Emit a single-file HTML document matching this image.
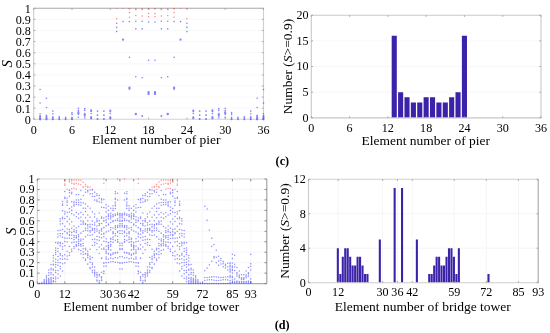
<!DOCTYPE html>
<html lang="en"><head><meta charset="utf-8"><title>Figure (c)(d)</title>
<style>html,body{margin:0;padding:0;background:#fff;}body{width:550px;height:333px;overflow:hidden;font-family:"Liberation Serif", "Times New Roman", serif;}svg{display:block}</style>
</head><body>
<svg width="550" height="333" viewBox="0 0 550 333">
<rect width="550" height="333" fill="#ffffff"/>
<path d="M33.70 108.20H263.50M33.70 97.10H263.50M33.70 86.00H263.50M33.70 74.90H263.50M33.70 63.80H263.50M33.70 52.70H263.50M33.70 41.60H263.50M33.70 30.50H263.50M33.70 19.40H263.50" stroke="#f6f6f6" stroke-width="0.8" fill="none"/>
<path d="M311.30 92.23H541.00M311.30 66.55H541.00M311.30 40.88H541.00" stroke="#f6f6f6" stroke-width="0.8" fill="none"/>
<path d="M64.84 179.00V283.60M106.15 179.00V283.60M119.92 179.00V283.60M133.69 179.00V283.60M172.70 179.00V283.60M202.54 179.00V283.60M232.38 179.00V283.60M250.74 179.00V283.60M37.30 273.14H266.80M37.30 262.68H266.80M37.30 252.22H266.80M37.30 241.76H266.80M37.30 231.30H266.80M37.30 220.84H266.80M37.30 210.38H266.80M37.30 199.92H266.80M37.30 189.46H266.80" stroke="#f5f5f5" stroke-width="0.8" fill="none"/>
<path d="M338.14 179.30V282.70M382.60 179.30V282.70M397.42 179.30V282.70M412.24 179.30V282.70M454.22 179.30V282.70M486.33 179.30V282.70M518.44 179.30V282.70M308.50 248.23H538.20M308.50 213.77H538.20" stroke="#f3f3f3" stroke-width="0.8" fill="none"/>
<path d="M391.69 117.90V35.74h5.10V117.90zM398.08 117.90V92.23h5.10V117.90zM404.46 117.90V97.36h5.10V117.90zM410.84 117.90V102.50h5.10V117.90zM417.22 117.90V102.50h5.10V117.90zM423.60 117.90V97.36h5.10V117.90zM429.98 117.90V97.36h5.10V117.90zM436.36 117.90V102.50h5.10V117.90zM442.74 117.90V102.50h5.10V117.90zM449.12 117.90V97.36h5.10V117.90zM455.50 117.90V92.23h5.10V117.90zM461.88 117.90V35.74h5.10V117.90z" fill="#3b22a9"/>
<path d="M336.80 282.70V248.23h2.07V282.70zM339.27 282.70V274.08h2.07V282.70zM341.74 282.70V256.85h2.07V282.70zM344.21 282.70V248.23h2.07V282.70zM346.68 282.70V248.23h2.07V282.70zM349.15 282.70V256.85h2.07V282.70zM351.62 282.70V265.47h2.07V282.70zM354.09 282.70V265.47h2.07V282.70zM356.56 282.70V256.85h2.07V282.70zM359.03 282.70V256.85h2.07V282.70zM361.50 282.70V265.47h2.07V282.70zM363.97 282.70V274.08h2.07V282.70zM366.44 282.70V274.08h2.07V282.70zM378.79 282.70V239.62h2.07V282.70zM393.61 282.70V187.92h2.07V282.70zM457.83 282.70V248.23h2.07V282.70zM455.36 282.70V274.08h2.07V282.70zM452.89 282.70V256.85h2.07V282.70zM450.42 282.70V248.23h2.07V282.70zM447.95 282.70V248.23h2.07V282.70zM445.48 282.70V256.85h2.07V282.70zM443.01 282.70V265.47h2.07V282.70zM440.54 282.70V265.47h2.07V282.70zM438.07 282.70V256.85h2.07V282.70zM435.60 282.70V256.85h2.07V282.70zM433.13 282.70V265.47h2.07V282.70zM430.66 282.70V274.08h2.07V282.70zM428.19 282.70V274.08h2.07V282.70zM415.84 282.70V239.62h2.07V282.70zM401.02 282.70V187.92h2.07V282.70zM487.46 282.70V274.08h2.07V282.70z" fill="#3b22a9"/>
<path d="M33.70 8.30H263.50" stroke="#a8a8a8" stroke-width="1.1" fill="none"/>
<path d="M263.50 8.30V119.30" stroke="#cfcfcf" stroke-width="1.1" fill="none"/>
<path d="M33.70 119.30H263.50" stroke="#d2d2d2" stroke-width="1.1" fill="none"/>
<path d="M33.70 8.30V119.30" stroke="#cccccc" stroke-width="1.1" fill="none"/>
<path d="M33.70 119.30v-1.7M33.70 8.30v1.7M72.00 119.30v-1.7M72.00 8.30v1.7M110.30 119.30v-1.7M110.30 8.30v1.7M148.60 119.30v-1.7M148.60 8.30v1.7M186.90 119.30v-1.7M186.90 8.30v1.7M225.20 119.30v-1.7M225.20 8.30v1.7M263.50 119.30v-1.7M263.50 8.30v1.7M33.70 119.30h1.7M263.50 119.30h-1.7M33.70 108.20h1.7M263.50 108.20h-1.7M33.70 97.10h1.7M263.50 97.10h-1.7M33.70 86.00h1.7M263.50 86.00h-1.7M33.70 74.90h1.7M263.50 74.90h-1.7M33.70 63.80h1.7M263.50 63.80h-1.7M33.70 52.70h1.7M263.50 52.70h-1.7M33.70 41.60h1.7M263.50 41.60h-1.7M33.70 30.50h1.7M263.50 30.50h-1.7M33.70 19.40h1.7M263.50 19.40h-1.7M33.70 8.30h1.7M263.50 8.30h-1.7" stroke="#9a9a9a" stroke-width="0.8" fill="none"/>
<path d="M311.30 15.20H541.00" stroke="#c8c8c8" stroke-width="1.1" fill="none"/>
<path d="M541.00 15.20V117.90" stroke="#c8c8c8" stroke-width="1.1" fill="none"/>
<path d="M311.30 117.90H541.00" stroke="#c8c8c8" stroke-width="1.1" fill="none"/>
<path d="M311.30 15.20V117.90" stroke="#c8c8c8" stroke-width="1.1" fill="none"/>
<path d="M311.30 117.90v-1.7M311.30 15.20v1.7M349.58 117.90v-1.7M349.58 15.20v1.7M387.87 117.90v-1.7M387.87 15.20v1.7M426.15 117.90v-1.7M426.15 15.20v1.7M464.43 117.90v-1.7M464.43 15.20v1.7M502.72 117.90v-1.7M502.72 15.20v1.7M541.00 117.90v-1.7M541.00 15.20v1.7M311.30 117.90h1.7M541.00 117.90h-1.7M311.30 92.23h1.7M541.00 92.23h-1.7M311.30 66.55h1.7M541.00 66.55h-1.7M311.30 40.88h1.7M541.00 40.88h-1.7M311.30 15.20h1.7M541.00 15.20h-1.7" stroke="#9a9a9a" stroke-width="0.8" fill="none"/>
<path d="M37.30 179.00H266.80" stroke="#d6d6d6" stroke-width="1.1" fill="none"/>
<path d="M266.80 179.00V283.60" stroke="#9c9c9c" stroke-width="1.1" fill="none"/>
<path d="M37.30 283.60H266.80" stroke="#ababab" stroke-width="1.1" fill="none"/>
<path d="M37.30 179.00V283.60" stroke="#cccccc" stroke-width="1.1" fill="none"/>
<path d="M37.30 283.60v-2.3M37.30 179.00v2.3M64.84 283.60v-2.3M64.84 179.00v2.3M106.15 283.60v-2.3M106.15 179.00v2.3M119.92 283.60v-2.3M119.92 179.00v2.3M133.69 283.60v-2.3M133.69 179.00v2.3M172.70 283.60v-2.3M172.70 179.00v2.3M202.54 283.60v-2.3M202.54 179.00v2.3M232.38 283.60v-2.3M232.38 179.00v2.3M250.74 283.60v-2.3M250.74 179.00v2.3M37.30 283.60h2.3M266.80 283.60h-2.3M37.30 273.14h2.3M266.80 273.14h-2.3M37.30 262.68h2.3M266.80 262.68h-2.3M37.30 252.22h2.3M266.80 252.22h-2.3M37.30 241.76h2.3M266.80 241.76h-2.3M37.30 231.30h2.3M266.80 231.30h-2.3M37.30 220.84h2.3M266.80 220.84h-2.3M37.30 210.38h2.3M266.80 210.38h-2.3M37.30 199.92h2.3M266.80 199.92h-2.3M37.30 189.46h2.3M266.80 189.46h-2.3M37.30 179.00h2.3M266.80 179.00h-2.3" stroke="#707070" stroke-width="0.8" fill="none"/>
<path d="M308.50 179.30H538.20" stroke="#d0d0d0" stroke-width="1.1" fill="none"/>
<path d="M538.20 179.30V282.70" stroke="#a8a8a8" stroke-width="1.1" fill="none"/>
<path d="M308.50 282.70H538.20" stroke="#cccccc" stroke-width="1.1" fill="none"/>
<path d="M308.50 179.30V282.70" stroke="#cccccc" stroke-width="1.1" fill="none"/>
<path d="M308.50 282.70v-1.7M308.50 179.30v1.7M338.14 282.70v-1.7M338.14 179.30v1.7M382.60 282.70v-1.7M382.60 179.30v1.7M397.42 282.70v-1.7M397.42 179.30v1.7M412.24 282.70v-1.7M412.24 179.30v1.7M454.22 282.70v-1.7M454.22 179.30v1.7M486.33 282.70v-1.7M486.33 179.30v1.7M518.44 282.70v-1.7M518.44 179.30v1.7M538.20 282.70v-1.7M538.20 179.30v1.7M308.50 282.70h1.7M538.20 282.70h-1.7M308.50 248.23h1.7M538.20 248.23h-1.7M308.50 213.77h1.7M538.20 213.77h-1.7M308.50 179.30h1.7M538.20 179.30h-1.7" stroke="#9a9a9a" stroke-width="0.8" fill="none"/>
<path d="M39.28 89.55a0.80 0.80 0 1 0 1.60 0a0.80 0.80 0 1 0 -1.60 0M262.70 89.55a0.80 0.80 0 1 0 1.60 0a0.80 0.80 0 1 0 -1.60 0M39.28 102.98a0.80 0.80 0 1 0 1.60 0a0.80 0.80 0 1 0 -1.60 0M262.70 102.98a0.80 0.80 0 1 0 1.60 0a0.80 0.80 0 1 0 -1.60 0M39.28 113.75a0.80 0.80 0 1 0 1.60 0a0.80 0.80 0 1 0 -1.60 0M262.70 113.75a0.80 0.80 0 1 0 1.60 0a0.80 0.80 0 1 0 -1.60 0M39.04 115.97a1.04 1.04 0 1 0 2.08 0a1.04 1.04 0 1 0 -2.08 0M262.46 115.97a1.04 1.04 0 1 0 2.08 0a1.04 1.04 0 1 0 -2.08 0M39.04 117.08a1.04 1.04 0 1 0 2.08 0a1.04 1.04 0 1 0 -2.08 0M262.46 117.08a1.04 1.04 0 1 0 2.08 0a1.04 1.04 0 1 0 -2.08 0M38.96 117.97a1.12 1.12 0 1 0 2.24 0a1.12 1.12 0 1 0 -2.24 0M262.38 117.97a1.12 1.12 0 1 0 2.24 0a1.12 1.12 0 1 0 -2.24 0M38.96 118.74a1.12 1.12 0 1 0 2.24 0a1.12 1.12 0 1 0 -2.24 0M262.38 118.74a1.12 1.12 0 1 0 2.24 0a1.12 1.12 0 1 0 -2.24 0M38.96 119.30a1.12 1.12 0 1 0 2.24 0a1.12 1.12 0 1 0 -2.24 0M262.38 119.30a1.12 1.12 0 1 0 2.24 0a1.12 1.12 0 1 0 -2.24 0M45.67 98.21a0.80 0.80 0 1 0 1.60 0a0.80 0.80 0 1 0 -1.60 0M256.32 98.21a0.80 0.80 0 1 0 1.60 0a0.80 0.80 0 1 0 -1.60 0M45.67 107.53a0.80 0.80 0 1 0 1.60 0a0.80 0.80 0 1 0 -1.60 0M256.32 107.53a0.80 0.80 0 1 0 1.60 0a0.80 0.80 0 1 0 -1.60 0M45.67 115.19a0.80 0.80 0 1 0 1.60 0a0.80 0.80 0 1 0 -1.60 0M256.32 115.19a0.80 0.80 0 1 0 1.60 0a0.80 0.80 0 1 0 -1.60 0M45.51 116.30a0.96 0.96 0 1 0 1.92 0a0.96 0.96 0 1 0 -1.92 0M256.16 116.30a0.96 0.96 0 1 0 1.92 0a0.96 0.96 0 1 0 -1.92 0M45.43 117.63a1.04 1.04 0 1 0 2.08 0a1.04 1.04 0 1 0 -2.08 0M256.08 117.63a1.04 1.04 0 1 0 2.08 0a1.04 1.04 0 1 0 -2.08 0M45.35 118.41a1.12 1.12 0 1 0 2.24 0a1.12 1.12 0 1 0 -2.24 0M256.00 118.41a1.12 1.12 0 1 0 2.24 0a1.12 1.12 0 1 0 -2.24 0M45.35 119.30a1.12 1.12 0 1 0 2.24 0a1.12 1.12 0 1 0 -2.24 0M256.00 119.30a1.12 1.12 0 1 0 2.24 0a1.12 1.12 0 1 0 -2.24 0M52.05 111.09a0.80 0.80 0 1 0 1.60 0a0.80 0.80 0 1 0 -1.60 0M249.93 111.09a0.80 0.80 0 1 0 1.60 0a0.80 0.80 0 1 0 -1.60 0M52.05 113.75a0.80 0.80 0 1 0 1.60 0a0.80 0.80 0 1 0 -1.60 0M249.93 113.75a0.80 0.80 0 1 0 1.60 0a0.80 0.80 0 1 0 -1.60 0M51.97 116.86a0.88 0.88 0 1 0 1.76 0a0.88 0.88 0 1 0 -1.76 0M249.85 116.86a0.88 0.88 0 1 0 1.76 0a0.88 0.88 0 1 0 -1.76 0M51.89 117.97a0.96 0.96 0 1 0 1.92 0a0.96 0.96 0 1 0 -1.92 0M249.77 117.97a0.96 0.96 0 1 0 1.92 0a0.96 0.96 0 1 0 -1.92 0M51.81 119.30a1.04 1.04 0 1 0 2.08 0a1.04 1.04 0 1 0 -2.08 0M249.69 119.30a1.04 1.04 0 1 0 2.08 0a1.04 1.04 0 1 0 -2.08 0M58.43 116.86a0.80 0.80 0 1 0 1.60 0a0.80 0.80 0 1 0 -1.60 0M243.55 116.86a0.80 0.80 0 1 0 1.60 0a0.80 0.80 0 1 0 -1.60 0M58.35 117.97a0.88 0.88 0 1 0 1.76 0a0.88 0.88 0 1 0 -1.76 0M243.47 117.97a0.88 0.88 0 1 0 1.76 0a0.88 0.88 0 1 0 -1.76 0M58.27 119.30a0.96 0.96 0 1 0 1.92 0a0.96 0.96 0 1 0 -1.92 0M243.39 119.30a0.96 0.96 0 1 0 1.92 0a0.96 0.96 0 1 0 -1.92 0M64.82 117.30a0.80 0.80 0 1 0 1.60 0a0.80 0.80 0 1 0 -1.60 0M237.17 117.30a0.80 0.80 0 1 0 1.60 0a0.80 0.80 0 1 0 -1.60 0M64.74 118.41a0.88 0.88 0 1 0 1.76 0a0.88 0.88 0 1 0 -1.76 0M237.09 118.41a0.88 0.88 0 1 0 1.76 0a0.88 0.88 0 1 0 -1.76 0M64.66 119.30a0.96 0.96 0 1 0 1.92 0a0.96 0.96 0 1 0 -1.92 0M237.01 119.30a0.96 0.96 0 1 0 1.92 0a0.96 0.96 0 1 0 -1.92 0M71.20 112.64a0.80 0.80 0 1 0 1.60 0a0.80 0.80 0 1 0 -1.60 0M230.78 112.64a0.80 0.80 0 1 0 1.60 0a0.80 0.80 0 1 0 -1.60 0M71.20 114.42a0.80 0.80 0 1 0 1.60 0a0.80 0.80 0 1 0 -1.60 0M230.78 114.42a0.80 0.80 0 1 0 1.60 0a0.80 0.80 0 1 0 -1.60 0M71.20 117.30a0.80 0.80 0 1 0 1.60 0a0.80 0.80 0 1 0 -1.60 0M230.78 117.30a0.80 0.80 0 1 0 1.60 0a0.80 0.80 0 1 0 -1.60 0M71.12 118.41a0.88 0.88 0 1 0 1.76 0a0.88 0.88 0 1 0 -1.76 0M230.70 118.41a0.88 0.88 0 1 0 1.76 0a0.88 0.88 0 1 0 -1.76 0M71.04 119.30a0.96 0.96 0 1 0 1.92 0a0.96 0.96 0 1 0 -1.92 0M230.62 119.30a0.96 0.96 0 1 0 1.92 0a0.96 0.96 0 1 0 -1.92 0M77.58 108.20a0.80 0.80 0 1 0 1.60 0a0.80 0.80 0 1 0 -1.60 0M224.40 108.20a0.80 0.80 0 1 0 1.60 0a0.80 0.80 0 1 0 -1.60 0M77.58 110.42a0.80 0.80 0 1 0 1.60 0a0.80 0.80 0 1 0 -1.60 0M224.40 110.42a0.80 0.80 0 1 0 1.60 0a0.80 0.80 0 1 0 -1.60 0M77.50 111.97a0.88 0.88 0 1 0 1.76 0a0.88 0.88 0 1 0 -1.76 0M224.32 111.97a0.88 0.88 0 1 0 1.76 0a0.88 0.88 0 1 0 -1.76 0M77.18 113.08a1.20 1.20 0 1 0 2.40 0a1.20 1.20 0 1 0 -2.40 0M224.00 113.08a1.20 1.20 0 1 0 2.40 0a1.20 1.20 0 1 0 -2.40 0M77.50 114.30a0.88 0.88 0 1 0 1.76 0a0.88 0.88 0 1 0 -1.76 0M224.32 114.30a0.88 0.88 0 1 0 1.76 0a0.88 0.88 0 1 0 -1.76 0M77.58 117.30a0.80 0.80 0 1 0 1.60 0a0.80 0.80 0 1 0 -1.60 0M224.40 117.30a0.80 0.80 0 1 0 1.60 0a0.80 0.80 0 1 0 -1.60 0M83.97 108.64a0.80 0.80 0 1 0 1.60 0a0.80 0.80 0 1 0 -1.60 0M218.02 108.64a0.80 0.80 0 1 0 1.60 0a0.80 0.80 0 1 0 -1.60 0M83.97 110.42a0.80 0.80 0 1 0 1.60 0a0.80 0.80 0 1 0 -1.60 0M218.02 110.42a0.80 0.80 0 1 0 1.60 0a0.80 0.80 0 1 0 -1.60 0M83.89 113.53a0.88 0.88 0 1 0 1.76 0a0.88 0.88 0 1 0 -1.76 0M217.94 113.53a0.88 0.88 0 1 0 1.76 0a0.88 0.88 0 1 0 -1.76 0M83.57 114.86a1.20 1.20 0 1 0 2.40 0a1.20 1.20 0 1 0 -2.40 0M217.62 114.86a1.20 1.20 0 1 0 2.40 0a1.20 1.20 0 1 0 -2.40 0M83.89 115.97a0.88 0.88 0 1 0 1.76 0a0.88 0.88 0 1 0 -1.76 0M217.94 115.97a0.88 0.88 0 1 0 1.76 0a0.88 0.88 0 1 0 -1.76 0M83.97 117.97a0.80 0.80 0 1 0 1.60 0a0.80 0.80 0 1 0 -1.60 0M218.02 117.97a0.80 0.80 0 1 0 1.60 0a0.80 0.80 0 1 0 -1.60 0M90.19 110.31a0.96 0.96 0 1 0 1.92 0a0.96 0.96 0 1 0 -1.92 0M211.47 110.31a0.96 0.96 0 1 0 1.92 0a0.96 0.96 0 1 0 -1.92 0M90.03 111.09a1.12 1.12 0 1 0 2.24 0a1.12 1.12 0 1 0 -2.24 0M211.31 111.09a1.12 1.12 0 1 0 2.24 0a1.12 1.12 0 1 0 -2.24 0M90.35 113.53a0.80 0.80 0 1 0 1.60 0a0.80 0.80 0 1 0 -1.60 0M211.63 113.53a0.80 0.80 0 1 0 1.60 0a0.80 0.80 0 1 0 -1.60 0M90.19 116.86a0.96 0.96 0 1 0 1.92 0a0.96 0.96 0 1 0 -1.92 0M211.47 116.86a0.96 0.96 0 1 0 1.92 0a0.96 0.96 0 1 0 -1.92 0M89.95 117.63a1.20 1.20 0 1 0 2.40 0a1.20 1.20 0 1 0 -2.40 0M211.23 117.63a1.20 1.20 0 1 0 2.40 0a1.20 1.20 0 1 0 -2.40 0M90.19 118.41a0.96 0.96 0 1 0 1.92 0a0.96 0.96 0 1 0 -1.92 0M211.47 118.41a0.96 0.96 0 1 0 1.92 0a0.96 0.96 0 1 0 -1.92 0M96.65 111.09a0.88 0.88 0 1 0 1.76 0a0.88 0.88 0 1 0 -1.76 0M205.17 111.09a0.88 0.88 0 1 0 1.76 0a0.88 0.88 0 1 0 -1.76 0M96.65 115.19a0.88 0.88 0 1 0 1.76 0a0.88 0.88 0 1 0 -1.76 0M205.17 115.19a0.88 0.88 0 1 0 1.76 0a0.88 0.88 0 1 0 -1.76 0M96.57 118.97a0.96 0.96 0 1 0 1.92 0a0.96 0.96 0 1 0 -1.92 0M205.09 118.97a0.96 0.96 0 1 0 1.92 0a0.96 0.96 0 1 0 -1.92 0M103.04 111.09a0.88 0.88 0 1 0 1.76 0a0.88 0.88 0 1 0 -1.76 0M198.79 111.09a0.88 0.88 0 1 0 1.76 0a0.88 0.88 0 1 0 -1.76 0M103.04 115.19a0.88 0.88 0 1 0 1.76 0a0.88 0.88 0 1 0 -1.76 0M198.79 115.19a0.88 0.88 0 1 0 1.76 0a0.88 0.88 0 1 0 -1.76 0M102.96 118.97a0.96 0.96 0 1 0 1.92 0a0.96 0.96 0 1 0 -1.92 0M198.71 118.97a0.96 0.96 0 1 0 1.92 0a0.96 0.96 0 1 0 -1.92 0M109.34 110.42a0.96 0.96 0 1 0 1.92 0a0.96 0.96 0 1 0 -1.92 0M192.32 110.42a0.96 0.96 0 1 0 1.92 0a0.96 0.96 0 1 0 -1.92 0M109.18 110.97a1.12 1.12 0 1 0 2.24 0a1.12 1.12 0 1 0 -2.24 0M192.16 110.97a1.12 1.12 0 1 0 2.24 0a1.12 1.12 0 1 0 -2.24 0M109.50 113.42a0.80 0.80 0 1 0 1.60 0a0.80 0.80 0 1 0 -1.60 0M192.48 113.42a0.80 0.80 0 1 0 1.60 0a0.80 0.80 0 1 0 -1.60 0M109.34 117.30a0.96 0.96 0 1 0 1.92 0a0.96 0.96 0 1 0 -1.92 0M192.32 117.30a0.96 0.96 0 1 0 1.92 0a0.96 0.96 0 1 0 -1.92 0M109.10 117.86a1.20 1.20 0 1 0 2.40 0a1.20 1.20 0 1 0 -2.40 0M192.08 117.86a1.20 1.20 0 1 0 2.40 0a1.20 1.20 0 1 0 -2.40 0M109.34 118.41a0.96 0.96 0 1 0 1.92 0a0.96 0.96 0 1 0 -1.92 0M192.32 118.41a0.96 0.96 0 1 0 1.92 0a0.96 0.96 0 1 0 -1.92 0M115.88 23.28a0.80 0.80 0 1 0 1.60 0a0.80 0.80 0 1 0 -1.60 0M186.10 23.28a0.80 0.80 0 1 0 1.60 0a0.80 0.80 0 1 0 -1.60 0M115.88 27.39a0.80 0.80 0 1 0 1.60 0a0.80 0.80 0 1 0 -1.60 0M186.10 27.39a0.80 0.80 0 1 0 1.60 0a0.80 0.80 0 1 0 -1.60 0M115.88 31.61a0.80 0.80 0 1 0 1.60 0a0.80 0.80 0 1 0 -1.60 0M186.10 31.61a0.80 0.80 0 1 0 1.60 0a0.80 0.80 0 1 0 -1.60 0M122.27 21.62a0.80 0.80 0 1 0 1.60 0a0.80 0.80 0 1 0 -1.60 0M179.72 21.62a0.80 0.80 0 1 0 1.60 0a0.80 0.80 0 1 0 -1.60 0M121.95 39.71a1.12 1.12 0 1 0 2.24 0a1.12 1.12 0 1 0 -2.24 0M179.40 39.71a1.12 1.12 0 1 0 2.24 0a1.12 1.12 0 1 0 -2.24 0M128.65 21.62a0.80 0.80 0 1 0 1.60 0a0.80 0.80 0 1 0 -1.60 0M173.33 21.62a0.80 0.80 0 1 0 1.60 0a0.80 0.80 0 1 0 -1.60 0M128.65 57.36a0.80 0.80 0 1 0 1.60 0a0.80 0.80 0 1 0 -1.60 0M173.33 57.36a0.80 0.80 0 1 0 1.60 0a0.80 0.80 0 1 0 -1.60 0M128.33 87.66a1.12 1.12 0 1 0 2.24 0a1.12 1.12 0 1 0 -2.24 0M173.01 87.66a1.12 1.12 0 1 0 2.24 0a1.12 1.12 0 1 0 -2.24 0M128.33 88.77a1.12 1.12 0 1 0 2.24 0a1.12 1.12 0 1 0 -2.24 0M173.01 88.77a1.12 1.12 0 1 0 2.24 0a1.12 1.12 0 1 0 -2.24 0M135.03 21.18a0.80 0.80 0 1 0 1.60 0a0.80 0.80 0 1 0 -1.60 0M166.95 21.18a0.80 0.80 0 1 0 1.60 0a0.80 0.80 0 1 0 -1.60 0M135.03 28.84a0.80 0.80 0 1 0 1.60 0a0.80 0.80 0 1 0 -1.60 0M166.95 28.84a0.80 0.80 0 1 0 1.60 0a0.80 0.80 0 1 0 -1.60 0M135.03 76.68a0.80 0.80 0 1 0 1.60 0a0.80 0.80 0 1 0 -1.60 0M166.95 76.68a0.80 0.80 0 1 0 1.60 0a0.80 0.80 0 1 0 -1.60 0M134.63 113.97a1.20 1.20 0 1 0 2.40 0a1.20 1.20 0 1 0 -2.40 0M166.55 113.97a1.20 1.20 0 1 0 2.40 0a1.20 1.20 0 1 0 -2.40 0M141.42 21.18a0.80 0.80 0 1 0 1.60 0a0.80 0.80 0 1 0 -1.60 0M160.57 21.18a0.80 0.80 0 1 0 1.60 0a0.80 0.80 0 1 0 -1.60 0M141.42 28.84a0.80 0.80 0 1 0 1.60 0a0.80 0.80 0 1 0 -1.60 0M160.57 28.84a0.80 0.80 0 1 0 1.60 0a0.80 0.80 0 1 0 -1.60 0M141.42 77.79a0.80 0.80 0 1 0 1.60 0a0.80 0.80 0 1 0 -1.60 0M160.57 77.79a0.80 0.80 0 1 0 1.60 0a0.80 0.80 0 1 0 -1.60 0M141.26 115.97a0.96 0.96 0 1 0 1.92 0a0.96 0.96 0 1 0 -1.92 0M160.41 115.97a0.96 0.96 0 1 0 1.92 0a0.96 0.96 0 1 0 -1.92 0M147.80 21.95a0.80 0.80 0 1 0 1.60 0a0.80 0.80 0 1 0 -1.60 0M154.18 21.95a0.80 0.80 0 1 0 1.60 0a0.80 0.80 0 1 0 -1.60 0M147.80 60.25a0.80 0.80 0 1 0 1.60 0a0.80 0.80 0 1 0 -1.60 0M154.18 60.25a0.80 0.80 0 1 0 1.60 0a0.80 0.80 0 1 0 -1.60 0M147.40 92.22a1.20 1.20 0 1 0 2.40 0a1.20 1.20 0 1 0 -2.40 0M153.78 92.22a1.20 1.20 0 1 0 2.40 0a1.20 1.20 0 1 0 -2.40 0M147.40 93.77a1.20 1.20 0 1 0 2.40 0a1.20 1.20 0 1 0 -2.40 0M153.78 93.77a1.20 1.20 0 1 0 2.40 0a1.20 1.20 0 1 0 -2.40 0" fill="#2222ff" fill-opacity="0.56"/>
<path d="M116.04 8.30a0.64 0.64 0 1 0 1.28 0a0.64 0.64 0 1 0 -1.28 0M186.26 8.30a0.64 0.64 0 1 0 1.28 0a0.64 0.64 0 1 0 -1.28 0M115.88 18.73a0.80 0.80 0 1 0 1.60 0a0.80 0.80 0 1 0 -1.60 0M186.10 18.73a0.80 0.80 0 1 0 1.60 0a0.80 0.80 0 1 0 -1.60 0M122.43 8.30a0.64 0.64 0 1 0 1.28 0a0.64 0.64 0 1 0 -1.28 0M179.88 8.30a0.64 0.64 0 1 0 1.28 0a0.64 0.64 0 1 0 -1.28 0M128.49 8.63a0.96 0.96 0 1 0 1.92 0a0.96 0.96 0 1 0 -1.92 0M173.17 8.63a0.96 0.96 0 1 0 1.92 0a0.96 0.96 0 1 0 -1.92 0M128.65 12.52a0.80 0.80 0 1 0 1.60 0a0.80 0.80 0 1 0 -1.60 0M173.33 12.52a0.80 0.80 0 1 0 1.60 0a0.80 0.80 0 1 0 -1.60 0M128.65 17.18a0.80 0.80 0 1 0 1.60 0a0.80 0.80 0 1 0 -1.60 0M173.33 17.18a0.80 0.80 0 1 0 1.60 0a0.80 0.80 0 1 0 -1.60 0M134.87 9.19a0.96 0.96 0 1 0 1.92 0a0.96 0.96 0 1 0 -1.92 0M166.79 9.19a0.96 0.96 0 1 0 1.92 0a0.96 0.96 0 1 0 -1.92 0M135.03 15.51a0.80 0.80 0 1 0 1.60 0a0.80 0.80 0 1 0 -1.60 0M166.95 15.51a0.80 0.80 0 1 0 1.60 0a0.80 0.80 0 1 0 -1.60 0M141.26 9.19a0.96 0.96 0 1 0 1.92 0a0.96 0.96 0 1 0 -1.92 0M160.41 9.19a0.96 0.96 0 1 0 1.92 0a0.96 0.96 0 1 0 -1.92 0M141.42 16.07a0.80 0.80 0 1 0 1.60 0a0.80 0.80 0 1 0 -1.60 0M160.57 16.07a0.80 0.80 0 1 0 1.60 0a0.80 0.80 0 1 0 -1.60 0M147.64 8.63a0.96 0.96 0 1 0 1.92 0a0.96 0.96 0 1 0 -1.92 0M154.02 8.63a0.96 0.96 0 1 0 1.92 0a0.96 0.96 0 1 0 -1.92 0M147.80 13.52a0.80 0.80 0 1 0 1.60 0a0.80 0.80 0 1 0 -1.60 0M154.18 13.52a0.80 0.80 0 1 0 1.60 0a0.80 0.80 0 1 0 -1.60 0M147.80 16.74a0.80 0.80 0 1 0 1.60 0a0.80 0.80 0 1 0 -1.60 0M154.18 16.74a0.80 0.80 0 1 0 1.60 0a0.80 0.80 0 1 0 -1.60 0" fill="#ff3030" fill-opacity="0.56"/>
<path d="M38.84 283.60a0.76 0.76 0 1 0 1.52 0a0.76 0.76 0 1 0 -1.52 0M201.78 283.60a0.76 0.76 0 1 0 1.52 0a0.76 0.76 0 1 0 -1.52 0M38.84 283.60a0.76 0.76 0 1 0 1.52 0a0.76 0.76 0 1 0 -1.52 0M201.78 283.60a0.76 0.76 0 1 0 1.52 0a0.76 0.76 0 1 0 -1.52 0M38.84 283.60a0.76 0.76 0 1 0 1.52 0a0.76 0.76 0 1 0 -1.52 0M201.78 283.60a0.76 0.76 0 1 0 1.52 0a0.76 0.76 0 1 0 -1.52 0M38.84 283.60a0.76 0.76 0 1 0 1.52 0a0.76 0.76 0 1 0 -1.52 0M201.78 283.60a0.76 0.76 0 1 0 1.52 0a0.76 0.76 0 1 0 -1.52 0M38.84 283.60a0.76 0.76 0 1 0 1.52 0a0.76 0.76 0 1 0 -1.52 0M201.78 283.60a0.76 0.76 0 1 0 1.52 0a0.76 0.76 0 1 0 -1.52 0M38.84 283.60a0.76 0.76 0 1 0 1.52 0a0.76 0.76 0 1 0 -1.52 0M201.78 283.60a0.76 0.76 0 1 0 1.52 0a0.76 0.76 0 1 0 -1.52 0M38.84 283.60a0.76 0.76 0 1 0 1.52 0a0.76 0.76 0 1 0 -1.52 0M201.78 283.60a0.76 0.76 0 1 0 1.52 0a0.76 0.76 0 1 0 -1.52 0M38.84 283.60a0.76 0.76 0 1 0 1.52 0a0.76 0.76 0 1 0 -1.52 0M201.78 283.60a0.76 0.76 0 1 0 1.52 0a0.76 0.76 0 1 0 -1.52 0M38.84 283.60a0.76 0.76 0 1 0 1.52 0a0.76 0.76 0 1 0 -1.52 0M201.78 283.60a0.76 0.76 0 1 0 1.52 0a0.76 0.76 0 1 0 -1.52 0M38.84 283.60a0.76 0.76 0 1 0 1.52 0a0.76 0.76 0 1 0 -1.52 0M201.78 283.60a0.76 0.76 0 1 0 1.52 0a0.76 0.76 0 1 0 -1.52 0M38.84 283.60a0.76 0.76 0 1 0 1.52 0a0.76 0.76 0 1 0 -1.52 0M201.78 283.60a0.76 0.76 0 1 0 1.52 0a0.76 0.76 0 1 0 -1.52 0M38.84 283.60a0.76 0.76 0 1 0 1.52 0a0.76 0.76 0 1 0 -1.52 0M201.78 283.60a0.76 0.76 0 1 0 1.52 0a0.76 0.76 0 1 0 -1.52 0M38.84 283.60a0.76 0.76 0 1 0 1.52 0a0.76 0.76 0 1 0 -1.52 0M201.78 283.60a0.76 0.76 0 1 0 1.52 0a0.76 0.76 0 1 0 -1.52 0M38.84 283.60a0.76 0.76 0 1 0 1.52 0a0.76 0.76 0 1 0 -1.52 0M201.78 283.60a0.76 0.76 0 1 0 1.52 0a0.76 0.76 0 1 0 -1.52 0M38.84 283.60a0.76 0.76 0 1 0 1.52 0a0.76 0.76 0 1 0 -1.52 0M201.78 283.60a0.76 0.76 0 1 0 1.52 0a0.76 0.76 0 1 0 -1.52 0M38.84 283.60a0.76 0.76 0 1 0 1.52 0a0.76 0.76 0 1 0 -1.52 0M201.78 283.60a0.76 0.76 0 1 0 1.52 0a0.76 0.76 0 1 0 -1.52 0M38.84 283.29a0.76 0.76 0 1 0 1.52 0a0.76 0.76 0 1 0 -1.52 0M201.78 283.29a0.76 0.76 0 1 0 1.52 0a0.76 0.76 0 1 0 -1.52 0M41.13 283.14a0.76 0.76 0 1 0 1.52 0a0.76 0.76 0 1 0 -1.52 0M199.49 283.14a0.76 0.76 0 1 0 1.52 0a0.76 0.76 0 1 0 -1.52 0M41.13 283.24a0.76 0.76 0 1 0 1.52 0a0.76 0.76 0 1 0 -1.52 0M199.49 283.24a0.76 0.76 0 1 0 1.52 0a0.76 0.76 0 1 0 -1.52 0M41.13 283.32a0.76 0.76 0 1 0 1.52 0a0.76 0.76 0 1 0 -1.52 0M199.49 283.32a0.76 0.76 0 1 0 1.52 0a0.76 0.76 0 1 0 -1.52 0M41.13 283.38a0.76 0.76 0 1 0 1.52 0a0.76 0.76 0 1 0 -1.52 0M199.49 283.38a0.76 0.76 0 1 0 1.52 0a0.76 0.76 0 1 0 -1.52 0M41.13 283.43a0.76 0.76 0 1 0 1.52 0a0.76 0.76 0 1 0 -1.52 0M199.49 283.43a0.76 0.76 0 1 0 1.52 0a0.76 0.76 0 1 0 -1.52 0M41.13 283.51a0.76 0.76 0 1 0 1.52 0a0.76 0.76 0 1 0 -1.52 0M199.49 283.51a0.76 0.76 0 1 0 1.52 0a0.76 0.76 0 1 0 -1.52 0M41.13 283.54a0.76 0.76 0 1 0 1.52 0a0.76 0.76 0 1 0 -1.52 0M199.49 283.54a0.76 0.76 0 1 0 1.52 0a0.76 0.76 0 1 0 -1.52 0M41.13 283.60a0.76 0.76 0 1 0 1.52 0a0.76 0.76 0 1 0 -1.52 0M199.49 283.60a0.76 0.76 0 1 0 1.52 0a0.76 0.76 0 1 0 -1.52 0M41.13 283.58a0.76 0.76 0 1 0 1.52 0a0.76 0.76 0 1 0 -1.52 0M199.49 283.58a0.76 0.76 0 1 0 1.52 0a0.76 0.76 0 1 0 -1.52 0M41.13 283.60a0.76 0.76 0 1 0 1.52 0a0.76 0.76 0 1 0 -1.52 0M199.49 283.60a0.76 0.76 0 1 0 1.52 0a0.76 0.76 0 1 0 -1.52 0M41.13 283.57a0.76 0.76 0 1 0 1.52 0a0.76 0.76 0 1 0 -1.52 0M199.49 283.57a0.76 0.76 0 1 0 1.52 0a0.76 0.76 0 1 0 -1.52 0M41.13 283.57a0.76 0.76 0 1 0 1.52 0a0.76 0.76 0 1 0 -1.52 0M199.49 283.57a0.76 0.76 0 1 0 1.52 0a0.76 0.76 0 1 0 -1.52 0M41.13 283.60a0.76 0.76 0 1 0 1.52 0a0.76 0.76 0 1 0 -1.52 0M199.49 283.60a0.76 0.76 0 1 0 1.52 0a0.76 0.76 0 1 0 -1.52 0M41.13 283.60a0.76 0.76 0 1 0 1.52 0a0.76 0.76 0 1 0 -1.52 0M199.49 283.60a0.76 0.76 0 1 0 1.52 0a0.76 0.76 0 1 0 -1.52 0M41.13 283.60a0.76 0.76 0 1 0 1.52 0a0.76 0.76 0 1 0 -1.52 0M199.49 283.60a0.76 0.76 0 1 0 1.52 0a0.76 0.76 0 1 0 -1.52 0M41.13 283.18a0.76 0.76 0 1 0 1.52 0a0.76 0.76 0 1 0 -1.52 0M199.49 283.18a0.76 0.76 0 1 0 1.52 0a0.76 0.76 0 1 0 -1.52 0M41.13 282.76a0.76 0.76 0 1 0 1.52 0a0.76 0.76 0 1 0 -1.52 0M199.49 282.76a0.76 0.76 0 1 0 1.52 0a0.76 0.76 0 1 0 -1.52 0M41.13 283.29a0.76 0.76 0 1 0 1.52 0a0.76 0.76 0 1 0 -1.52 0M199.49 283.29a0.76 0.76 0 1 0 1.52 0a0.76 0.76 0 1 0 -1.52 0M43.42 279.68a0.76 0.76 0 1 0 1.52 0a0.76 0.76 0 1 0 -1.52 0M197.19 279.68a0.76 0.76 0 1 0 1.52 0a0.76 0.76 0 1 0 -1.52 0M43.42 280.94a0.76 0.76 0 1 0 1.52 0a0.76 0.76 0 1 0 -1.52 0M197.19 280.94a0.76 0.76 0 1 0 1.52 0a0.76 0.76 0 1 0 -1.52 0M43.42 281.52a0.76 0.76 0 1 0 1.52 0a0.76 0.76 0 1 0 -1.52 0M197.19 281.52a0.76 0.76 0 1 0 1.52 0a0.76 0.76 0 1 0 -1.52 0M43.42 282.27a0.76 0.76 0 1 0 1.52 0a0.76 0.76 0 1 0 -1.52 0M197.19 282.27a0.76 0.76 0 1 0 1.52 0a0.76 0.76 0 1 0 -1.52 0M43.42 282.38a0.76 0.76 0 1 0 1.52 0a0.76 0.76 0 1 0 -1.52 0M197.19 282.38a0.76 0.76 0 1 0 1.52 0a0.76 0.76 0 1 0 -1.52 0M43.42 282.93a0.76 0.76 0 1 0 1.52 0a0.76 0.76 0 1 0 -1.52 0M197.19 282.93a0.76 0.76 0 1 0 1.52 0a0.76 0.76 0 1 0 -1.52 0M43.42 283.22a0.76 0.76 0 1 0 1.52 0a0.76 0.76 0 1 0 -1.52 0M197.19 283.22a0.76 0.76 0 1 0 1.52 0a0.76 0.76 0 1 0 -1.52 0M43.42 283.57a0.76 0.76 0 1 0 1.52 0a0.76 0.76 0 1 0 -1.52 0M197.19 283.57a0.76 0.76 0 1 0 1.52 0a0.76 0.76 0 1 0 -1.52 0M43.42 283.49a0.76 0.76 0 1 0 1.52 0a0.76 0.76 0 1 0 -1.52 0M197.19 283.49a0.76 0.76 0 1 0 1.52 0a0.76 0.76 0 1 0 -1.52 0M43.42 283.60a0.76 0.76 0 1 0 1.52 0a0.76 0.76 0 1 0 -1.52 0M197.19 283.60a0.76 0.76 0 1 0 1.52 0a0.76 0.76 0 1 0 -1.52 0M43.42 283.48a0.76 0.76 0 1 0 1.52 0a0.76 0.76 0 1 0 -1.52 0M197.19 283.48a0.76 0.76 0 1 0 1.52 0a0.76 0.76 0 1 0 -1.52 0M43.42 283.30a0.76 0.76 0 1 0 1.52 0a0.76 0.76 0 1 0 -1.52 0M197.19 283.30a0.76 0.76 0 1 0 1.52 0a0.76 0.76 0 1 0 -1.52 0M43.42 283.32a0.76 0.76 0 1 0 1.52 0a0.76 0.76 0 1 0 -1.52 0M197.19 283.32a0.76 0.76 0 1 0 1.52 0a0.76 0.76 0 1 0 -1.52 0M43.42 283.60a0.76 0.76 0 1 0 1.52 0a0.76 0.76 0 1 0 -1.52 0M197.19 283.60a0.76 0.76 0 1 0 1.52 0a0.76 0.76 0 1 0 -1.52 0M43.42 283.60a0.76 0.76 0 1 0 1.52 0a0.76 0.76 0 1 0 -1.52 0M197.19 283.60a0.76 0.76 0 1 0 1.52 0a0.76 0.76 0 1 0 -1.52 0M43.42 283.08a0.76 0.76 0 1 0 1.52 0a0.76 0.76 0 1 0 -1.52 0M197.19 283.08a0.76 0.76 0 1 0 1.52 0a0.76 0.76 0 1 0 -1.52 0M43.42 282.34a0.76 0.76 0 1 0 1.52 0a0.76 0.76 0 1 0 -1.52 0M197.19 282.34a0.76 0.76 0 1 0 1.52 0a0.76 0.76 0 1 0 -1.52 0M43.42 281.51a0.76 0.76 0 1 0 1.52 0a0.76 0.76 0 1 0 -1.52 0M197.19 281.51a0.76 0.76 0 1 0 1.52 0a0.76 0.76 0 1 0 -1.52 0M43.42 282.87a0.76 0.76 0 1 0 1.52 0a0.76 0.76 0 1 0 -1.52 0M197.19 282.87a0.76 0.76 0 1 0 1.52 0a0.76 0.76 0 1 0 -1.52 0M45.72 275.83a0.76 0.76 0 1 0 1.52 0a0.76 0.76 0 1 0 -1.52 0M194.89 275.83a0.76 0.76 0 1 0 1.52 0a0.76 0.76 0 1 0 -1.52 0M45.72 277.31a0.76 0.76 0 1 0 1.52 0a0.76 0.76 0 1 0 -1.52 0M194.89 277.31a0.76 0.76 0 1 0 1.52 0a0.76 0.76 0 1 0 -1.52 0M45.72 278.92a0.76 0.76 0 1 0 1.52 0a0.76 0.76 0 1 0 -1.52 0M194.89 278.92a0.76 0.76 0 1 0 1.52 0a0.76 0.76 0 1 0 -1.52 0M45.72 280.38a0.76 0.76 0 1 0 1.52 0a0.76 0.76 0 1 0 -1.52 0M194.89 280.38a0.76 0.76 0 1 0 1.52 0a0.76 0.76 0 1 0 -1.52 0M45.72 280.56a0.76 0.76 0 1 0 1.52 0a0.76 0.76 0 1 0 -1.52 0M194.89 280.56a0.76 0.76 0 1 0 1.52 0a0.76 0.76 0 1 0 -1.52 0M45.72 281.67a0.76 0.76 0 1 0 1.52 0a0.76 0.76 0 1 0 -1.52 0M194.89 281.67a0.76 0.76 0 1 0 1.52 0a0.76 0.76 0 1 0 -1.52 0M45.72 282.76a0.76 0.76 0 1 0 1.52 0a0.76 0.76 0 1 0 -1.52 0M194.89 282.76a0.76 0.76 0 1 0 1.52 0a0.76 0.76 0 1 0 -1.52 0M45.72 283.14a0.76 0.76 0 1 0 1.52 0a0.76 0.76 0 1 0 -1.52 0M194.89 283.14a0.76 0.76 0 1 0 1.52 0a0.76 0.76 0 1 0 -1.52 0M45.72 283.45a0.76 0.76 0 1 0 1.52 0a0.76 0.76 0 1 0 -1.52 0M194.89 283.45a0.76 0.76 0 1 0 1.52 0a0.76 0.76 0 1 0 -1.52 0M45.72 283.60a0.76 0.76 0 1 0 1.52 0a0.76 0.76 0 1 0 -1.52 0M194.89 283.60a0.76 0.76 0 1 0 1.52 0a0.76 0.76 0 1 0 -1.52 0M45.72 283.13a0.76 0.76 0 1 0 1.52 0a0.76 0.76 0 1 0 -1.52 0M194.89 283.13a0.76 0.76 0 1 0 1.52 0a0.76 0.76 0 1 0 -1.52 0M45.72 283.28a0.76 0.76 0 1 0 1.52 0a0.76 0.76 0 1 0 -1.52 0M194.89 283.28a0.76 0.76 0 1 0 1.52 0a0.76 0.76 0 1 0 -1.52 0M45.72 283.60a0.76 0.76 0 1 0 1.52 0a0.76 0.76 0 1 0 -1.52 0M194.89 283.60a0.76 0.76 0 1 0 1.52 0a0.76 0.76 0 1 0 -1.52 0M45.72 283.60a0.76 0.76 0 1 0 1.52 0a0.76 0.76 0 1 0 -1.52 0M194.89 283.60a0.76 0.76 0 1 0 1.52 0a0.76 0.76 0 1 0 -1.52 0M45.72 283.60a0.76 0.76 0 1 0 1.52 0a0.76 0.76 0 1 0 -1.52 0M194.89 283.60a0.76 0.76 0 1 0 1.52 0a0.76 0.76 0 1 0 -1.52 0M45.72 282.97a0.76 0.76 0 1 0 1.52 0a0.76 0.76 0 1 0 -1.52 0M194.89 282.97a0.76 0.76 0 1 0 1.52 0a0.76 0.76 0 1 0 -1.52 0M45.72 282.34a0.76 0.76 0 1 0 1.52 0a0.76 0.76 0 1 0 -1.52 0M194.89 282.34a0.76 0.76 0 1 0 1.52 0a0.76 0.76 0 1 0 -1.52 0M45.72 281.51a0.76 0.76 0 1 0 1.52 0a0.76 0.76 0 1 0 -1.52 0M194.89 281.51a0.76 0.76 0 1 0 1.52 0a0.76 0.76 0 1 0 -1.52 0M45.72 282.87a0.76 0.76 0 1 0 1.52 0a0.76 0.76 0 1 0 -1.52 0M194.89 282.87a0.76 0.76 0 1 0 1.52 0a0.76 0.76 0 1 0 -1.52 0M48.02 269.91a0.76 0.76 0 1 0 1.52 0a0.76 0.76 0 1 0 -1.52 0M192.60 269.91a0.76 0.76 0 1 0 1.52 0a0.76 0.76 0 1 0 -1.52 0M48.02 272.81a0.76 0.76 0 1 0 1.52 0a0.76 0.76 0 1 0 -1.52 0M192.60 272.81a0.76 0.76 0 1 0 1.52 0a0.76 0.76 0 1 0 -1.52 0M48.02 275.15a0.76 0.76 0 1 0 1.52 0a0.76 0.76 0 1 0 -1.52 0M192.60 275.15a0.76 0.76 0 1 0 1.52 0a0.76 0.76 0 1 0 -1.52 0M48.02 278.30a0.76 0.76 0 1 0 1.52 0a0.76 0.76 0 1 0 -1.52 0M192.60 278.30a0.76 0.76 0 1 0 1.52 0a0.76 0.76 0 1 0 -1.52 0M48.02 279.51a0.76 0.76 0 1 0 1.52 0a0.76 0.76 0 1 0 -1.52 0M192.60 279.51a0.76 0.76 0 1 0 1.52 0a0.76 0.76 0 1 0 -1.52 0M48.02 280.41a0.76 0.76 0 1 0 1.52 0a0.76 0.76 0 1 0 -1.52 0M192.60 280.41a0.76 0.76 0 1 0 1.52 0a0.76 0.76 0 1 0 -1.52 0M48.02 280.90a0.76 0.76 0 1 0 1.52 0a0.76 0.76 0 1 0 -1.52 0M192.60 280.90a0.76 0.76 0 1 0 1.52 0a0.76 0.76 0 1 0 -1.52 0M48.02 283.60a0.76 0.76 0 1 0 1.52 0a0.76 0.76 0 1 0 -1.52 0M192.60 283.60a0.76 0.76 0 1 0 1.52 0a0.76 0.76 0 1 0 -1.52 0M48.02 283.60a0.76 0.76 0 1 0 1.52 0a0.76 0.76 0 1 0 -1.52 0M192.60 283.60a0.76 0.76 0 1 0 1.52 0a0.76 0.76 0 1 0 -1.52 0M48.02 283.60a0.76 0.76 0 1 0 1.52 0a0.76 0.76 0 1 0 -1.52 0M192.60 283.60a0.76 0.76 0 1 0 1.52 0a0.76 0.76 0 1 0 -1.52 0M48.02 282.31a0.76 0.76 0 1 0 1.52 0a0.76 0.76 0 1 0 -1.52 0M192.60 282.31a0.76 0.76 0 1 0 1.52 0a0.76 0.76 0 1 0 -1.52 0M48.02 282.20a0.76 0.76 0 1 0 1.52 0a0.76 0.76 0 1 0 -1.52 0M192.60 282.20a0.76 0.76 0 1 0 1.52 0a0.76 0.76 0 1 0 -1.52 0M48.02 283.21a0.76 0.76 0 1 0 1.52 0a0.76 0.76 0 1 0 -1.52 0M192.60 283.21a0.76 0.76 0 1 0 1.52 0a0.76 0.76 0 1 0 -1.52 0M48.02 282.52a0.76 0.76 0 1 0 1.52 0a0.76 0.76 0 1 0 -1.52 0M192.60 282.52a0.76 0.76 0 1 0 1.52 0a0.76 0.76 0 1 0 -1.52 0M48.02 283.60a0.76 0.76 0 1 0 1.52 0a0.76 0.76 0 1 0 -1.52 0M192.60 283.60a0.76 0.76 0 1 0 1.52 0a0.76 0.76 0 1 0 -1.52 0M48.02 282.87a0.76 0.76 0 1 0 1.52 0a0.76 0.76 0 1 0 -1.52 0M192.60 282.87a0.76 0.76 0 1 0 1.52 0a0.76 0.76 0 1 0 -1.52 0M48.02 281.51a0.76 0.76 0 1 0 1.52 0a0.76 0.76 0 1 0 -1.52 0M192.60 281.51a0.76 0.76 0 1 0 1.52 0a0.76 0.76 0 1 0 -1.52 0M48.02 279.73a0.76 0.76 0 1 0 1.52 0a0.76 0.76 0 1 0 -1.52 0M192.60 279.73a0.76 0.76 0 1 0 1.52 0a0.76 0.76 0 1 0 -1.52 0M48.02 279.73a0.76 0.76 0 1 0 1.52 0a0.76 0.76 0 1 0 -1.52 0M192.60 279.73a0.76 0.76 0 1 0 1.52 0a0.76 0.76 0 1 0 -1.52 0M50.31 264.58a0.76 0.76 0 1 0 1.52 0a0.76 0.76 0 1 0 -1.52 0M190.31 264.58a0.76 0.76 0 1 0 1.52 0a0.76 0.76 0 1 0 -1.52 0M50.31 268.23a0.76 0.76 0 1 0 1.52 0a0.76 0.76 0 1 0 -1.52 0M190.31 268.23a0.76 0.76 0 1 0 1.52 0a0.76 0.76 0 1 0 -1.52 0M50.31 269.72a0.76 0.76 0 1 0 1.52 0a0.76 0.76 0 1 0 -1.52 0M190.31 269.72a0.76 0.76 0 1 0 1.52 0a0.76 0.76 0 1 0 -1.52 0M50.31 272.48a0.76 0.76 0 1 0 1.52 0a0.76 0.76 0 1 0 -1.52 0M190.31 272.48a0.76 0.76 0 1 0 1.52 0a0.76 0.76 0 1 0 -1.52 0M50.31 274.18a0.76 0.76 0 1 0 1.52 0a0.76 0.76 0 1 0 -1.52 0M190.31 274.18a0.76 0.76 0 1 0 1.52 0a0.76 0.76 0 1 0 -1.52 0M50.31 277.51a0.76 0.76 0 1 0 1.52 0a0.76 0.76 0 1 0 -1.52 0M190.31 277.51a0.76 0.76 0 1 0 1.52 0a0.76 0.76 0 1 0 -1.52 0M50.31 277.48a0.76 0.76 0 1 0 1.52 0a0.76 0.76 0 1 0 -1.52 0M190.31 277.48a0.76 0.76 0 1 0 1.52 0a0.76 0.76 0 1 0 -1.52 0M50.31 283.60a0.76 0.76 0 1 0 1.52 0a0.76 0.76 0 1 0 -1.52 0M190.31 283.60a0.76 0.76 0 1 0 1.52 0a0.76 0.76 0 1 0 -1.52 0M50.31 283.60a0.76 0.76 0 1 0 1.52 0a0.76 0.76 0 1 0 -1.52 0M190.31 283.60a0.76 0.76 0 1 0 1.52 0a0.76 0.76 0 1 0 -1.52 0M50.31 283.60a0.76 0.76 0 1 0 1.52 0a0.76 0.76 0 1 0 -1.52 0M190.31 283.60a0.76 0.76 0 1 0 1.52 0a0.76 0.76 0 1 0 -1.52 0M50.31 280.16a0.76 0.76 0 1 0 1.52 0a0.76 0.76 0 1 0 -1.52 0M190.31 280.16a0.76 0.76 0 1 0 1.52 0a0.76 0.76 0 1 0 -1.52 0M50.31 278.93a0.76 0.76 0 1 0 1.52 0a0.76 0.76 0 1 0 -1.52 0M190.31 278.93a0.76 0.76 0 1 0 1.52 0a0.76 0.76 0 1 0 -1.52 0M50.31 282.44a0.76 0.76 0 1 0 1.52 0a0.76 0.76 0 1 0 -1.52 0M190.31 282.44a0.76 0.76 0 1 0 1.52 0a0.76 0.76 0 1 0 -1.52 0M50.31 283.45a0.76 0.76 0 1 0 1.52 0a0.76 0.76 0 1 0 -1.52 0M190.31 283.45a0.76 0.76 0 1 0 1.52 0a0.76 0.76 0 1 0 -1.52 0M50.31 282.87a0.76 0.76 0 1 0 1.52 0a0.76 0.76 0 1 0 -1.52 0M190.31 282.87a0.76 0.76 0 1 0 1.52 0a0.76 0.76 0 1 0 -1.52 0M50.31 281.51a0.76 0.76 0 1 0 1.52 0a0.76 0.76 0 1 0 -1.52 0M190.31 281.51a0.76 0.76 0 1 0 1.52 0a0.76 0.76 0 1 0 -1.52 0M50.31 279.21a0.76 0.76 0 1 0 1.52 0a0.76 0.76 0 1 0 -1.52 0M190.31 279.21a0.76 0.76 0 1 0 1.52 0a0.76 0.76 0 1 0 -1.52 0M50.31 279.21a0.76 0.76 0 1 0 1.52 0a0.76 0.76 0 1 0 -1.52 0M190.31 279.21a0.76 0.76 0 1 0 1.52 0a0.76 0.76 0 1 0 -1.52 0M52.60 255.46a0.76 0.76 0 1 0 1.52 0a0.76 0.76 0 1 0 -1.52 0M188.01 255.46a0.76 0.76 0 1 0 1.52 0a0.76 0.76 0 1 0 -1.52 0M52.60 258.11a0.76 0.76 0 1 0 1.52 0a0.76 0.76 0 1 0 -1.52 0M188.01 258.11a0.76 0.76 0 1 0 1.52 0a0.76 0.76 0 1 0 -1.52 0M52.60 261.11a0.76 0.76 0 1 0 1.52 0a0.76 0.76 0 1 0 -1.52 0M188.01 261.11a0.76 0.76 0 1 0 1.52 0a0.76 0.76 0 1 0 -1.52 0M52.60 264.21a0.76 0.76 0 1 0 1.52 0a0.76 0.76 0 1 0 -1.52 0M188.01 264.21a0.76 0.76 0 1 0 1.52 0a0.76 0.76 0 1 0 -1.52 0M52.60 265.05a0.76 0.76 0 1 0 1.52 0a0.76 0.76 0 1 0 -1.52 0M188.01 265.05a0.76 0.76 0 1 0 1.52 0a0.76 0.76 0 1 0 -1.52 0M52.60 269.38a0.76 0.76 0 1 0 1.52 0a0.76 0.76 0 1 0 -1.52 0M188.01 269.38a0.76 0.76 0 1 0 1.52 0a0.76 0.76 0 1 0 -1.52 0M52.60 269.99a0.76 0.76 0 1 0 1.52 0a0.76 0.76 0 1 0 -1.52 0M188.01 269.99a0.76 0.76 0 1 0 1.52 0a0.76 0.76 0 1 0 -1.52 0M52.60 281.79a0.76 0.76 0 1 0 1.52 0a0.76 0.76 0 1 0 -1.52 0M188.01 281.79a0.76 0.76 0 1 0 1.52 0a0.76 0.76 0 1 0 -1.52 0M52.60 282.09a0.76 0.76 0 1 0 1.52 0a0.76 0.76 0 1 0 -1.52 0M188.01 282.09a0.76 0.76 0 1 0 1.52 0a0.76 0.76 0 1 0 -1.52 0M52.60 280.79a0.76 0.76 0 1 0 1.52 0a0.76 0.76 0 1 0 -1.52 0M188.01 280.79a0.76 0.76 0 1 0 1.52 0a0.76 0.76 0 1 0 -1.52 0M52.60 274.89a0.76 0.76 0 1 0 1.52 0a0.76 0.76 0 1 0 -1.52 0M188.01 274.89a0.76 0.76 0 1 0 1.52 0a0.76 0.76 0 1 0 -1.52 0M52.60 274.79a0.76 0.76 0 1 0 1.52 0a0.76 0.76 0 1 0 -1.52 0M188.01 274.79a0.76 0.76 0 1 0 1.52 0a0.76 0.76 0 1 0 -1.52 0M52.60 278.04a0.76 0.76 0 1 0 1.52 0a0.76 0.76 0 1 0 -1.52 0M188.01 278.04a0.76 0.76 0 1 0 1.52 0a0.76 0.76 0 1 0 -1.52 0M52.60 278.56a0.76 0.76 0 1 0 1.52 0a0.76 0.76 0 1 0 -1.52 0M188.01 278.56a0.76 0.76 0 1 0 1.52 0a0.76 0.76 0 1 0 -1.52 0M52.60 281.93a0.76 0.76 0 1 0 1.52 0a0.76 0.76 0 1 0 -1.52 0M188.01 281.93a0.76 0.76 0 1 0 1.52 0a0.76 0.76 0 1 0 -1.52 0M54.90 242.42a0.76 0.76 0 1 0 1.52 0a0.76 0.76 0 1 0 -1.52 0M185.72 242.42a0.76 0.76 0 1 0 1.52 0a0.76 0.76 0 1 0 -1.52 0M54.90 247.89a0.76 0.76 0 1 0 1.52 0a0.76 0.76 0 1 0 -1.52 0M185.72 247.89a0.76 0.76 0 1 0 1.52 0a0.76 0.76 0 1 0 -1.52 0M54.90 250.18a0.76 0.76 0 1 0 1.52 0a0.76 0.76 0 1 0 -1.52 0M185.72 250.18a0.76 0.76 0 1 0 1.52 0a0.76 0.76 0 1 0 -1.52 0M54.90 252.48a0.76 0.76 0 1 0 1.52 0a0.76 0.76 0 1 0 -1.52 0M185.72 252.48a0.76 0.76 0 1 0 1.52 0a0.76 0.76 0 1 0 -1.52 0M54.90 254.56a0.76 0.76 0 1 0 1.52 0a0.76 0.76 0 1 0 -1.52 0M185.72 254.56a0.76 0.76 0 1 0 1.52 0a0.76 0.76 0 1 0 -1.52 0M54.90 259.25a0.76 0.76 0 1 0 1.52 0a0.76 0.76 0 1 0 -1.52 0M185.72 259.25a0.76 0.76 0 1 0 1.52 0a0.76 0.76 0 1 0 -1.52 0M54.90 262.28a0.76 0.76 0 1 0 1.52 0a0.76 0.76 0 1 0 -1.52 0M185.72 262.28a0.76 0.76 0 1 0 1.52 0a0.76 0.76 0 1 0 -1.52 0M54.90 281.62a0.76 0.76 0 1 0 1.52 0a0.76 0.76 0 1 0 -1.52 0M185.72 281.62a0.76 0.76 0 1 0 1.52 0a0.76 0.76 0 1 0 -1.52 0M54.90 278.96a0.76 0.76 0 1 0 1.52 0a0.76 0.76 0 1 0 -1.52 0M185.72 278.96a0.76 0.76 0 1 0 1.52 0a0.76 0.76 0 1 0 -1.52 0M54.90 277.06a0.76 0.76 0 1 0 1.52 0a0.76 0.76 0 1 0 -1.52 0M185.72 277.06a0.76 0.76 0 1 0 1.52 0a0.76 0.76 0 1 0 -1.52 0M54.90 266.95a0.76 0.76 0 1 0 1.52 0a0.76 0.76 0 1 0 -1.52 0M185.72 266.95a0.76 0.76 0 1 0 1.52 0a0.76 0.76 0 1 0 -1.52 0M54.90 264.57a0.76 0.76 0 1 0 1.52 0a0.76 0.76 0 1 0 -1.52 0M185.72 264.57a0.76 0.76 0 1 0 1.52 0a0.76 0.76 0 1 0 -1.52 0M54.90 270.48a0.76 0.76 0 1 0 1.52 0a0.76 0.76 0 1 0 -1.52 0M185.72 270.48a0.76 0.76 0 1 0 1.52 0a0.76 0.76 0 1 0 -1.52 0M54.90 272.58a0.76 0.76 0 1 0 1.52 0a0.76 0.76 0 1 0 -1.52 0M185.72 272.58a0.76 0.76 0 1 0 1.52 0a0.76 0.76 0 1 0 -1.52 0M57.20 230.58a0.76 0.76 0 1 0 1.52 0a0.76 0.76 0 1 0 -1.52 0M183.42 230.58a0.76 0.76 0 1 0 1.52 0a0.76 0.76 0 1 0 -1.52 0M57.20 233.91a0.76 0.76 0 1 0 1.52 0a0.76 0.76 0 1 0 -1.52 0M183.42 233.91a0.76 0.76 0 1 0 1.52 0a0.76 0.76 0 1 0 -1.52 0M57.20 237.11a0.76 0.76 0 1 0 1.52 0a0.76 0.76 0 1 0 -1.52 0M183.42 237.11a0.76 0.76 0 1 0 1.52 0a0.76 0.76 0 1 0 -1.52 0M57.20 242.30a0.76 0.76 0 1 0 1.52 0a0.76 0.76 0 1 0 -1.52 0M183.42 242.30a0.76 0.76 0 1 0 1.52 0a0.76 0.76 0 1 0 -1.52 0M57.20 243.71a0.76 0.76 0 1 0 1.52 0a0.76 0.76 0 1 0 -1.52 0M183.42 243.71a0.76 0.76 0 1 0 1.52 0a0.76 0.76 0 1 0 -1.52 0M57.20 248.54a0.76 0.76 0 1 0 1.52 0a0.76 0.76 0 1 0 -1.52 0M183.42 248.54a0.76 0.76 0 1 0 1.52 0a0.76 0.76 0 1 0 -1.52 0M57.20 251.15a0.76 0.76 0 1 0 1.52 0a0.76 0.76 0 1 0 -1.52 0M183.42 251.15a0.76 0.76 0 1 0 1.52 0a0.76 0.76 0 1 0 -1.52 0M57.20 278.36a0.76 0.76 0 1 0 1.52 0a0.76 0.76 0 1 0 -1.52 0M183.42 278.36a0.76 0.76 0 1 0 1.52 0a0.76 0.76 0 1 0 -1.52 0M57.20 274.07a0.76 0.76 0 1 0 1.52 0a0.76 0.76 0 1 0 -1.52 0M183.42 274.07a0.76 0.76 0 1 0 1.52 0a0.76 0.76 0 1 0 -1.52 0M57.20 270.50a0.76 0.76 0 1 0 1.52 0a0.76 0.76 0 1 0 -1.52 0M183.42 270.50a0.76 0.76 0 1 0 1.52 0a0.76 0.76 0 1 0 -1.52 0M57.20 260.01a0.76 0.76 0 1 0 1.52 0a0.76 0.76 0 1 0 -1.52 0M183.42 260.01a0.76 0.76 0 1 0 1.52 0a0.76 0.76 0 1 0 -1.52 0M57.20 256.52a0.76 0.76 0 1 0 1.52 0a0.76 0.76 0 1 0 -1.52 0M183.42 256.52a0.76 0.76 0 1 0 1.52 0a0.76 0.76 0 1 0 -1.52 0M57.20 262.52a0.76 0.76 0 1 0 1.52 0a0.76 0.76 0 1 0 -1.52 0M183.42 262.52a0.76 0.76 0 1 0 1.52 0a0.76 0.76 0 1 0 -1.52 0M57.20 265.16a0.76 0.76 0 1 0 1.52 0a0.76 0.76 0 1 0 -1.52 0M183.42 265.16a0.76 0.76 0 1 0 1.52 0a0.76 0.76 0 1 0 -1.52 0M59.49 218.86a0.76 0.76 0 1 0 1.52 0a0.76 0.76 0 1 0 -1.52 0M181.12 218.86a0.76 0.76 0 1 0 1.52 0a0.76 0.76 0 1 0 -1.52 0M59.49 221.06a0.76 0.76 0 1 0 1.52 0a0.76 0.76 0 1 0 -1.52 0M181.12 221.06a0.76 0.76 0 1 0 1.52 0a0.76 0.76 0 1 0 -1.52 0M59.49 223.96a0.76 0.76 0 1 0 1.52 0a0.76 0.76 0 1 0 -1.52 0M181.12 223.96a0.76 0.76 0 1 0 1.52 0a0.76 0.76 0 1 0 -1.52 0M59.49 230.31a0.76 0.76 0 1 0 1.52 0a0.76 0.76 0 1 0 -1.52 0M181.12 230.31a0.76 0.76 0 1 0 1.52 0a0.76 0.76 0 1 0 -1.52 0M59.49 233.48a0.76 0.76 0 1 0 1.52 0a0.76 0.76 0 1 0 -1.52 0M181.12 233.48a0.76 0.76 0 1 0 1.52 0a0.76 0.76 0 1 0 -1.52 0M59.49 235.66a0.76 0.76 0 1 0 1.52 0a0.76 0.76 0 1 0 -1.52 0M181.12 235.66a0.76 0.76 0 1 0 1.52 0a0.76 0.76 0 1 0 -1.52 0M59.49 242.24a0.76 0.76 0 1 0 1.52 0a0.76 0.76 0 1 0 -1.52 0M181.12 242.24a0.76 0.76 0 1 0 1.52 0a0.76 0.76 0 1 0 -1.52 0M59.49 243.66a0.76 0.76 0 1 0 1.52 0a0.76 0.76 0 1 0 -1.52 0M181.12 243.66a0.76 0.76 0 1 0 1.52 0a0.76 0.76 0 1 0 -1.52 0M59.49 245.70a0.76 0.76 0 1 0 1.52 0a0.76 0.76 0 1 0 -1.52 0M181.12 245.70a0.76 0.76 0 1 0 1.52 0a0.76 0.76 0 1 0 -1.52 0M59.49 275.93a0.76 0.76 0 1 0 1.52 0a0.76 0.76 0 1 0 -1.52 0M181.12 275.93a0.76 0.76 0 1 0 1.52 0a0.76 0.76 0 1 0 -1.52 0M59.49 268.83a0.76 0.76 0 1 0 1.52 0a0.76 0.76 0 1 0 -1.52 0M181.12 268.83a0.76 0.76 0 1 0 1.52 0a0.76 0.76 0 1 0 -1.52 0M59.49 266.55a0.76 0.76 0 1 0 1.52 0a0.76 0.76 0 1 0 -1.52 0M181.12 266.55a0.76 0.76 0 1 0 1.52 0a0.76 0.76 0 1 0 -1.52 0M59.49 253.41a0.76 0.76 0 1 0 1.52 0a0.76 0.76 0 1 0 -1.52 0M181.12 253.41a0.76 0.76 0 1 0 1.52 0a0.76 0.76 0 1 0 -1.52 0M59.49 255.12a0.76 0.76 0 1 0 1.52 0a0.76 0.76 0 1 0 -1.52 0M181.12 255.12a0.76 0.76 0 1 0 1.52 0a0.76 0.76 0 1 0 -1.52 0M59.49 258.76a0.76 0.76 0 1 0 1.52 0a0.76 0.76 0 1 0 -1.52 0M181.12 258.76a0.76 0.76 0 1 0 1.52 0a0.76 0.76 0 1 0 -1.52 0M59.49 262.69a0.76 0.76 0 1 0 1.52 0a0.76 0.76 0 1 0 -1.52 0M181.12 262.69a0.76 0.76 0 1 0 1.52 0a0.76 0.76 0 1 0 -1.52 0M61.79 217.29a0.76 0.76 0 1 0 1.52 0a0.76 0.76 0 1 0 -1.52 0M178.83 217.29a0.76 0.76 0 1 0 1.52 0a0.76 0.76 0 1 0 -1.52 0M61.79 218.68a0.76 0.76 0 1 0 1.52 0a0.76 0.76 0 1 0 -1.52 0M178.83 218.68a0.76 0.76 0 1 0 1.52 0a0.76 0.76 0 1 0 -1.52 0M61.79 223.63a0.76 0.76 0 1 0 1.52 0a0.76 0.76 0 1 0 -1.52 0M178.83 223.63a0.76 0.76 0 1 0 1.52 0a0.76 0.76 0 1 0 -1.52 0M61.79 229.39a0.76 0.76 0 1 0 1.52 0a0.76 0.76 0 1 0 -1.52 0M178.83 229.39a0.76 0.76 0 1 0 1.52 0a0.76 0.76 0 1 0 -1.52 0M61.79 233.80a0.76 0.76 0 1 0 1.52 0a0.76 0.76 0 1 0 -1.52 0M178.83 233.80a0.76 0.76 0 1 0 1.52 0a0.76 0.76 0 1 0 -1.52 0M61.79 237.26a0.76 0.76 0 1 0 1.52 0a0.76 0.76 0 1 0 -1.52 0M178.83 237.26a0.76 0.76 0 1 0 1.52 0a0.76 0.76 0 1 0 -1.52 0M61.79 271.02a0.76 0.76 0 1 0 1.52 0a0.76 0.76 0 1 0 -1.52 0M178.83 271.02a0.76 0.76 0 1 0 1.52 0a0.76 0.76 0 1 0 -1.52 0M61.79 263.78a0.76 0.76 0 1 0 1.52 0a0.76 0.76 0 1 0 -1.52 0M178.83 263.78a0.76 0.76 0 1 0 1.52 0a0.76 0.76 0 1 0 -1.52 0M61.79 259.17a0.76 0.76 0 1 0 1.52 0a0.76 0.76 0 1 0 -1.52 0M178.83 259.17a0.76 0.76 0 1 0 1.52 0a0.76 0.76 0 1 0 -1.52 0M61.79 243.61a0.76 0.76 0 1 0 1.52 0a0.76 0.76 0 1 0 -1.52 0M178.83 243.61a0.76 0.76 0 1 0 1.52 0a0.76 0.76 0 1 0 -1.52 0M61.79 246.70a0.76 0.76 0 1 0 1.52 0a0.76 0.76 0 1 0 -1.52 0M178.83 246.70a0.76 0.76 0 1 0 1.52 0a0.76 0.76 0 1 0 -1.52 0M61.79 249.33a0.76 0.76 0 1 0 1.52 0a0.76 0.76 0 1 0 -1.52 0M178.83 249.33a0.76 0.76 0 1 0 1.52 0a0.76 0.76 0 1 0 -1.52 0M61.79 255.88a0.76 0.76 0 1 0 1.52 0a0.76 0.76 0 1 0 -1.52 0M178.83 255.88a0.76 0.76 0 1 0 1.52 0a0.76 0.76 0 1 0 -1.52 0M61.79 201.59a0.76 0.76 0 1 0 1.52 0a0.76 0.76 0 1 0 -1.52 0M178.83 201.59a0.76 0.76 0 1 0 1.52 0a0.76 0.76 0 1 0 -1.52 0M61.79 204.10a0.76 0.76 0 1 0 1.52 0a0.76 0.76 0 1 0 -1.52 0M178.83 204.10a0.76 0.76 0 1 0 1.52 0a0.76 0.76 0 1 0 -1.52 0M61.79 205.36a0.76 0.76 0 1 0 1.52 0a0.76 0.76 0 1 0 -1.52 0M178.83 205.36a0.76 0.76 0 1 0 1.52 0a0.76 0.76 0 1 0 -1.52 0M61.79 210.80a0.76 0.76 0 1 0 1.52 0a0.76 0.76 0 1 0 -1.52 0M178.83 210.80a0.76 0.76 0 1 0 1.52 0a0.76 0.76 0 1 0 -1.52 0M64.08 211.72a0.76 0.76 0 1 0 1.52 0a0.76 0.76 0 1 0 -1.52 0M176.54 211.72a0.76 0.76 0 1 0 1.52 0a0.76 0.76 0 1 0 -1.52 0M64.08 263.05a0.76 0.76 0 1 0 1.52 0a0.76 0.76 0 1 0 -1.52 0M176.54 263.05a0.76 0.76 0 1 0 1.52 0a0.76 0.76 0 1 0 -1.52 0M64.08 254.73a0.76 0.76 0 1 0 1.52 0a0.76 0.76 0 1 0 -1.52 0M176.54 254.73a0.76 0.76 0 1 0 1.52 0a0.76 0.76 0 1 0 -1.52 0M64.08 245.75a0.76 0.76 0 1 0 1.52 0a0.76 0.76 0 1 0 -1.52 0M176.54 245.75a0.76 0.76 0 1 0 1.52 0a0.76 0.76 0 1 0 -1.52 0M64.08 258.83a0.76 0.76 0 1 0 1.52 0a0.76 0.76 0 1 0 -1.52 0M176.54 258.83a0.76 0.76 0 1 0 1.52 0a0.76 0.76 0 1 0 -1.52 0M64.08 218.44a0.76 0.76 0 1 0 1.52 0a0.76 0.76 0 1 0 -1.52 0M176.54 218.44a0.76 0.76 0 1 0 1.52 0a0.76 0.76 0 1 0 -1.52 0M64.08 214.08a0.76 0.76 0 1 0 1.52 0a0.76 0.76 0 1 0 -1.52 0M176.54 214.08a0.76 0.76 0 1 0 1.52 0a0.76 0.76 0 1 0 -1.52 0M64.08 226.16a0.76 0.76 0 1 0 1.52 0a0.76 0.76 0 1 0 -1.52 0M176.54 226.16a0.76 0.76 0 1 0 1.52 0a0.76 0.76 0 1 0 -1.52 0M64.08 231.55a0.76 0.76 0 1 0 1.52 0a0.76 0.76 0 1 0 -1.52 0M176.54 231.55a0.76 0.76 0 1 0 1.52 0a0.76 0.76 0 1 0 -1.52 0M64.08 237.93a0.76 0.76 0 1 0 1.52 0a0.76 0.76 0 1 0 -1.52 0M176.54 237.93a0.76 0.76 0 1 0 1.52 0a0.76 0.76 0 1 0 -1.52 0M64.08 241.58a0.76 0.76 0 1 0 1.52 0a0.76 0.76 0 1 0 -1.52 0M176.54 241.58a0.76 0.76 0 1 0 1.52 0a0.76 0.76 0 1 0 -1.52 0M64.08 191.55a0.76 0.76 0 1 0 1.52 0a0.76 0.76 0 1 0 -1.52 0M176.54 191.55a0.76 0.76 0 1 0 1.52 0a0.76 0.76 0 1 0 -1.52 0M64.08 197.31a0.76 0.76 0 1 0 1.52 0a0.76 0.76 0 1 0 -1.52 0M176.54 197.31a0.76 0.76 0 1 0 1.52 0a0.76 0.76 0 1 0 -1.52 0M64.08 198.14a0.76 0.76 0 1 0 1.52 0a0.76 0.76 0 1 0 -1.52 0M176.54 198.14a0.76 0.76 0 1 0 1.52 0a0.76 0.76 0 1 0 -1.52 0M66.37 212.53a0.76 0.76 0 1 0 1.52 0a0.76 0.76 0 1 0 -1.52 0M174.24 212.53a0.76 0.76 0 1 0 1.52 0a0.76 0.76 0 1 0 -1.52 0M66.37 259.25a0.76 0.76 0 1 0 1.52 0a0.76 0.76 0 1 0 -1.52 0M174.24 259.25a0.76 0.76 0 1 0 1.52 0a0.76 0.76 0 1 0 -1.52 0M66.37 251.17a0.76 0.76 0 1 0 1.52 0a0.76 0.76 0 1 0 -1.52 0M174.24 251.17a0.76 0.76 0 1 0 1.52 0a0.76 0.76 0 1 0 -1.52 0M66.37 242.01a0.76 0.76 0 1 0 1.52 0a0.76 0.76 0 1 0 -1.52 0M174.24 242.01a0.76 0.76 0 1 0 1.52 0a0.76 0.76 0 1 0 -1.52 0M66.37 255.95a0.76 0.76 0 1 0 1.52 0a0.76 0.76 0 1 0 -1.52 0M174.24 255.95a0.76 0.76 0 1 0 1.52 0a0.76 0.76 0 1 0 -1.52 0M66.37 221.61a0.76 0.76 0 1 0 1.52 0a0.76 0.76 0 1 0 -1.52 0M174.24 221.61a0.76 0.76 0 1 0 1.52 0a0.76 0.76 0 1 0 -1.52 0M66.37 216.40a0.76 0.76 0 1 0 1.52 0a0.76 0.76 0 1 0 -1.52 0M174.24 216.40a0.76 0.76 0 1 0 1.52 0a0.76 0.76 0 1 0 -1.52 0M66.37 228.97a0.76 0.76 0 1 0 1.52 0a0.76 0.76 0 1 0 -1.52 0M174.24 228.97a0.76 0.76 0 1 0 1.52 0a0.76 0.76 0 1 0 -1.52 0M66.37 232.80a0.76 0.76 0 1 0 1.52 0a0.76 0.76 0 1 0 -1.52 0M174.24 232.80a0.76 0.76 0 1 0 1.52 0a0.76 0.76 0 1 0 -1.52 0M66.37 233.68a0.76 0.76 0 1 0 1.52 0a0.76 0.76 0 1 0 -1.52 0M174.24 233.68a0.76 0.76 0 1 0 1.52 0a0.76 0.76 0 1 0 -1.52 0M66.37 238.29a0.76 0.76 0 1 0 1.52 0a0.76 0.76 0 1 0 -1.52 0M174.24 238.29a0.76 0.76 0 1 0 1.52 0a0.76 0.76 0 1 0 -1.52 0M66.37 198.25a0.76 0.76 0 1 0 1.52 0a0.76 0.76 0 1 0 -1.52 0M174.24 198.25a0.76 0.76 0 1 0 1.52 0a0.76 0.76 0 1 0 -1.52 0M66.37 200.97a0.76 0.76 0 1 0 1.52 0a0.76 0.76 0 1 0 -1.52 0M174.24 200.97a0.76 0.76 0 1 0 1.52 0a0.76 0.76 0 1 0 -1.52 0M66.37 202.53a0.76 0.76 0 1 0 1.52 0a0.76 0.76 0 1 0 -1.52 0M174.24 202.53a0.76 0.76 0 1 0 1.52 0a0.76 0.76 0 1 0 -1.52 0M66.37 205.15a0.76 0.76 0 1 0 1.52 0a0.76 0.76 0 1 0 -1.52 0M174.24 205.15a0.76 0.76 0 1 0 1.52 0a0.76 0.76 0 1 0 -1.52 0M68.67 212.12a0.76 0.76 0 1 0 1.52 0a0.76 0.76 0 1 0 -1.52 0M171.94 212.12a0.76 0.76 0 1 0 1.52 0a0.76 0.76 0 1 0 -1.52 0M68.67 255.60a0.76 0.76 0 1 0 1.52 0a0.76 0.76 0 1 0 -1.52 0M171.94 255.60a0.76 0.76 0 1 0 1.52 0a0.76 0.76 0 1 0 -1.52 0M68.67 246.56a0.76 0.76 0 1 0 1.52 0a0.76 0.76 0 1 0 -1.52 0M171.94 246.56a0.76 0.76 0 1 0 1.52 0a0.76 0.76 0 1 0 -1.52 0M68.67 238.15a0.76 0.76 0 1 0 1.52 0a0.76 0.76 0 1 0 -1.52 0M171.94 238.15a0.76 0.76 0 1 0 1.52 0a0.76 0.76 0 1 0 -1.52 0M68.67 252.68a0.76 0.76 0 1 0 1.52 0a0.76 0.76 0 1 0 -1.52 0M171.94 252.68a0.76 0.76 0 1 0 1.52 0a0.76 0.76 0 1 0 -1.52 0M68.67 223.89a0.76 0.76 0 1 0 1.52 0a0.76 0.76 0 1 0 -1.52 0M171.94 223.89a0.76 0.76 0 1 0 1.52 0a0.76 0.76 0 1 0 -1.52 0M68.67 219.09a0.76 0.76 0 1 0 1.52 0a0.76 0.76 0 1 0 -1.52 0M171.94 219.09a0.76 0.76 0 1 0 1.52 0a0.76 0.76 0 1 0 -1.52 0M68.67 231.87a0.76 0.76 0 1 0 1.52 0a0.76 0.76 0 1 0 -1.52 0M171.94 231.87a0.76 0.76 0 1 0 1.52 0a0.76 0.76 0 1 0 -1.52 0M68.67 234.57a0.76 0.76 0 1 0 1.52 0a0.76 0.76 0 1 0 -1.52 0M171.94 234.57a0.76 0.76 0 1 0 1.52 0a0.76 0.76 0 1 0 -1.52 0M68.67 229.52a0.76 0.76 0 1 0 1.52 0a0.76 0.76 0 1 0 -1.52 0M171.94 229.52a0.76 0.76 0 1 0 1.52 0a0.76 0.76 0 1 0 -1.52 0M68.67 235.54a0.76 0.76 0 1 0 1.52 0a0.76 0.76 0 1 0 -1.52 0M171.94 235.54a0.76 0.76 0 1 0 1.52 0a0.76 0.76 0 1 0 -1.52 0M68.67 190.09a0.76 0.76 0 1 0 1.52 0a0.76 0.76 0 1 0 -1.52 0M171.94 190.09a0.76 0.76 0 1 0 1.52 0a0.76 0.76 0 1 0 -1.52 0M68.67 190.51a0.76 0.76 0 1 0 1.52 0a0.76 0.76 0 1 0 -1.52 0M171.94 190.51a0.76 0.76 0 1 0 1.52 0a0.76 0.76 0 1 0 -1.52 0M68.67 192.81a0.76 0.76 0 1 0 1.52 0a0.76 0.76 0 1 0 -1.52 0M171.94 192.81a0.76 0.76 0 1 0 1.52 0a0.76 0.76 0 1 0 -1.52 0M68.67 196.26a0.76 0.76 0 1 0 1.52 0a0.76 0.76 0 1 0 -1.52 0M171.94 196.26a0.76 0.76 0 1 0 1.52 0a0.76 0.76 0 1 0 -1.52 0M68.67 208.60a0.76 0.76 0 1 0 1.52 0a0.76 0.76 0 1 0 -1.52 0M171.94 208.60a0.76 0.76 0 1 0 1.52 0a0.76 0.76 0 1 0 -1.52 0M70.96 213.81a0.76 0.76 0 1 0 1.52 0a0.76 0.76 0 1 0 -1.52 0M169.65 213.81a0.76 0.76 0 1 0 1.52 0a0.76 0.76 0 1 0 -1.52 0M70.96 251.37a0.76 0.76 0 1 0 1.52 0a0.76 0.76 0 1 0 -1.52 0M169.65 251.37a0.76 0.76 0 1 0 1.52 0a0.76 0.76 0 1 0 -1.52 0M70.96 242.86a0.76 0.76 0 1 0 1.52 0a0.76 0.76 0 1 0 -1.52 0M169.65 242.86a0.76 0.76 0 1 0 1.52 0a0.76 0.76 0 1 0 -1.52 0M70.96 235.10a0.76 0.76 0 1 0 1.52 0a0.76 0.76 0 1 0 -1.52 0M169.65 235.10a0.76 0.76 0 1 0 1.52 0a0.76 0.76 0 1 0 -1.52 0M70.96 249.26a0.76 0.76 0 1 0 1.52 0a0.76 0.76 0 1 0 -1.52 0M169.65 249.26a0.76 0.76 0 1 0 1.52 0a0.76 0.76 0 1 0 -1.52 0M70.96 228.25a0.76 0.76 0 1 0 1.52 0a0.76 0.76 0 1 0 -1.52 0M169.65 228.25a0.76 0.76 0 1 0 1.52 0a0.76 0.76 0 1 0 -1.52 0M70.96 221.91a0.76 0.76 0 1 0 1.52 0a0.76 0.76 0 1 0 -1.52 0M169.65 221.91a0.76 0.76 0 1 0 1.52 0a0.76 0.76 0 1 0 -1.52 0M70.96 234.94a0.76 0.76 0 1 0 1.52 0a0.76 0.76 0 1 0 -1.52 0M169.65 234.94a0.76 0.76 0 1 0 1.52 0a0.76 0.76 0 1 0 -1.52 0M70.96 238.52a0.76 0.76 0 1 0 1.52 0a0.76 0.76 0 1 0 -1.52 0M169.65 238.52a0.76 0.76 0 1 0 1.52 0a0.76 0.76 0 1 0 -1.52 0M70.96 232.47a0.76 0.76 0 1 0 1.52 0a0.76 0.76 0 1 0 -1.52 0M169.65 232.47a0.76 0.76 0 1 0 1.52 0a0.76 0.76 0 1 0 -1.52 0M70.96 232.28a0.76 0.76 0 1 0 1.52 0a0.76 0.76 0 1 0 -1.52 0M169.65 232.28a0.76 0.76 0 1 0 1.52 0a0.76 0.76 0 1 0 -1.52 0M70.96 192.28a0.76 0.76 0 1 0 1.52 0a0.76 0.76 0 1 0 -1.52 0M169.65 192.28a0.76 0.76 0 1 0 1.52 0a0.76 0.76 0 1 0 -1.52 0M70.96 193.64a0.76 0.76 0 1 0 1.52 0a0.76 0.76 0 1 0 -1.52 0M169.65 193.64a0.76 0.76 0 1 0 1.52 0a0.76 0.76 0 1 0 -1.52 0M70.96 201.70a0.76 0.76 0 1 0 1.52 0a0.76 0.76 0 1 0 -1.52 0M169.65 201.70a0.76 0.76 0 1 0 1.52 0a0.76 0.76 0 1 0 -1.52 0M70.96 206.93a0.76 0.76 0 1 0 1.52 0a0.76 0.76 0 1 0 -1.52 0M169.65 206.93a0.76 0.76 0 1 0 1.52 0a0.76 0.76 0 1 0 -1.52 0M70.96 210.38a0.76 0.76 0 1 0 1.52 0a0.76 0.76 0 1 0 -1.52 0M169.65 210.38a0.76 0.76 0 1 0 1.52 0a0.76 0.76 0 1 0 -1.52 0M73.26 215.03a0.76 0.76 0 1 0 1.52 0a0.76 0.76 0 1 0 -1.52 0M167.36 215.03a0.76 0.76 0 1 0 1.52 0a0.76 0.76 0 1 0 -1.52 0M73.26 248.30a0.76 0.76 0 1 0 1.52 0a0.76 0.76 0 1 0 -1.52 0M167.36 248.30a0.76 0.76 0 1 0 1.52 0a0.76 0.76 0 1 0 -1.52 0M73.26 239.45a0.76 0.76 0 1 0 1.52 0a0.76 0.76 0 1 0 -1.52 0M167.36 239.45a0.76 0.76 0 1 0 1.52 0a0.76 0.76 0 1 0 -1.52 0M73.26 231.52a0.76 0.76 0 1 0 1.52 0a0.76 0.76 0 1 0 -1.52 0M167.36 231.52a0.76 0.76 0 1 0 1.52 0a0.76 0.76 0 1 0 -1.52 0M73.26 246.44a0.76 0.76 0 1 0 1.52 0a0.76 0.76 0 1 0 -1.52 0M167.36 246.44a0.76 0.76 0 1 0 1.52 0a0.76 0.76 0 1 0 -1.52 0M73.26 231.85a0.76 0.76 0 1 0 1.52 0a0.76 0.76 0 1 0 -1.52 0M167.36 231.85a0.76 0.76 0 1 0 1.52 0a0.76 0.76 0 1 0 -1.52 0M73.26 226.09a0.76 0.76 0 1 0 1.52 0a0.76 0.76 0 1 0 -1.52 0M167.36 226.09a0.76 0.76 0 1 0 1.52 0a0.76 0.76 0 1 0 -1.52 0M73.26 237.16a0.76 0.76 0 1 0 1.52 0a0.76 0.76 0 1 0 -1.52 0M167.36 237.16a0.76 0.76 0 1 0 1.52 0a0.76 0.76 0 1 0 -1.52 0M73.26 242.18a0.76 0.76 0 1 0 1.52 0a0.76 0.76 0 1 0 -1.52 0M167.36 242.18a0.76 0.76 0 1 0 1.52 0a0.76 0.76 0 1 0 -1.52 0M73.26 235.55a0.76 0.76 0 1 0 1.52 0a0.76 0.76 0 1 0 -1.52 0M167.36 235.55a0.76 0.76 0 1 0 1.52 0a0.76 0.76 0 1 0 -1.52 0M73.26 229.79a0.76 0.76 0 1 0 1.52 0a0.76 0.76 0 1 0 -1.52 0M167.36 229.79a0.76 0.76 0 1 0 1.52 0a0.76 0.76 0 1 0 -1.52 0M73.26 201.70a0.76 0.76 0 1 0 1.52 0a0.76 0.76 0 1 0 -1.52 0M167.36 201.70a0.76 0.76 0 1 0 1.52 0a0.76 0.76 0 1 0 -1.52 0M73.26 203.06a0.76 0.76 0 1 0 1.52 0a0.76 0.76 0 1 0 -1.52 0M167.36 203.06a0.76 0.76 0 1 0 1.52 0a0.76 0.76 0 1 0 -1.52 0M73.26 204.94a0.76 0.76 0 1 0 1.52 0a0.76 0.76 0 1 0 -1.52 0M167.36 204.94a0.76 0.76 0 1 0 1.52 0a0.76 0.76 0 1 0 -1.52 0M73.26 205.99a0.76 0.76 0 1 0 1.52 0a0.76 0.76 0 1 0 -1.52 0M167.36 205.99a0.76 0.76 0 1 0 1.52 0a0.76 0.76 0 1 0 -1.52 0M75.55 212.49a0.76 0.76 0 1 0 1.52 0a0.76 0.76 0 1 0 -1.52 0M165.06 212.49a0.76 0.76 0 1 0 1.52 0a0.76 0.76 0 1 0 -1.52 0M75.55 216.75a0.76 0.76 0 1 0 1.52 0a0.76 0.76 0 1 0 -1.52 0M165.06 216.75a0.76 0.76 0 1 0 1.52 0a0.76 0.76 0 1 0 -1.52 0M75.55 245.42a0.76 0.76 0 1 0 1.52 0a0.76 0.76 0 1 0 -1.52 0M165.06 245.42a0.76 0.76 0 1 0 1.52 0a0.76 0.76 0 1 0 -1.52 0M75.55 237.33a0.76 0.76 0 1 0 1.52 0a0.76 0.76 0 1 0 -1.52 0M165.06 237.33a0.76 0.76 0 1 0 1.52 0a0.76 0.76 0 1 0 -1.52 0M75.55 228.08a0.76 0.76 0 1 0 1.52 0a0.76 0.76 0 1 0 -1.52 0M165.06 228.08a0.76 0.76 0 1 0 1.52 0a0.76 0.76 0 1 0 -1.52 0M75.55 244.48a0.76 0.76 0 1 0 1.52 0a0.76 0.76 0 1 0 -1.52 0M165.06 244.48a0.76 0.76 0 1 0 1.52 0a0.76 0.76 0 1 0 -1.52 0M75.55 235.77a0.76 0.76 0 1 0 1.52 0a0.76 0.76 0 1 0 -1.52 0M165.06 235.77a0.76 0.76 0 1 0 1.52 0a0.76 0.76 0 1 0 -1.52 0M75.55 230.85a0.76 0.76 0 1 0 1.52 0a0.76 0.76 0 1 0 -1.52 0M165.06 230.85a0.76 0.76 0 1 0 1.52 0a0.76 0.76 0 1 0 -1.52 0M75.55 242.03a0.76 0.76 0 1 0 1.52 0a0.76 0.76 0 1 0 -1.52 0M165.06 242.03a0.76 0.76 0 1 0 1.52 0a0.76 0.76 0 1 0 -1.52 0M75.55 246.31a0.76 0.76 0 1 0 1.52 0a0.76 0.76 0 1 0 -1.52 0M165.06 246.31a0.76 0.76 0 1 0 1.52 0a0.76 0.76 0 1 0 -1.52 0M75.55 238.05a0.76 0.76 0 1 0 1.52 0a0.76 0.76 0 1 0 -1.52 0M165.06 238.05a0.76 0.76 0 1 0 1.52 0a0.76 0.76 0 1 0 -1.52 0M75.55 232.51a0.76 0.76 0 1 0 1.52 0a0.76 0.76 0 1 0 -1.52 0M165.06 232.51a0.76 0.76 0 1 0 1.52 0a0.76 0.76 0 1 0 -1.52 0M75.55 194.69a0.76 0.76 0 1 0 1.52 0a0.76 0.76 0 1 0 -1.52 0M165.06 194.69a0.76 0.76 0 1 0 1.52 0a0.76 0.76 0 1 0 -1.52 0M75.55 199.92a0.76 0.76 0 1 0 1.52 0a0.76 0.76 0 1 0 -1.52 0M165.06 199.92a0.76 0.76 0 1 0 1.52 0a0.76 0.76 0 1 0 -1.52 0M75.55 202.53a0.76 0.76 0 1 0 1.52 0a0.76 0.76 0 1 0 -1.52 0M165.06 202.53a0.76 0.76 0 1 0 1.52 0a0.76 0.76 0 1 0 -1.52 0M75.55 204.52a0.76 0.76 0 1 0 1.52 0a0.76 0.76 0 1 0 -1.52 0M165.06 204.52a0.76 0.76 0 1 0 1.52 0a0.76 0.76 0 1 0 -1.52 0M77.85 213.95a0.76 0.76 0 1 0 1.52 0a0.76 0.76 0 1 0 -1.52 0M162.77 213.95a0.76 0.76 0 1 0 1.52 0a0.76 0.76 0 1 0 -1.52 0M77.85 218.23a0.76 0.76 0 1 0 1.52 0a0.76 0.76 0 1 0 -1.52 0M162.77 218.23a0.76 0.76 0 1 0 1.52 0a0.76 0.76 0 1 0 -1.52 0M77.85 243.21a0.76 0.76 0 1 0 1.52 0a0.76 0.76 0 1 0 -1.52 0M162.77 243.21a0.76 0.76 0 1 0 1.52 0a0.76 0.76 0 1 0 -1.52 0M77.85 234.76a0.76 0.76 0 1 0 1.52 0a0.76 0.76 0 1 0 -1.52 0M162.77 234.76a0.76 0.76 0 1 0 1.52 0a0.76 0.76 0 1 0 -1.52 0M77.85 226.51a0.76 0.76 0 1 0 1.52 0a0.76 0.76 0 1 0 -1.52 0M162.77 226.51a0.76 0.76 0 1 0 1.52 0a0.76 0.76 0 1 0 -1.52 0M77.85 243.78a0.76 0.76 0 1 0 1.52 0a0.76 0.76 0 1 0 -1.52 0M162.77 243.78a0.76 0.76 0 1 0 1.52 0a0.76 0.76 0 1 0 -1.52 0M77.85 239.45a0.76 0.76 0 1 0 1.52 0a0.76 0.76 0 1 0 -1.52 0M162.77 239.45a0.76 0.76 0 1 0 1.52 0a0.76 0.76 0 1 0 -1.52 0M77.85 235.06a0.76 0.76 0 1 0 1.52 0a0.76 0.76 0 1 0 -1.52 0M162.77 235.06a0.76 0.76 0 1 0 1.52 0a0.76 0.76 0 1 0 -1.52 0M77.85 245.40a0.76 0.76 0 1 0 1.52 0a0.76 0.76 0 1 0 -1.52 0M162.77 245.40a0.76 0.76 0 1 0 1.52 0a0.76 0.76 0 1 0 -1.52 0M77.85 249.62a0.76 0.76 0 1 0 1.52 0a0.76 0.76 0 1 0 -1.52 0M162.77 249.62a0.76 0.76 0 1 0 1.52 0a0.76 0.76 0 1 0 -1.52 0M77.85 241.32a0.76 0.76 0 1 0 1.52 0a0.76 0.76 0 1 0 -1.52 0M162.77 241.32a0.76 0.76 0 1 0 1.52 0a0.76 0.76 0 1 0 -1.52 0M77.85 236.87a0.76 0.76 0 1 0 1.52 0a0.76 0.76 0 1 0 -1.52 0M162.77 236.87a0.76 0.76 0 1 0 1.52 0a0.76 0.76 0 1 0 -1.52 0M77.85 194.48a0.76 0.76 0 1 0 1.52 0a0.76 0.76 0 1 0 -1.52 0M162.77 194.48a0.76 0.76 0 1 0 1.52 0a0.76 0.76 0 1 0 -1.52 0M77.85 199.92a0.76 0.76 0 1 0 1.52 0a0.76 0.76 0 1 0 -1.52 0M162.77 199.92a0.76 0.76 0 1 0 1.52 0a0.76 0.76 0 1 0 -1.52 0M77.85 202.53a0.76 0.76 0 1 0 1.52 0a0.76 0.76 0 1 0 -1.52 0M162.77 202.53a0.76 0.76 0 1 0 1.52 0a0.76 0.76 0 1 0 -1.52 0M77.85 204.73a0.76 0.76 0 1 0 1.52 0a0.76 0.76 0 1 0 -1.52 0M162.77 204.73a0.76 0.76 0 1 0 1.52 0a0.76 0.76 0 1 0 -1.52 0M80.14 212.54a0.76 0.76 0 1 0 1.52 0a0.76 0.76 0 1 0 -1.52 0M160.47 212.54a0.76 0.76 0 1 0 1.52 0a0.76 0.76 0 1 0 -1.52 0M80.14 217.28a0.76 0.76 0 1 0 1.52 0a0.76 0.76 0 1 0 -1.52 0M160.47 217.28a0.76 0.76 0 1 0 1.52 0a0.76 0.76 0 1 0 -1.52 0M80.14 220.96a0.76 0.76 0 1 0 1.52 0a0.76 0.76 0 1 0 -1.52 0M160.47 220.96a0.76 0.76 0 1 0 1.52 0a0.76 0.76 0 1 0 -1.52 0M80.14 240.91a0.76 0.76 0 1 0 1.52 0a0.76 0.76 0 1 0 -1.52 0M160.47 240.91a0.76 0.76 0 1 0 1.52 0a0.76 0.76 0 1 0 -1.52 0M80.14 233.13a0.76 0.76 0 1 0 1.52 0a0.76 0.76 0 1 0 -1.52 0M160.47 233.13a0.76 0.76 0 1 0 1.52 0a0.76 0.76 0 1 0 -1.52 0M80.14 224.22a0.76 0.76 0 1 0 1.52 0a0.76 0.76 0 1 0 -1.52 0M160.47 224.22a0.76 0.76 0 1 0 1.52 0a0.76 0.76 0 1 0 -1.52 0M80.14 244.74a0.76 0.76 0 1 0 1.52 0a0.76 0.76 0 1 0 -1.52 0M160.47 244.74a0.76 0.76 0 1 0 1.52 0a0.76 0.76 0 1 0 -1.52 0M80.14 244.13a0.76 0.76 0 1 0 1.52 0a0.76 0.76 0 1 0 -1.52 0M160.47 244.13a0.76 0.76 0 1 0 1.52 0a0.76 0.76 0 1 0 -1.52 0M80.14 238.89a0.76 0.76 0 1 0 1.52 0a0.76 0.76 0 1 0 -1.52 0M160.47 238.89a0.76 0.76 0 1 0 1.52 0a0.76 0.76 0 1 0 -1.52 0M80.14 250.44a0.76 0.76 0 1 0 1.52 0a0.76 0.76 0 1 0 -1.52 0M160.47 250.44a0.76 0.76 0 1 0 1.52 0a0.76 0.76 0 1 0 -1.52 0M80.14 253.79a0.76 0.76 0 1 0 1.52 0a0.76 0.76 0 1 0 -1.52 0M160.47 253.79a0.76 0.76 0 1 0 1.52 0a0.76 0.76 0 1 0 -1.52 0M80.14 246.00a0.76 0.76 0 1 0 1.52 0a0.76 0.76 0 1 0 -1.52 0M160.47 246.00a0.76 0.76 0 1 0 1.52 0a0.76 0.76 0 1 0 -1.52 0M80.14 240.71a0.76 0.76 0 1 0 1.52 0a0.76 0.76 0 1 0 -1.52 0M160.47 240.71a0.76 0.76 0 1 0 1.52 0a0.76 0.76 0 1 0 -1.52 0M80.14 190.51a0.76 0.76 0 1 0 1.52 0a0.76 0.76 0 1 0 -1.52 0M160.47 190.51a0.76 0.76 0 1 0 1.52 0a0.76 0.76 0 1 0 -1.52 0M80.14 199.29a0.76 0.76 0 1 0 1.52 0a0.76 0.76 0 1 0 -1.52 0M160.47 199.29a0.76 0.76 0 1 0 1.52 0a0.76 0.76 0 1 0 -1.52 0M80.14 202.53a0.76 0.76 0 1 0 1.52 0a0.76 0.76 0 1 0 -1.52 0M160.47 202.53a0.76 0.76 0 1 0 1.52 0a0.76 0.76 0 1 0 -1.52 0M80.14 205.15a0.76 0.76 0 1 0 1.52 0a0.76 0.76 0 1 0 -1.52 0M160.47 205.15a0.76 0.76 0 1 0 1.52 0a0.76 0.76 0 1 0 -1.52 0M82.44 214.42a0.76 0.76 0 1 0 1.52 0a0.76 0.76 0 1 0 -1.52 0M158.18 214.42a0.76 0.76 0 1 0 1.52 0a0.76 0.76 0 1 0 -1.52 0M82.44 221.26a0.76 0.76 0 1 0 1.52 0a0.76 0.76 0 1 0 -1.52 0M158.18 221.26a0.76 0.76 0 1 0 1.52 0a0.76 0.76 0 1 0 -1.52 0M82.44 224.28a0.76 0.76 0 1 0 1.52 0a0.76 0.76 0 1 0 -1.52 0M158.18 224.28a0.76 0.76 0 1 0 1.52 0a0.76 0.76 0 1 0 -1.52 0M82.44 239.23a0.76 0.76 0 1 0 1.52 0a0.76 0.76 0 1 0 -1.52 0M158.18 239.23a0.76 0.76 0 1 0 1.52 0a0.76 0.76 0 1 0 -1.52 0M82.44 231.35a0.76 0.76 0 1 0 1.52 0a0.76 0.76 0 1 0 -1.52 0M158.18 231.35a0.76 0.76 0 1 0 1.52 0a0.76 0.76 0 1 0 -1.52 0M82.44 222.75a0.76 0.76 0 1 0 1.52 0a0.76 0.76 0 1 0 -1.52 0M158.18 222.75a0.76 0.76 0 1 0 1.52 0a0.76 0.76 0 1 0 -1.52 0M82.44 245.79a0.76 0.76 0 1 0 1.52 0a0.76 0.76 0 1 0 -1.52 0M158.18 245.79a0.76 0.76 0 1 0 1.52 0a0.76 0.76 0 1 0 -1.52 0M82.44 248.86a0.76 0.76 0 1 0 1.52 0a0.76 0.76 0 1 0 -1.52 0M158.18 248.86a0.76 0.76 0 1 0 1.52 0a0.76 0.76 0 1 0 -1.52 0M82.44 243.39a0.76 0.76 0 1 0 1.52 0a0.76 0.76 0 1 0 -1.52 0M158.18 243.39a0.76 0.76 0 1 0 1.52 0a0.76 0.76 0 1 0 -1.52 0M82.44 254.61a0.76 0.76 0 1 0 1.52 0a0.76 0.76 0 1 0 -1.52 0M158.18 254.61a0.76 0.76 0 1 0 1.52 0a0.76 0.76 0 1 0 -1.52 0M82.44 257.80a0.76 0.76 0 1 0 1.52 0a0.76 0.76 0 1 0 -1.52 0M158.18 257.80a0.76 0.76 0 1 0 1.52 0a0.76 0.76 0 1 0 -1.52 0M82.44 251.77a0.76 0.76 0 1 0 1.52 0a0.76 0.76 0 1 0 -1.52 0M158.18 251.77a0.76 0.76 0 1 0 1.52 0a0.76 0.76 0 1 0 -1.52 0M82.44 245.76a0.76 0.76 0 1 0 1.52 0a0.76 0.76 0 1 0 -1.52 0M158.18 245.76a0.76 0.76 0 1 0 1.52 0a0.76 0.76 0 1 0 -1.52 0M82.44 195.53a0.76 0.76 0 1 0 1.52 0a0.76 0.76 0 1 0 -1.52 0M158.18 195.53a0.76 0.76 0 1 0 1.52 0a0.76 0.76 0 1 0 -1.52 0M82.44 203.06a0.76 0.76 0 1 0 1.52 0a0.76 0.76 0 1 0 -1.52 0M158.18 203.06a0.76 0.76 0 1 0 1.52 0a0.76 0.76 0 1 0 -1.52 0M82.44 208.29a0.76 0.76 0 1 0 1.52 0a0.76 0.76 0 1 0 -1.52 0M158.18 208.29a0.76 0.76 0 1 0 1.52 0a0.76 0.76 0 1 0 -1.52 0M84.73 211.53a0.76 0.76 0 1 0 1.52 0a0.76 0.76 0 1 0 -1.52 0M155.88 211.53a0.76 0.76 0 1 0 1.52 0a0.76 0.76 0 1 0 -1.52 0M84.73 217.70a0.76 0.76 0 1 0 1.52 0a0.76 0.76 0 1 0 -1.52 0M155.88 217.70a0.76 0.76 0 1 0 1.52 0a0.76 0.76 0 1 0 -1.52 0M84.73 223.54a0.76 0.76 0 1 0 1.52 0a0.76 0.76 0 1 0 -1.52 0M155.88 223.54a0.76 0.76 0 1 0 1.52 0a0.76 0.76 0 1 0 -1.52 0M84.73 228.08a0.76 0.76 0 1 0 1.52 0a0.76 0.76 0 1 0 -1.52 0M155.88 228.08a0.76 0.76 0 1 0 1.52 0a0.76 0.76 0 1 0 -1.52 0M84.73 236.84a0.76 0.76 0 1 0 1.52 0a0.76 0.76 0 1 0 -1.52 0M155.88 236.84a0.76 0.76 0 1 0 1.52 0a0.76 0.76 0 1 0 -1.52 0M84.73 230.16a0.76 0.76 0 1 0 1.52 0a0.76 0.76 0 1 0 -1.52 0M155.88 230.16a0.76 0.76 0 1 0 1.52 0a0.76 0.76 0 1 0 -1.52 0M84.73 224.55a0.76 0.76 0 1 0 1.52 0a0.76 0.76 0 1 0 -1.52 0M155.88 224.55a0.76 0.76 0 1 0 1.52 0a0.76 0.76 0 1 0 -1.52 0M84.73 248.33a0.76 0.76 0 1 0 1.52 0a0.76 0.76 0 1 0 -1.52 0M155.88 248.33a0.76 0.76 0 1 0 1.52 0a0.76 0.76 0 1 0 -1.52 0M84.73 253.53a0.76 0.76 0 1 0 1.52 0a0.76 0.76 0 1 0 -1.52 0M155.88 253.53a0.76 0.76 0 1 0 1.52 0a0.76 0.76 0 1 0 -1.52 0M84.73 248.55a0.76 0.76 0 1 0 1.52 0a0.76 0.76 0 1 0 -1.52 0M155.88 248.55a0.76 0.76 0 1 0 1.52 0a0.76 0.76 0 1 0 -1.52 0M84.73 259.01a0.76 0.76 0 1 0 1.52 0a0.76 0.76 0 1 0 -1.52 0M155.88 259.01a0.76 0.76 0 1 0 1.52 0a0.76 0.76 0 1 0 -1.52 0M84.73 260.60a0.76 0.76 0 1 0 1.52 0a0.76 0.76 0 1 0 -1.52 0M155.88 260.60a0.76 0.76 0 1 0 1.52 0a0.76 0.76 0 1 0 -1.52 0M84.73 254.11a0.76 0.76 0 1 0 1.52 0a0.76 0.76 0 1 0 -1.52 0M155.88 254.11a0.76 0.76 0 1 0 1.52 0a0.76 0.76 0 1 0 -1.52 0M84.73 250.06a0.76 0.76 0 1 0 1.52 0a0.76 0.76 0 1 0 -1.52 0M155.88 250.06a0.76 0.76 0 1 0 1.52 0a0.76 0.76 0 1 0 -1.52 0M84.73 192.28a0.76 0.76 0 1 0 1.52 0a0.76 0.76 0 1 0 -1.52 0M155.88 192.28a0.76 0.76 0 1 0 1.52 0a0.76 0.76 0 1 0 -1.52 0M84.73 204.10a0.76 0.76 0 1 0 1.52 0a0.76 0.76 0 1 0 -1.52 0M155.88 204.10a0.76 0.76 0 1 0 1.52 0a0.76 0.76 0 1 0 -1.52 0M84.73 208.29a0.76 0.76 0 1 0 1.52 0a0.76 0.76 0 1 0 -1.52 0M155.88 208.29a0.76 0.76 0 1 0 1.52 0a0.76 0.76 0 1 0 -1.52 0M87.03 215.03a0.76 0.76 0 1 0 1.52 0a0.76 0.76 0 1 0 -1.52 0M153.59 215.03a0.76 0.76 0 1 0 1.52 0a0.76 0.76 0 1 0 -1.52 0M87.03 220.82a0.76 0.76 0 1 0 1.52 0a0.76 0.76 0 1 0 -1.52 0M153.59 220.82a0.76 0.76 0 1 0 1.52 0a0.76 0.76 0 1 0 -1.52 0M87.03 226.05a0.76 0.76 0 1 0 1.52 0a0.76 0.76 0 1 0 -1.52 0M153.59 226.05a0.76 0.76 0 1 0 1.52 0a0.76 0.76 0 1 0 -1.52 0M87.03 230.77a0.76 0.76 0 1 0 1.52 0a0.76 0.76 0 1 0 -1.52 0M153.59 230.77a0.76 0.76 0 1 0 1.52 0a0.76 0.76 0 1 0 -1.52 0M87.03 235.05a0.76 0.76 0 1 0 1.52 0a0.76 0.76 0 1 0 -1.52 0M153.59 235.05a0.76 0.76 0 1 0 1.52 0a0.76 0.76 0 1 0 -1.52 0M87.03 228.23a0.76 0.76 0 1 0 1.52 0a0.76 0.76 0 1 0 -1.52 0M153.59 228.23a0.76 0.76 0 1 0 1.52 0a0.76 0.76 0 1 0 -1.52 0M87.03 224.60a0.76 0.76 0 1 0 1.52 0a0.76 0.76 0 1 0 -1.52 0M153.59 224.60a0.76 0.76 0 1 0 1.52 0a0.76 0.76 0 1 0 -1.52 0M87.03 251.19a0.76 0.76 0 1 0 1.52 0a0.76 0.76 0 1 0 -1.52 0M153.59 251.19a0.76 0.76 0 1 0 1.52 0a0.76 0.76 0 1 0 -1.52 0M87.03 257.43a0.76 0.76 0 1 0 1.52 0a0.76 0.76 0 1 0 -1.52 0M153.59 257.43a0.76 0.76 0 1 0 1.52 0a0.76 0.76 0 1 0 -1.52 0M87.03 253.72a0.76 0.76 0 1 0 1.52 0a0.76 0.76 0 1 0 -1.52 0M153.59 253.72a0.76 0.76 0 1 0 1.52 0a0.76 0.76 0 1 0 -1.52 0M87.03 264.12a0.76 0.76 0 1 0 1.52 0a0.76 0.76 0 1 0 -1.52 0M153.59 264.12a0.76 0.76 0 1 0 1.52 0a0.76 0.76 0 1 0 -1.52 0M87.03 264.15a0.76 0.76 0 1 0 1.52 0a0.76 0.76 0 1 0 -1.52 0M153.59 264.15a0.76 0.76 0 1 0 1.52 0a0.76 0.76 0 1 0 -1.52 0M87.03 255.62a0.76 0.76 0 1 0 1.52 0a0.76 0.76 0 1 0 -1.52 0M153.59 255.62a0.76 0.76 0 1 0 1.52 0a0.76 0.76 0 1 0 -1.52 0M87.03 254.15a0.76 0.76 0 1 0 1.52 0a0.76 0.76 0 1 0 -1.52 0M153.59 254.15a0.76 0.76 0 1 0 1.52 0a0.76 0.76 0 1 0 -1.52 0M87.03 190.51a0.76 0.76 0 1 0 1.52 0a0.76 0.76 0 1 0 -1.52 0M153.59 190.51a0.76 0.76 0 1 0 1.52 0a0.76 0.76 0 1 0 -1.52 0M87.03 191.87a0.76 0.76 0 1 0 1.52 0a0.76 0.76 0 1 0 -1.52 0M153.59 191.87a0.76 0.76 0 1 0 1.52 0a0.76 0.76 0 1 0 -1.52 0M87.03 206.20a0.76 0.76 0 1 0 1.52 0a0.76 0.76 0 1 0 -1.52 0M153.59 206.20a0.76 0.76 0 1 0 1.52 0a0.76 0.76 0 1 0 -1.52 0M89.33 217.19a0.76 0.76 0 1 0 1.52 0a0.76 0.76 0 1 0 -1.52 0M151.29 217.19a0.76 0.76 0 1 0 1.52 0a0.76 0.76 0 1 0 -1.52 0M89.33 224.26a0.76 0.76 0 1 0 1.52 0a0.76 0.76 0 1 0 -1.52 0M151.29 224.26a0.76 0.76 0 1 0 1.52 0a0.76 0.76 0 1 0 -1.52 0M89.33 230.46a0.76 0.76 0 1 0 1.52 0a0.76 0.76 0 1 0 -1.52 0M151.29 230.46a0.76 0.76 0 1 0 1.52 0a0.76 0.76 0 1 0 -1.52 0M89.33 235.40a0.76 0.76 0 1 0 1.52 0a0.76 0.76 0 1 0 -1.52 0M151.29 235.40a0.76 0.76 0 1 0 1.52 0a0.76 0.76 0 1 0 -1.52 0M89.33 232.05a0.76 0.76 0 1 0 1.52 0a0.76 0.76 0 1 0 -1.52 0M151.29 232.05a0.76 0.76 0 1 0 1.52 0a0.76 0.76 0 1 0 -1.52 0M89.33 226.89a0.76 0.76 0 1 0 1.52 0a0.76 0.76 0 1 0 -1.52 0M151.29 226.89a0.76 0.76 0 1 0 1.52 0a0.76 0.76 0 1 0 -1.52 0M89.33 226.62a0.76 0.76 0 1 0 1.52 0a0.76 0.76 0 1 0 -1.52 0M151.29 226.62a0.76 0.76 0 1 0 1.52 0a0.76 0.76 0 1 0 -1.52 0M89.33 249.18a0.76 0.76 0 1 0 1.52 0a0.76 0.76 0 1 0 -1.52 0M151.29 249.18a0.76 0.76 0 1 0 1.52 0a0.76 0.76 0 1 0 -1.52 0M89.33 262.20a0.76 0.76 0 1 0 1.52 0a0.76 0.76 0 1 0 -1.52 0M151.29 262.20a0.76 0.76 0 1 0 1.52 0a0.76 0.76 0 1 0 -1.52 0M89.33 258.17a0.76 0.76 0 1 0 1.52 0a0.76 0.76 0 1 0 -1.52 0M151.29 258.17a0.76 0.76 0 1 0 1.52 0a0.76 0.76 0 1 0 -1.52 0M89.33 268.38a0.76 0.76 0 1 0 1.52 0a0.76 0.76 0 1 0 -1.52 0M151.29 268.38a0.76 0.76 0 1 0 1.52 0a0.76 0.76 0 1 0 -1.52 0M89.33 267.45a0.76 0.76 0 1 0 1.52 0a0.76 0.76 0 1 0 -1.52 0M151.29 267.45a0.76 0.76 0 1 0 1.52 0a0.76 0.76 0 1 0 -1.52 0M89.33 256.17a0.76 0.76 0 1 0 1.52 0a0.76 0.76 0 1 0 -1.52 0M151.29 256.17a0.76 0.76 0 1 0 1.52 0a0.76 0.76 0 1 0 -1.52 0M89.33 259.54a0.76 0.76 0 1 0 1.52 0a0.76 0.76 0 1 0 -1.52 0M151.29 259.54a0.76 0.76 0 1 0 1.52 0a0.76 0.76 0 1 0 -1.52 0M89.33 190.09a0.76 0.76 0 1 0 1.52 0a0.76 0.76 0 1 0 -1.52 0M151.29 190.09a0.76 0.76 0 1 0 1.52 0a0.76 0.76 0 1 0 -1.52 0M89.33 193.85a0.76 0.76 0 1 0 1.52 0a0.76 0.76 0 1 0 -1.52 0M151.29 193.85a0.76 0.76 0 1 0 1.52 0a0.76 0.76 0 1 0 -1.52 0M89.33 208.29a0.76 0.76 0 1 0 1.52 0a0.76 0.76 0 1 0 -1.52 0M151.29 208.29a0.76 0.76 0 1 0 1.52 0a0.76 0.76 0 1 0 -1.52 0M91.62 212.09a0.76 0.76 0 1 0 1.52 0a0.76 0.76 0 1 0 -1.52 0M149.00 212.09a0.76 0.76 0 1 0 1.52 0a0.76 0.76 0 1 0 -1.52 0M91.62 221.02a0.76 0.76 0 1 0 1.52 0a0.76 0.76 0 1 0 -1.52 0M149.00 221.02a0.76 0.76 0 1 0 1.52 0a0.76 0.76 0 1 0 -1.52 0M91.62 228.22a0.76 0.76 0 1 0 1.52 0a0.76 0.76 0 1 0 -1.52 0M149.00 228.22a0.76 0.76 0 1 0 1.52 0a0.76 0.76 0 1 0 -1.52 0M91.62 234.82a0.76 0.76 0 1 0 1.52 0a0.76 0.76 0 1 0 -1.52 0M149.00 234.82a0.76 0.76 0 1 0 1.52 0a0.76 0.76 0 1 0 -1.52 0M91.62 239.42a0.76 0.76 0 1 0 1.52 0a0.76 0.76 0 1 0 -1.52 0M149.00 239.42a0.76 0.76 0 1 0 1.52 0a0.76 0.76 0 1 0 -1.52 0M91.62 230.19a0.76 0.76 0 1 0 1.52 0a0.76 0.76 0 1 0 -1.52 0M149.00 230.19a0.76 0.76 0 1 0 1.52 0a0.76 0.76 0 1 0 -1.52 0M91.62 224.44a0.76 0.76 0 1 0 1.52 0a0.76 0.76 0 1 0 -1.52 0M149.00 224.44a0.76 0.76 0 1 0 1.52 0a0.76 0.76 0 1 0 -1.52 0M91.62 229.05a0.76 0.76 0 1 0 1.52 0a0.76 0.76 0 1 0 -1.52 0M149.00 229.05a0.76 0.76 0 1 0 1.52 0a0.76 0.76 0 1 0 -1.52 0M91.62 245.57a0.76 0.76 0 1 0 1.52 0a0.76 0.76 0 1 0 -1.52 0M149.00 245.57a0.76 0.76 0 1 0 1.52 0a0.76 0.76 0 1 0 -1.52 0M91.62 266.91a0.76 0.76 0 1 0 1.52 0a0.76 0.76 0 1 0 -1.52 0M149.00 266.91a0.76 0.76 0 1 0 1.52 0a0.76 0.76 0 1 0 -1.52 0M91.62 262.91a0.76 0.76 0 1 0 1.52 0a0.76 0.76 0 1 0 -1.52 0M149.00 262.91a0.76 0.76 0 1 0 1.52 0a0.76 0.76 0 1 0 -1.52 0M91.62 272.15a0.76 0.76 0 1 0 1.52 0a0.76 0.76 0 1 0 -1.52 0M149.00 272.15a0.76 0.76 0 1 0 1.52 0a0.76 0.76 0 1 0 -1.52 0M91.62 270.45a0.76 0.76 0 1 0 1.52 0a0.76 0.76 0 1 0 -1.52 0M149.00 270.45a0.76 0.76 0 1 0 1.52 0a0.76 0.76 0 1 0 -1.52 0M91.62 257.48a0.76 0.76 0 1 0 1.52 0a0.76 0.76 0 1 0 -1.52 0M149.00 257.48a0.76 0.76 0 1 0 1.52 0a0.76 0.76 0 1 0 -1.52 0M91.62 264.60a0.76 0.76 0 1 0 1.52 0a0.76 0.76 0 1 0 -1.52 0M149.00 264.60a0.76 0.76 0 1 0 1.52 0a0.76 0.76 0 1 0 -1.52 0M91.62 190.09a0.76 0.76 0 1 0 1.52 0a0.76 0.76 0 1 0 -1.52 0M149.00 190.09a0.76 0.76 0 1 0 1.52 0a0.76 0.76 0 1 0 -1.52 0M91.62 193.64a0.76 0.76 0 1 0 1.52 0a0.76 0.76 0 1 0 -1.52 0M149.00 193.64a0.76 0.76 0 1 0 1.52 0a0.76 0.76 0 1 0 -1.52 0M91.62 196.57a0.76 0.76 0 1 0 1.52 0a0.76 0.76 0 1 0 -1.52 0M149.00 196.57a0.76 0.76 0 1 0 1.52 0a0.76 0.76 0 1 0 -1.52 0M93.91 213.99a0.76 0.76 0 1 0 1.52 0a0.76 0.76 0 1 0 -1.52 0M146.70 213.99a0.76 0.76 0 1 0 1.52 0a0.76 0.76 0 1 0 -1.52 0M93.91 217.10a0.76 0.76 0 1 0 1.52 0a0.76 0.76 0 1 0 -1.52 0M146.70 217.10a0.76 0.76 0 1 0 1.52 0a0.76 0.76 0 1 0 -1.52 0M93.91 225.08a0.76 0.76 0 1 0 1.52 0a0.76 0.76 0 1 0 -1.52 0M146.70 225.08a0.76 0.76 0 1 0 1.52 0a0.76 0.76 0 1 0 -1.52 0M93.91 232.30a0.76 0.76 0 1 0 1.52 0a0.76 0.76 0 1 0 -1.52 0M146.70 232.30a0.76 0.76 0 1 0 1.52 0a0.76 0.76 0 1 0 -1.52 0M93.91 239.37a0.76 0.76 0 1 0 1.52 0a0.76 0.76 0 1 0 -1.52 0M146.70 239.37a0.76 0.76 0 1 0 1.52 0a0.76 0.76 0 1 0 -1.52 0M93.91 244.89a0.76 0.76 0 1 0 1.52 0a0.76 0.76 0 1 0 -1.52 0M146.70 244.89a0.76 0.76 0 1 0 1.52 0a0.76 0.76 0 1 0 -1.52 0M93.91 228.55a0.76 0.76 0 1 0 1.52 0a0.76 0.76 0 1 0 -1.52 0M146.70 228.55a0.76 0.76 0 1 0 1.52 0a0.76 0.76 0 1 0 -1.52 0M93.91 222.86a0.76 0.76 0 1 0 1.52 0a0.76 0.76 0 1 0 -1.52 0M146.70 222.86a0.76 0.76 0 1 0 1.52 0a0.76 0.76 0 1 0 -1.52 0M93.91 229.96a0.76 0.76 0 1 0 1.52 0a0.76 0.76 0 1 0 -1.52 0M146.70 229.96a0.76 0.76 0 1 0 1.52 0a0.76 0.76 0 1 0 -1.52 0M93.91 242.49a0.76 0.76 0 1 0 1.52 0a0.76 0.76 0 1 0 -1.52 0M146.70 242.49a0.76 0.76 0 1 0 1.52 0a0.76 0.76 0 1 0 -1.52 0M93.91 272.05a0.76 0.76 0 1 0 1.52 0a0.76 0.76 0 1 0 -1.52 0M146.70 272.05a0.76 0.76 0 1 0 1.52 0a0.76 0.76 0 1 0 -1.52 0M93.91 266.96a0.76 0.76 0 1 0 1.52 0a0.76 0.76 0 1 0 -1.52 0M146.70 266.96a0.76 0.76 0 1 0 1.52 0a0.76 0.76 0 1 0 -1.52 0M93.91 276.11a0.76 0.76 0 1 0 1.52 0a0.76 0.76 0 1 0 -1.52 0M146.70 276.11a0.76 0.76 0 1 0 1.52 0a0.76 0.76 0 1 0 -1.52 0M93.91 273.89a0.76 0.76 0 1 0 1.52 0a0.76 0.76 0 1 0 -1.52 0M146.70 273.89a0.76 0.76 0 1 0 1.52 0a0.76 0.76 0 1 0 -1.52 0M93.91 269.89a0.76 0.76 0 1 0 1.52 0a0.76 0.76 0 1 0 -1.52 0M146.70 269.89a0.76 0.76 0 1 0 1.52 0a0.76 0.76 0 1 0 -1.52 0M93.91 272.89a0.76 0.76 0 1 0 1.52 0a0.76 0.76 0 1 0 -1.52 0M146.70 272.89a0.76 0.76 0 1 0 1.52 0a0.76 0.76 0 1 0 -1.52 0M93.91 192.28a0.76 0.76 0 1 0 1.52 0a0.76 0.76 0 1 0 -1.52 0M146.70 192.28a0.76 0.76 0 1 0 1.52 0a0.76 0.76 0 1 0 -1.52 0M93.91 196.57a0.76 0.76 0 1 0 1.52 0a0.76 0.76 0 1 0 -1.52 0M146.70 196.57a0.76 0.76 0 1 0 1.52 0a0.76 0.76 0 1 0 -1.52 0M93.91 199.92a0.76 0.76 0 1 0 1.52 0a0.76 0.76 0 1 0 -1.52 0M146.70 199.92a0.76 0.76 0 1 0 1.52 0a0.76 0.76 0 1 0 -1.52 0M96.21 218.81a0.76 0.76 0 1 0 1.52 0a0.76 0.76 0 1 0 -1.52 0M144.41 218.81a0.76 0.76 0 1 0 1.52 0a0.76 0.76 0 1 0 -1.52 0M96.21 220.43a0.76 0.76 0 1 0 1.52 0a0.76 0.76 0 1 0 -1.52 0M144.41 220.43a0.76 0.76 0 1 0 1.52 0a0.76 0.76 0 1 0 -1.52 0M96.21 229.10a0.76 0.76 0 1 0 1.52 0a0.76 0.76 0 1 0 -1.52 0M144.41 229.10a0.76 0.76 0 1 0 1.52 0a0.76 0.76 0 1 0 -1.52 0M96.21 236.56a0.76 0.76 0 1 0 1.52 0a0.76 0.76 0 1 0 -1.52 0M144.41 236.56a0.76 0.76 0 1 0 1.52 0a0.76 0.76 0 1 0 -1.52 0M96.21 243.57a0.76 0.76 0 1 0 1.52 0a0.76 0.76 0 1 0 -1.52 0M144.41 243.57a0.76 0.76 0 1 0 1.52 0a0.76 0.76 0 1 0 -1.52 0M96.21 249.64a0.76 0.76 0 1 0 1.52 0a0.76 0.76 0 1 0 -1.52 0M144.41 249.64a0.76 0.76 0 1 0 1.52 0a0.76 0.76 0 1 0 -1.52 0M96.21 226.10a0.76 0.76 0 1 0 1.52 0a0.76 0.76 0 1 0 -1.52 0M144.41 226.10a0.76 0.76 0 1 0 1.52 0a0.76 0.76 0 1 0 -1.52 0M96.21 221.83a0.76 0.76 0 1 0 1.52 0a0.76 0.76 0 1 0 -1.52 0M144.41 221.83a0.76 0.76 0 1 0 1.52 0a0.76 0.76 0 1 0 -1.52 0M96.21 230.91a0.76 0.76 0 1 0 1.52 0a0.76 0.76 0 1 0 -1.52 0M144.41 230.91a0.76 0.76 0 1 0 1.52 0a0.76 0.76 0 1 0 -1.52 0M96.21 239.66a0.76 0.76 0 1 0 1.52 0a0.76 0.76 0 1 0 -1.52 0M144.41 239.66a0.76 0.76 0 1 0 1.52 0a0.76 0.76 0 1 0 -1.52 0M96.21 275.78a0.76 0.76 0 1 0 1.52 0a0.76 0.76 0 1 0 -1.52 0M144.41 275.78a0.76 0.76 0 1 0 1.52 0a0.76 0.76 0 1 0 -1.52 0M96.21 272.72a0.76 0.76 0 1 0 1.52 0a0.76 0.76 0 1 0 -1.52 0M144.41 272.72a0.76 0.76 0 1 0 1.52 0a0.76 0.76 0 1 0 -1.52 0M96.21 280.07a0.76 0.76 0 1 0 1.52 0a0.76 0.76 0 1 0 -1.52 0M144.41 280.07a0.76 0.76 0 1 0 1.52 0a0.76 0.76 0 1 0 -1.52 0M96.21 277.52a0.76 0.76 0 1 0 1.52 0a0.76 0.76 0 1 0 -1.52 0M144.41 277.52a0.76 0.76 0 1 0 1.52 0a0.76 0.76 0 1 0 -1.52 0M96.21 274.39a0.76 0.76 0 1 0 1.52 0a0.76 0.76 0 1 0 -1.52 0M144.41 274.39a0.76 0.76 0 1 0 1.52 0a0.76 0.76 0 1 0 -1.52 0M96.21 280.95a0.76 0.76 0 1 0 1.52 0a0.76 0.76 0 1 0 -1.52 0M144.41 280.95a0.76 0.76 0 1 0 1.52 0a0.76 0.76 0 1 0 -1.52 0M96.21 193.64a0.76 0.76 0 1 0 1.52 0a0.76 0.76 0 1 0 -1.52 0M144.41 193.64a0.76 0.76 0 1 0 1.52 0a0.76 0.76 0 1 0 -1.52 0M96.21 195.53a0.76 0.76 0 1 0 1.52 0a0.76 0.76 0 1 0 -1.52 0M144.41 195.53a0.76 0.76 0 1 0 1.52 0a0.76 0.76 0 1 0 -1.52 0M96.21 199.92a0.76 0.76 0 1 0 1.52 0a0.76 0.76 0 1 0 -1.52 0M144.41 199.92a0.76 0.76 0 1 0 1.52 0a0.76 0.76 0 1 0 -1.52 0M96.21 201.49a0.76 0.76 0 1 0 1.52 0a0.76 0.76 0 1 0 -1.52 0M144.41 201.49a0.76 0.76 0 1 0 1.52 0a0.76 0.76 0 1 0 -1.52 0M98.50 213.11a0.76 0.76 0 1 0 1.52 0a0.76 0.76 0 1 0 -1.52 0M142.11 213.11a0.76 0.76 0 1 0 1.52 0a0.76 0.76 0 1 0 -1.52 0M98.50 223.43a0.76 0.76 0 1 0 1.52 0a0.76 0.76 0 1 0 -1.52 0M142.11 223.43a0.76 0.76 0 1 0 1.52 0a0.76 0.76 0 1 0 -1.52 0M98.50 225.47a0.76 0.76 0 1 0 1.52 0a0.76 0.76 0 1 0 -1.52 0M142.11 225.47a0.76 0.76 0 1 0 1.52 0a0.76 0.76 0 1 0 -1.52 0M98.50 232.88a0.76 0.76 0 1 0 1.52 0a0.76 0.76 0 1 0 -1.52 0M142.11 232.88a0.76 0.76 0 1 0 1.52 0a0.76 0.76 0 1 0 -1.52 0M98.50 240.16a0.76 0.76 0 1 0 1.52 0a0.76 0.76 0 1 0 -1.52 0M142.11 240.16a0.76 0.76 0 1 0 1.52 0a0.76 0.76 0 1 0 -1.52 0M98.50 247.07a0.76 0.76 0 1 0 1.52 0a0.76 0.76 0 1 0 -1.52 0M142.11 247.07a0.76 0.76 0 1 0 1.52 0a0.76 0.76 0 1 0 -1.52 0M98.50 253.55a0.76 0.76 0 1 0 1.52 0a0.76 0.76 0 1 0 -1.52 0M142.11 253.55a0.76 0.76 0 1 0 1.52 0a0.76 0.76 0 1 0 -1.52 0M98.50 223.96a0.76 0.76 0 1 0 1.52 0a0.76 0.76 0 1 0 -1.52 0M142.11 223.96a0.76 0.76 0 1 0 1.52 0a0.76 0.76 0 1 0 -1.52 0M98.50 220.64a0.76 0.76 0 1 0 1.52 0a0.76 0.76 0 1 0 -1.52 0M142.11 220.64a0.76 0.76 0 1 0 1.52 0a0.76 0.76 0 1 0 -1.52 0M98.50 230.71a0.76 0.76 0 1 0 1.52 0a0.76 0.76 0 1 0 -1.52 0M142.11 230.71a0.76 0.76 0 1 0 1.52 0a0.76 0.76 0 1 0 -1.52 0M98.50 237.01a0.76 0.76 0 1 0 1.52 0a0.76 0.76 0 1 0 -1.52 0M142.11 237.01a0.76 0.76 0 1 0 1.52 0a0.76 0.76 0 1 0 -1.52 0M98.50 280.84a0.76 0.76 0 1 0 1.52 0a0.76 0.76 0 1 0 -1.52 0M142.11 280.84a0.76 0.76 0 1 0 1.52 0a0.76 0.76 0 1 0 -1.52 0M98.50 275.96a0.76 0.76 0 1 0 1.52 0a0.76 0.76 0 1 0 -1.52 0M142.11 275.96a0.76 0.76 0 1 0 1.52 0a0.76 0.76 0 1 0 -1.52 0M98.50 282.39a0.76 0.76 0 1 0 1.52 0a0.76 0.76 0 1 0 -1.52 0M142.11 282.39a0.76 0.76 0 1 0 1.52 0a0.76 0.76 0 1 0 -1.52 0M98.50 280.66a0.76 0.76 0 1 0 1.52 0a0.76 0.76 0 1 0 -1.52 0M142.11 280.66a0.76 0.76 0 1 0 1.52 0a0.76 0.76 0 1 0 -1.52 0M98.50 274.43a0.76 0.76 0 1 0 1.52 0a0.76 0.76 0 1 0 -1.52 0M142.11 274.43a0.76 0.76 0 1 0 1.52 0a0.76 0.76 0 1 0 -1.52 0M98.50 283.09a0.76 0.76 0 1 0 1.52 0a0.76 0.76 0 1 0 -1.52 0M142.11 283.09a0.76 0.76 0 1 0 1.52 0a0.76 0.76 0 1 0 -1.52 0M98.50 195.53a0.76 0.76 0 1 0 1.52 0a0.76 0.76 0 1 0 -1.52 0M142.11 195.53a0.76 0.76 0 1 0 1.52 0a0.76 0.76 0 1 0 -1.52 0M98.50 198.25a0.76 0.76 0 1 0 1.52 0a0.76 0.76 0 1 0 -1.52 0M142.11 198.25a0.76 0.76 0 1 0 1.52 0a0.76 0.76 0 1 0 -1.52 0M98.50 202.01a0.76 0.76 0 1 0 1.52 0a0.76 0.76 0 1 0 -1.52 0M142.11 202.01a0.76 0.76 0 1 0 1.52 0a0.76 0.76 0 1 0 -1.52 0M100.80 217.08a0.76 0.76 0 1 0 1.52 0a0.76 0.76 0 1 0 -1.52 0M139.81 217.08a0.76 0.76 0 1 0 1.52 0a0.76 0.76 0 1 0 -1.52 0M100.80 228.60a0.76 0.76 0 1 0 1.52 0a0.76 0.76 0 1 0 -1.52 0M139.81 228.60a0.76 0.76 0 1 0 1.52 0a0.76 0.76 0 1 0 -1.52 0M100.80 231.10a0.76 0.76 0 1 0 1.52 0a0.76 0.76 0 1 0 -1.52 0M139.81 231.10a0.76 0.76 0 1 0 1.52 0a0.76 0.76 0 1 0 -1.52 0M100.80 237.68a0.76 0.76 0 1 0 1.52 0a0.76 0.76 0 1 0 -1.52 0M139.81 237.68a0.76 0.76 0 1 0 1.52 0a0.76 0.76 0 1 0 -1.52 0M100.80 244.65a0.76 0.76 0 1 0 1.52 0a0.76 0.76 0 1 0 -1.52 0M139.81 244.65a0.76 0.76 0 1 0 1.52 0a0.76 0.76 0 1 0 -1.52 0M100.80 249.01a0.76 0.76 0 1 0 1.52 0a0.76 0.76 0 1 0 -1.52 0M139.81 249.01a0.76 0.76 0 1 0 1.52 0a0.76 0.76 0 1 0 -1.52 0M100.80 258.59a0.76 0.76 0 1 0 1.52 0a0.76 0.76 0 1 0 -1.52 0M139.81 258.59a0.76 0.76 0 1 0 1.52 0a0.76 0.76 0 1 0 -1.52 0M100.80 223.43a0.76 0.76 0 1 0 1.52 0a0.76 0.76 0 1 0 -1.52 0M139.81 223.43a0.76 0.76 0 1 0 1.52 0a0.76 0.76 0 1 0 -1.52 0M100.80 218.16a0.76 0.76 0 1 0 1.52 0a0.76 0.76 0 1 0 -1.52 0M139.81 218.16a0.76 0.76 0 1 0 1.52 0a0.76 0.76 0 1 0 -1.52 0M100.80 229.18a0.76 0.76 0 1 0 1.52 0a0.76 0.76 0 1 0 -1.52 0M139.81 229.18a0.76 0.76 0 1 0 1.52 0a0.76 0.76 0 1 0 -1.52 0M100.80 234.24a0.76 0.76 0 1 0 1.52 0a0.76 0.76 0 1 0 -1.52 0M139.81 234.24a0.76 0.76 0 1 0 1.52 0a0.76 0.76 0 1 0 -1.52 0M100.80 276.72a0.76 0.76 0 1 0 1.52 0a0.76 0.76 0 1 0 -1.52 0M139.81 276.72a0.76 0.76 0 1 0 1.52 0a0.76 0.76 0 1 0 -1.52 0M100.80 280.04a0.76 0.76 0 1 0 1.52 0a0.76 0.76 0 1 0 -1.52 0M139.81 280.04a0.76 0.76 0 1 0 1.52 0a0.76 0.76 0 1 0 -1.52 0M100.80 272.20a0.76 0.76 0 1 0 1.52 0a0.76 0.76 0 1 0 -1.52 0M139.81 272.20a0.76 0.76 0 1 0 1.52 0a0.76 0.76 0 1 0 -1.52 0M100.80 278.05a0.76 0.76 0 1 0 1.52 0a0.76 0.76 0 1 0 -1.52 0M139.81 278.05a0.76 0.76 0 1 0 1.52 0a0.76 0.76 0 1 0 -1.52 0M100.80 257.96a0.76 0.76 0 1 0 1.52 0a0.76 0.76 0 1 0 -1.52 0M139.81 257.96a0.76 0.76 0 1 0 1.52 0a0.76 0.76 0 1 0 -1.52 0M100.80 280.43a0.76 0.76 0 1 0 1.52 0a0.76 0.76 0 1 0 -1.52 0M139.81 280.43a0.76 0.76 0 1 0 1.52 0a0.76 0.76 0 1 0 -1.52 0M100.80 198.87a0.76 0.76 0 1 0 1.52 0a0.76 0.76 0 1 0 -1.52 0M139.81 198.87a0.76 0.76 0 1 0 1.52 0a0.76 0.76 0 1 0 -1.52 0M100.80 199.92a0.76 0.76 0 1 0 1.52 0a0.76 0.76 0 1 0 -1.52 0M139.81 199.92a0.76 0.76 0 1 0 1.52 0a0.76 0.76 0 1 0 -1.52 0M100.80 202.53a0.76 0.76 0 1 0 1.52 0a0.76 0.76 0 1 0 -1.52 0M139.81 202.53a0.76 0.76 0 1 0 1.52 0a0.76 0.76 0 1 0 -1.52 0M100.80 207.24a0.76 0.76 0 1 0 1.52 0a0.76 0.76 0 1 0 -1.52 0M139.81 207.24a0.76 0.76 0 1 0 1.52 0a0.76 0.76 0 1 0 -1.52 0M103.09 220.39a0.76 0.76 0 1 0 1.52 0a0.76 0.76 0 1 0 -1.52 0M137.52 220.39a0.76 0.76 0 1 0 1.52 0a0.76 0.76 0 1 0 -1.52 0M103.09 233.34a0.76 0.76 0 1 0 1.52 0a0.76 0.76 0 1 0 -1.52 0M137.52 233.34a0.76 0.76 0 1 0 1.52 0a0.76 0.76 0 1 0 -1.52 0M103.09 236.72a0.76 0.76 0 1 0 1.52 0a0.76 0.76 0 1 0 -1.52 0M137.52 236.72a0.76 0.76 0 1 0 1.52 0a0.76 0.76 0 1 0 -1.52 0M103.09 241.24a0.76 0.76 0 1 0 1.52 0a0.76 0.76 0 1 0 -1.52 0M137.52 241.24a0.76 0.76 0 1 0 1.52 0a0.76 0.76 0 1 0 -1.52 0M103.09 248.09a0.76 0.76 0 1 0 1.52 0a0.76 0.76 0 1 0 -1.52 0M137.52 248.09a0.76 0.76 0 1 0 1.52 0a0.76 0.76 0 1 0 -1.52 0M103.09 249.16a0.76 0.76 0 1 0 1.52 0a0.76 0.76 0 1 0 -1.52 0M137.52 249.16a0.76 0.76 0 1 0 1.52 0a0.76 0.76 0 1 0 -1.52 0M103.09 263.22a0.76 0.76 0 1 0 1.52 0a0.76 0.76 0 1 0 -1.52 0M137.52 263.22a0.76 0.76 0 1 0 1.52 0a0.76 0.76 0 1 0 -1.52 0M103.09 220.96a0.76 0.76 0 1 0 1.52 0a0.76 0.76 0 1 0 -1.52 0M137.52 220.96a0.76 0.76 0 1 0 1.52 0a0.76 0.76 0 1 0 -1.52 0M103.09 217.94a0.76 0.76 0 1 0 1.52 0a0.76 0.76 0 1 0 -1.52 0M137.52 217.94a0.76 0.76 0 1 0 1.52 0a0.76 0.76 0 1 0 -1.52 0M103.09 227.63a0.76 0.76 0 1 0 1.52 0a0.76 0.76 0 1 0 -1.52 0M137.52 227.63a0.76 0.76 0 1 0 1.52 0a0.76 0.76 0 1 0 -1.52 0M103.09 233.94a0.76 0.76 0 1 0 1.52 0a0.76 0.76 0 1 0 -1.52 0M137.52 233.94a0.76 0.76 0 1 0 1.52 0a0.76 0.76 0 1 0 -1.52 0M103.09 266.32a0.76 0.76 0 1 0 1.52 0a0.76 0.76 0 1 0 -1.52 0M137.52 266.32a0.76 0.76 0 1 0 1.52 0a0.76 0.76 0 1 0 -1.52 0M103.09 273.62a0.76 0.76 0 1 0 1.52 0a0.76 0.76 0 1 0 -1.52 0M137.52 273.62a0.76 0.76 0 1 0 1.52 0a0.76 0.76 0 1 0 -1.52 0M103.09 262.86a0.76 0.76 0 1 0 1.52 0a0.76 0.76 0 1 0 -1.52 0M137.52 262.86a0.76 0.76 0 1 0 1.52 0a0.76 0.76 0 1 0 -1.52 0M103.09 271.38a0.76 0.76 0 1 0 1.52 0a0.76 0.76 0 1 0 -1.52 0M137.52 271.38a0.76 0.76 0 1 0 1.52 0a0.76 0.76 0 1 0 -1.52 0M103.09 263.00a0.76 0.76 0 1 0 1.52 0a0.76 0.76 0 1 0 -1.52 0M137.52 263.00a0.76 0.76 0 1 0 1.52 0a0.76 0.76 0 1 0 -1.52 0M103.09 270.94a0.76 0.76 0 1 0 1.52 0a0.76 0.76 0 1 0 -1.52 0M137.52 270.94a0.76 0.76 0 1 0 1.52 0a0.76 0.76 0 1 0 -1.52 0M103.09 199.40a0.76 0.76 0 1 0 1.52 0a0.76 0.76 0 1 0 -1.52 0M137.52 199.40a0.76 0.76 0 1 0 1.52 0a0.76 0.76 0 1 0 -1.52 0M103.09 207.45a0.76 0.76 0 1 0 1.52 0a0.76 0.76 0 1 0 -1.52 0M137.52 207.45a0.76 0.76 0 1 0 1.52 0a0.76 0.76 0 1 0 -1.52 0M105.39 212.07a0.76 0.76 0 1 0 1.52 0a0.76 0.76 0 1 0 -1.52 0M135.23 212.07a0.76 0.76 0 1 0 1.52 0a0.76 0.76 0 1 0 -1.52 0M105.39 222.37a0.76 0.76 0 1 0 1.52 0a0.76 0.76 0 1 0 -1.52 0M135.23 222.37a0.76 0.76 0 1 0 1.52 0a0.76 0.76 0 1 0 -1.52 0M105.39 238.79a0.76 0.76 0 1 0 1.52 0a0.76 0.76 0 1 0 -1.52 0M135.23 238.79a0.76 0.76 0 1 0 1.52 0a0.76 0.76 0 1 0 -1.52 0M105.39 241.70a0.76 0.76 0 1 0 1.52 0a0.76 0.76 0 1 0 -1.52 0M135.23 241.70a0.76 0.76 0 1 0 1.52 0a0.76 0.76 0 1 0 -1.52 0M105.39 245.94a0.76 0.76 0 1 0 1.52 0a0.76 0.76 0 1 0 -1.52 0M135.23 245.94a0.76 0.76 0 1 0 1.52 0a0.76 0.76 0 1 0 -1.52 0M105.39 251.66a0.76 0.76 0 1 0 1.52 0a0.76 0.76 0 1 0 -1.52 0M135.23 251.66a0.76 0.76 0 1 0 1.52 0a0.76 0.76 0 1 0 -1.52 0M105.39 249.69a0.76 0.76 0 1 0 1.52 0a0.76 0.76 0 1 0 -1.52 0M135.23 249.69a0.76 0.76 0 1 0 1.52 0a0.76 0.76 0 1 0 -1.52 0M105.39 262.86a0.76 0.76 0 1 0 1.52 0a0.76 0.76 0 1 0 -1.52 0M135.23 262.86a0.76 0.76 0 1 0 1.52 0a0.76 0.76 0 1 0 -1.52 0M105.39 219.88a0.76 0.76 0 1 0 1.52 0a0.76 0.76 0 1 0 -1.52 0M135.23 219.88a0.76 0.76 0 1 0 1.52 0a0.76 0.76 0 1 0 -1.52 0M105.39 216.84a0.76 0.76 0 1 0 1.52 0a0.76 0.76 0 1 0 -1.52 0M135.23 216.84a0.76 0.76 0 1 0 1.52 0a0.76 0.76 0 1 0 -1.52 0M105.39 225.65a0.76 0.76 0 1 0 1.52 0a0.76 0.76 0 1 0 -1.52 0M135.23 225.65a0.76 0.76 0 1 0 1.52 0a0.76 0.76 0 1 0 -1.52 0M105.39 232.05a0.76 0.76 0 1 0 1.52 0a0.76 0.76 0 1 0 -1.52 0M135.23 232.05a0.76 0.76 0 1 0 1.52 0a0.76 0.76 0 1 0 -1.52 0M105.39 257.01a0.76 0.76 0 1 0 1.52 0a0.76 0.76 0 1 0 -1.52 0M135.23 257.01a0.76 0.76 0 1 0 1.52 0a0.76 0.76 0 1 0 -1.52 0M105.39 262.67a0.76 0.76 0 1 0 1.52 0a0.76 0.76 0 1 0 -1.52 0M135.23 262.67a0.76 0.76 0 1 0 1.52 0a0.76 0.76 0 1 0 -1.52 0M105.39 253.20a0.76 0.76 0 1 0 1.52 0a0.76 0.76 0 1 0 -1.52 0M135.23 253.20a0.76 0.76 0 1 0 1.52 0a0.76 0.76 0 1 0 -1.52 0M105.39 266.12a0.76 0.76 0 1 0 1.52 0a0.76 0.76 0 1 0 -1.52 0M135.23 266.12a0.76 0.76 0 1 0 1.52 0a0.76 0.76 0 1 0 -1.52 0M105.39 259.10a0.76 0.76 0 1 0 1.52 0a0.76 0.76 0 1 0 -1.52 0M135.23 259.10a0.76 0.76 0 1 0 1.52 0a0.76 0.76 0 1 0 -1.52 0M105.39 258.64a0.76 0.76 0 1 0 1.52 0a0.76 0.76 0 1 0 -1.52 0M135.23 258.64a0.76 0.76 0 1 0 1.52 0a0.76 0.76 0 1 0 -1.52 0M105.39 204.73a0.76 0.76 0 1 0 1.52 0a0.76 0.76 0 1 0 -1.52 0M135.23 204.73a0.76 0.76 0 1 0 1.52 0a0.76 0.76 0 1 0 -1.52 0M105.39 207.97a0.76 0.76 0 1 0 1.52 0a0.76 0.76 0 1 0 -1.52 0M135.23 207.97a0.76 0.76 0 1 0 1.52 0a0.76 0.76 0 1 0 -1.52 0M107.68 215.15a0.76 0.76 0 1 0 1.52 0a0.76 0.76 0 1 0 -1.52 0M132.93 215.15a0.76 0.76 0 1 0 1.52 0a0.76 0.76 0 1 0 -1.52 0M107.68 213.94a0.76 0.76 0 1 0 1.52 0a0.76 0.76 0 1 0 -1.52 0M132.93 213.94a0.76 0.76 0 1 0 1.52 0a0.76 0.76 0 1 0 -1.52 0M107.68 224.99a0.76 0.76 0 1 0 1.52 0a0.76 0.76 0 1 0 -1.52 0M132.93 224.99a0.76 0.76 0 1 0 1.52 0a0.76 0.76 0 1 0 -1.52 0M107.68 242.63a0.76 0.76 0 1 0 1.52 0a0.76 0.76 0 1 0 -1.52 0M132.93 242.63a0.76 0.76 0 1 0 1.52 0a0.76 0.76 0 1 0 -1.52 0M107.68 245.88a0.76 0.76 0 1 0 1.52 0a0.76 0.76 0 1 0 -1.52 0M132.93 245.88a0.76 0.76 0 1 0 1.52 0a0.76 0.76 0 1 0 -1.52 0M107.68 248.00a0.76 0.76 0 1 0 1.52 0a0.76 0.76 0 1 0 -1.52 0M132.93 248.00a0.76 0.76 0 1 0 1.52 0a0.76 0.76 0 1 0 -1.52 0M107.68 253.57a0.76 0.76 0 1 0 1.52 0a0.76 0.76 0 1 0 -1.52 0M132.93 253.57a0.76 0.76 0 1 0 1.52 0a0.76 0.76 0 1 0 -1.52 0M107.68 247.20a0.76 0.76 0 1 0 1.52 0a0.76 0.76 0 1 0 -1.52 0M132.93 247.20a0.76 0.76 0 1 0 1.52 0a0.76 0.76 0 1 0 -1.52 0M107.68 258.95a0.76 0.76 0 1 0 1.52 0a0.76 0.76 0 1 0 -1.52 0M132.93 258.95a0.76 0.76 0 1 0 1.52 0a0.76 0.76 0 1 0 -1.52 0M107.68 218.75a0.76 0.76 0 1 0 1.52 0a0.76 0.76 0 1 0 -1.52 0M132.93 218.75a0.76 0.76 0 1 0 1.52 0a0.76 0.76 0 1 0 -1.52 0M107.68 216.50a0.76 0.76 0 1 0 1.52 0a0.76 0.76 0 1 0 -1.52 0M132.93 216.50a0.76 0.76 0 1 0 1.52 0a0.76 0.76 0 1 0 -1.52 0M107.68 224.12a0.76 0.76 0 1 0 1.52 0a0.76 0.76 0 1 0 -1.52 0M132.93 224.12a0.76 0.76 0 1 0 1.52 0a0.76 0.76 0 1 0 -1.52 0M107.68 231.09a0.76 0.76 0 1 0 1.52 0a0.76 0.76 0 1 0 -1.52 0M132.93 231.09a0.76 0.76 0 1 0 1.52 0a0.76 0.76 0 1 0 -1.52 0M107.68 248.09a0.76 0.76 0 1 0 1.52 0a0.76 0.76 0 1 0 -1.52 0M132.93 248.09a0.76 0.76 0 1 0 1.52 0a0.76 0.76 0 1 0 -1.52 0M107.68 253.78a0.76 0.76 0 1 0 1.52 0a0.76 0.76 0 1 0 -1.52 0M132.93 253.78a0.76 0.76 0 1 0 1.52 0a0.76 0.76 0 1 0 -1.52 0M107.68 245.15a0.76 0.76 0 1 0 1.52 0a0.76 0.76 0 1 0 -1.52 0M132.93 245.15a0.76 0.76 0 1 0 1.52 0a0.76 0.76 0 1 0 -1.52 0M107.68 262.59a0.76 0.76 0 1 0 1.52 0a0.76 0.76 0 1 0 -1.52 0M132.93 262.59a0.76 0.76 0 1 0 1.52 0a0.76 0.76 0 1 0 -1.52 0M107.68 253.93a0.76 0.76 0 1 0 1.52 0a0.76 0.76 0 1 0 -1.52 0M132.93 253.93a0.76 0.76 0 1 0 1.52 0a0.76 0.76 0 1 0 -1.52 0M107.68 249.43a0.76 0.76 0 1 0 1.52 0a0.76 0.76 0 1 0 -1.52 0M132.93 249.43a0.76 0.76 0 1 0 1.52 0a0.76 0.76 0 1 0 -1.52 0M107.68 206.20a0.76 0.76 0 1 0 1.52 0a0.76 0.76 0 1 0 -1.52 0M132.93 206.20a0.76 0.76 0 1 0 1.52 0a0.76 0.76 0 1 0 -1.52 0M107.68 210.38a0.76 0.76 0 1 0 1.52 0a0.76 0.76 0 1 0 -1.52 0M132.93 210.38a0.76 0.76 0 1 0 1.52 0a0.76 0.76 0 1 0 -1.52 0M109.98 213.19a0.76 0.76 0 1 0 1.52 0a0.76 0.76 0 1 0 -1.52 0M130.63 213.19a0.76 0.76 0 1 0 1.52 0a0.76 0.76 0 1 0 -1.52 0M109.98 219.03a0.76 0.76 0 1 0 1.52 0a0.76 0.76 0 1 0 -1.52 0M130.63 219.03a0.76 0.76 0 1 0 1.52 0a0.76 0.76 0 1 0 -1.52 0M109.98 216.86a0.76 0.76 0 1 0 1.52 0a0.76 0.76 0 1 0 -1.52 0M130.63 216.86a0.76 0.76 0 1 0 1.52 0a0.76 0.76 0 1 0 -1.52 0M109.98 227.56a0.76 0.76 0 1 0 1.52 0a0.76 0.76 0 1 0 -1.52 0M130.63 227.56a0.76 0.76 0 1 0 1.52 0a0.76 0.76 0 1 0 -1.52 0M109.98 246.29a0.76 0.76 0 1 0 1.52 0a0.76 0.76 0 1 0 -1.52 0M130.63 246.29a0.76 0.76 0 1 0 1.52 0a0.76 0.76 0 1 0 -1.52 0M109.98 249.69a0.76 0.76 0 1 0 1.52 0a0.76 0.76 0 1 0 -1.52 0M130.63 249.69a0.76 0.76 0 1 0 1.52 0a0.76 0.76 0 1 0 -1.52 0M109.98 250.10a0.76 0.76 0 1 0 1.52 0a0.76 0.76 0 1 0 -1.52 0M130.63 250.10a0.76 0.76 0 1 0 1.52 0a0.76 0.76 0 1 0 -1.52 0M109.98 254.24a0.76 0.76 0 1 0 1.52 0a0.76 0.76 0 1 0 -1.52 0M130.63 254.24a0.76 0.76 0 1 0 1.52 0a0.76 0.76 0 1 0 -1.52 0M109.98 244.74a0.76 0.76 0 1 0 1.52 0a0.76 0.76 0 1 0 -1.52 0M130.63 244.74a0.76 0.76 0 1 0 1.52 0a0.76 0.76 0 1 0 -1.52 0M109.98 258.12a0.76 0.76 0 1 0 1.52 0a0.76 0.76 0 1 0 -1.52 0M130.63 258.12a0.76 0.76 0 1 0 1.52 0a0.76 0.76 0 1 0 -1.52 0M109.98 217.28a0.76 0.76 0 1 0 1.52 0a0.76 0.76 0 1 0 -1.52 0M130.63 217.28a0.76 0.76 0 1 0 1.52 0a0.76 0.76 0 1 0 -1.52 0M109.98 215.24a0.76 0.76 0 1 0 1.52 0a0.76 0.76 0 1 0 -1.52 0M130.63 215.24a0.76 0.76 0 1 0 1.52 0a0.76 0.76 0 1 0 -1.52 0M109.98 222.52a0.76 0.76 0 1 0 1.52 0a0.76 0.76 0 1 0 -1.52 0M130.63 222.52a0.76 0.76 0 1 0 1.52 0a0.76 0.76 0 1 0 -1.52 0M109.98 229.74a0.76 0.76 0 1 0 1.52 0a0.76 0.76 0 1 0 -1.52 0M130.63 229.74a0.76 0.76 0 1 0 1.52 0a0.76 0.76 0 1 0 -1.52 0M109.98 239.27a0.76 0.76 0 1 0 1.52 0a0.76 0.76 0 1 0 -1.52 0M130.63 239.27a0.76 0.76 0 1 0 1.52 0a0.76 0.76 0 1 0 -1.52 0M109.98 244.39a0.76 0.76 0 1 0 1.52 0a0.76 0.76 0 1 0 -1.52 0M130.63 244.39a0.76 0.76 0 1 0 1.52 0a0.76 0.76 0 1 0 -1.52 0M109.98 238.14a0.76 0.76 0 1 0 1.52 0a0.76 0.76 0 1 0 -1.52 0M130.63 238.14a0.76 0.76 0 1 0 1.52 0a0.76 0.76 0 1 0 -1.52 0M109.98 261.67a0.76 0.76 0 1 0 1.52 0a0.76 0.76 0 1 0 -1.52 0M130.63 261.67a0.76 0.76 0 1 0 1.52 0a0.76 0.76 0 1 0 -1.52 0M109.98 255.15a0.76 0.76 0 1 0 1.52 0a0.76 0.76 0 1 0 -1.52 0M130.63 255.15a0.76 0.76 0 1 0 1.52 0a0.76 0.76 0 1 0 -1.52 0M109.98 241.63a0.76 0.76 0 1 0 1.52 0a0.76 0.76 0 1 0 -1.52 0M130.63 241.63a0.76 0.76 0 1 0 1.52 0a0.76 0.76 0 1 0 -1.52 0M109.98 208.29a0.76 0.76 0 1 0 1.52 0a0.76 0.76 0 1 0 -1.52 0M130.63 208.29a0.76 0.76 0 1 0 1.52 0a0.76 0.76 0 1 0 -1.52 0M112.27 214.67a0.76 0.76 0 1 0 1.52 0a0.76 0.76 0 1 0 -1.52 0M128.34 214.67a0.76 0.76 0 1 0 1.52 0a0.76 0.76 0 1 0 -1.52 0M112.27 216.17a0.76 0.76 0 1 0 1.52 0a0.76 0.76 0 1 0 -1.52 0M128.34 216.17a0.76 0.76 0 1 0 1.52 0a0.76 0.76 0 1 0 -1.52 0M112.27 220.79a0.76 0.76 0 1 0 1.52 0a0.76 0.76 0 1 0 -1.52 0M128.34 220.79a0.76 0.76 0 1 0 1.52 0a0.76 0.76 0 1 0 -1.52 0M112.27 231.68a0.76 0.76 0 1 0 1.52 0a0.76 0.76 0 1 0 -1.52 0M128.34 231.68a0.76 0.76 0 1 0 1.52 0a0.76 0.76 0 1 0 -1.52 0M112.27 232.80a0.76 0.76 0 1 0 1.52 0a0.76 0.76 0 1 0 -1.52 0M128.34 232.80a0.76 0.76 0 1 0 1.52 0a0.76 0.76 0 1 0 -1.52 0M112.27 237.13a0.76 0.76 0 1 0 1.52 0a0.76 0.76 0 1 0 -1.52 0M128.34 237.13a0.76 0.76 0 1 0 1.52 0a0.76 0.76 0 1 0 -1.52 0M112.27 253.02a0.76 0.76 0 1 0 1.52 0a0.76 0.76 0 1 0 -1.52 0M128.34 253.02a0.76 0.76 0 1 0 1.52 0a0.76 0.76 0 1 0 -1.52 0M112.27 242.27a0.76 0.76 0 1 0 1.52 0a0.76 0.76 0 1 0 -1.52 0M128.34 242.27a0.76 0.76 0 1 0 1.52 0a0.76 0.76 0 1 0 -1.52 0M112.27 258.76a0.76 0.76 0 1 0 1.52 0a0.76 0.76 0 1 0 -1.52 0M128.34 258.76a0.76 0.76 0 1 0 1.52 0a0.76 0.76 0 1 0 -1.52 0M112.27 216.79a0.76 0.76 0 1 0 1.52 0a0.76 0.76 0 1 0 -1.52 0M128.34 216.79a0.76 0.76 0 1 0 1.52 0a0.76 0.76 0 1 0 -1.52 0M112.27 214.60a0.76 0.76 0 1 0 1.52 0a0.76 0.76 0 1 0 -1.52 0M128.34 214.60a0.76 0.76 0 1 0 1.52 0a0.76 0.76 0 1 0 -1.52 0M112.27 221.78a0.76 0.76 0 1 0 1.52 0a0.76 0.76 0 1 0 -1.52 0M128.34 221.78a0.76 0.76 0 1 0 1.52 0a0.76 0.76 0 1 0 -1.52 0M112.27 227.93a0.76 0.76 0 1 0 1.52 0a0.76 0.76 0 1 0 -1.52 0M128.34 227.93a0.76 0.76 0 1 0 1.52 0a0.76 0.76 0 1 0 -1.52 0M112.27 233.85a0.76 0.76 0 1 0 1.52 0a0.76 0.76 0 1 0 -1.52 0M128.34 233.85a0.76 0.76 0 1 0 1.52 0a0.76 0.76 0 1 0 -1.52 0M112.27 239.41a0.76 0.76 0 1 0 1.52 0a0.76 0.76 0 1 0 -1.52 0M128.34 239.41a0.76 0.76 0 1 0 1.52 0a0.76 0.76 0 1 0 -1.52 0M112.27 232.05a0.76 0.76 0 1 0 1.52 0a0.76 0.76 0 1 0 -1.52 0M128.34 232.05a0.76 0.76 0 1 0 1.52 0a0.76 0.76 0 1 0 -1.52 0M112.27 261.84a0.76 0.76 0 1 0 1.52 0a0.76 0.76 0 1 0 -1.52 0M128.34 261.84a0.76 0.76 0 1 0 1.52 0a0.76 0.76 0 1 0 -1.52 0M112.27 254.33a0.76 0.76 0 1 0 1.52 0a0.76 0.76 0 1 0 -1.52 0M128.34 254.33a0.76 0.76 0 1 0 1.52 0a0.76 0.76 0 1 0 -1.52 0M112.27 239.24a0.76 0.76 0 1 0 1.52 0a0.76 0.76 0 1 0 -1.52 0M128.34 239.24a0.76 0.76 0 1 0 1.52 0a0.76 0.76 0 1 0 -1.52 0M112.27 205.67a0.76 0.76 0 1 0 1.52 0a0.76 0.76 0 1 0 -1.52 0M128.34 205.67a0.76 0.76 0 1 0 1.52 0a0.76 0.76 0 1 0 -1.52 0M112.27 208.29a0.76 0.76 0 1 0 1.52 0a0.76 0.76 0 1 0 -1.52 0M128.34 208.29a0.76 0.76 0 1 0 1.52 0a0.76 0.76 0 1 0 -1.52 0M112.27 210.38a0.76 0.76 0 1 0 1.52 0a0.76 0.76 0 1 0 -1.52 0M128.34 210.38a0.76 0.76 0 1 0 1.52 0a0.76 0.76 0 1 0 -1.52 0M114.57 252.42a0.76 0.76 0 1 0 1.52 0a0.76 0.76 0 1 0 -1.52 0M126.05 252.42a0.76 0.76 0 1 0 1.52 0a0.76 0.76 0 1 0 -1.52 0M114.57 240.21a0.76 0.76 0 1 0 1.52 0a0.76 0.76 0 1 0 -1.52 0M126.05 240.21a0.76 0.76 0 1 0 1.52 0a0.76 0.76 0 1 0 -1.52 0M114.57 257.53a0.76 0.76 0 1 0 1.52 0a0.76 0.76 0 1 0 -1.52 0M126.05 257.53a0.76 0.76 0 1 0 1.52 0a0.76 0.76 0 1 0 -1.52 0M114.57 215.60a0.76 0.76 0 1 0 1.52 0a0.76 0.76 0 1 0 -1.52 0M126.05 215.60a0.76 0.76 0 1 0 1.52 0a0.76 0.76 0 1 0 -1.52 0M114.57 214.04a0.76 0.76 0 1 0 1.52 0a0.76 0.76 0 1 0 -1.52 0M126.05 214.04a0.76 0.76 0 1 0 1.52 0a0.76 0.76 0 1 0 -1.52 0M114.57 220.35a0.76 0.76 0 1 0 1.52 0a0.76 0.76 0 1 0 -1.52 0M126.05 220.35a0.76 0.76 0 1 0 1.52 0a0.76 0.76 0 1 0 -1.52 0M114.57 225.78a0.76 0.76 0 1 0 1.52 0a0.76 0.76 0 1 0 -1.52 0M126.05 225.78a0.76 0.76 0 1 0 1.52 0a0.76 0.76 0 1 0 -1.52 0M114.57 229.27a0.76 0.76 0 1 0 1.52 0a0.76 0.76 0 1 0 -1.52 0M126.05 229.27a0.76 0.76 0 1 0 1.52 0a0.76 0.76 0 1 0 -1.52 0M114.57 233.55a0.76 0.76 0 1 0 1.52 0a0.76 0.76 0 1 0 -1.52 0M126.05 233.55a0.76 0.76 0 1 0 1.52 0a0.76 0.76 0 1 0 -1.52 0M114.57 227.18a0.76 0.76 0 1 0 1.52 0a0.76 0.76 0 1 0 -1.52 0M126.05 227.18a0.76 0.76 0 1 0 1.52 0a0.76 0.76 0 1 0 -1.52 0M114.57 262.27a0.76 0.76 0 1 0 1.52 0a0.76 0.76 0 1 0 -1.52 0M126.05 262.27a0.76 0.76 0 1 0 1.52 0a0.76 0.76 0 1 0 -1.52 0M114.57 253.28a0.76 0.76 0 1 0 1.52 0a0.76 0.76 0 1 0 -1.52 0M126.05 253.28a0.76 0.76 0 1 0 1.52 0a0.76 0.76 0 1 0 -1.52 0M114.57 235.73a0.76 0.76 0 1 0 1.52 0a0.76 0.76 0 1 0 -1.52 0M126.05 235.73a0.76 0.76 0 1 0 1.52 0a0.76 0.76 0 1 0 -1.52 0M114.57 191.76a0.76 0.76 0 1 0 1.52 0a0.76 0.76 0 1 0 -1.52 0M126.05 191.76a0.76 0.76 0 1 0 1.52 0a0.76 0.76 0 1 0 -1.52 0M114.57 193.85a0.76 0.76 0 1 0 1.52 0a0.76 0.76 0 1 0 -1.52 0M126.05 193.85a0.76 0.76 0 1 0 1.52 0a0.76 0.76 0 1 0 -1.52 0M114.57 198.35a0.76 0.76 0 1 0 1.52 0a0.76 0.76 0 1 0 -1.52 0M126.05 198.35a0.76 0.76 0 1 0 1.52 0a0.76 0.76 0 1 0 -1.52 0M114.57 199.29a0.76 0.76 0 1 0 1.52 0a0.76 0.76 0 1 0 -1.52 0M126.05 199.29a0.76 0.76 0 1 0 1.52 0a0.76 0.76 0 1 0 -1.52 0M114.57 202.01a0.76 0.76 0 1 0 1.52 0a0.76 0.76 0 1 0 -1.52 0M126.05 202.01a0.76 0.76 0 1 0 1.52 0a0.76 0.76 0 1 0 -1.52 0M114.57 204.10a0.76 0.76 0 1 0 1.52 0a0.76 0.76 0 1 0 -1.52 0M126.05 204.10a0.76 0.76 0 1 0 1.52 0a0.76 0.76 0 1 0 -1.52 0M114.57 205.88a0.76 0.76 0 1 0 1.52 0a0.76 0.76 0 1 0 -1.52 0M126.05 205.88a0.76 0.76 0 1 0 1.52 0a0.76 0.76 0 1 0 -1.52 0M114.57 208.60a0.76 0.76 0 1 0 1.52 0a0.76 0.76 0 1 0 -1.52 0M126.05 208.60a0.76 0.76 0 1 0 1.52 0a0.76 0.76 0 1 0 -1.52 0M116.86 212.91a0.76 0.76 0 1 0 1.52 0a0.76 0.76 0 1 0 -1.52 0M123.75 212.91a0.76 0.76 0 1 0 1.52 0a0.76 0.76 0 1 0 -1.52 0M116.86 218.71a0.76 0.76 0 1 0 1.52 0a0.76 0.76 0 1 0 -1.52 0M123.75 218.71a0.76 0.76 0 1 0 1.52 0a0.76 0.76 0 1 0 -1.52 0M116.86 231.14a0.76 0.76 0 1 0 1.52 0a0.76 0.76 0 1 0 -1.52 0M123.75 231.14a0.76 0.76 0 1 0 1.52 0a0.76 0.76 0 1 0 -1.52 0M116.86 239.63a0.76 0.76 0 1 0 1.52 0a0.76 0.76 0 1 0 -1.52 0M123.75 239.63a0.76 0.76 0 1 0 1.52 0a0.76 0.76 0 1 0 -1.52 0M116.86 242.16a0.76 0.76 0 1 0 1.52 0a0.76 0.76 0 1 0 -1.52 0M123.75 242.16a0.76 0.76 0 1 0 1.52 0a0.76 0.76 0 1 0 -1.52 0M116.86 252.68a0.76 0.76 0 1 0 1.52 0a0.76 0.76 0 1 0 -1.52 0M123.75 252.68a0.76 0.76 0 1 0 1.52 0a0.76 0.76 0 1 0 -1.52 0M116.86 236.18a0.76 0.76 0 1 0 1.52 0a0.76 0.76 0 1 0 -1.52 0M123.75 236.18a0.76 0.76 0 1 0 1.52 0a0.76 0.76 0 1 0 -1.52 0M116.86 258.10a0.76 0.76 0 1 0 1.52 0a0.76 0.76 0 1 0 -1.52 0M123.75 258.10a0.76 0.76 0 1 0 1.52 0a0.76 0.76 0 1 0 -1.52 0M116.86 214.85a0.76 0.76 0 1 0 1.52 0a0.76 0.76 0 1 0 -1.52 0M123.75 214.85a0.76 0.76 0 1 0 1.52 0a0.76 0.76 0 1 0 -1.52 0M116.86 214.15a0.76 0.76 0 1 0 1.52 0a0.76 0.76 0 1 0 -1.52 0M123.75 214.15a0.76 0.76 0 1 0 1.52 0a0.76 0.76 0 1 0 -1.52 0M116.86 220.61a0.76 0.76 0 1 0 1.52 0a0.76 0.76 0 1 0 -1.52 0M123.75 220.61a0.76 0.76 0 1 0 1.52 0a0.76 0.76 0 1 0 -1.52 0M116.86 225.39a0.76 0.76 0 1 0 1.52 0a0.76 0.76 0 1 0 -1.52 0M123.75 225.39a0.76 0.76 0 1 0 1.52 0a0.76 0.76 0 1 0 -1.52 0M116.86 227.41a0.76 0.76 0 1 0 1.52 0a0.76 0.76 0 1 0 -1.52 0M123.75 227.41a0.76 0.76 0 1 0 1.52 0a0.76 0.76 0 1 0 -1.52 0M116.86 232.48a0.76 0.76 0 1 0 1.52 0a0.76 0.76 0 1 0 -1.52 0M123.75 232.48a0.76 0.76 0 1 0 1.52 0a0.76 0.76 0 1 0 -1.52 0M116.86 226.80a0.76 0.76 0 1 0 1.52 0a0.76 0.76 0 1 0 -1.52 0M123.75 226.80a0.76 0.76 0 1 0 1.52 0a0.76 0.76 0 1 0 -1.52 0M116.86 262.53a0.76 0.76 0 1 0 1.52 0a0.76 0.76 0 1 0 -1.52 0M123.75 262.53a0.76 0.76 0 1 0 1.52 0a0.76 0.76 0 1 0 -1.52 0M116.86 252.19a0.76 0.76 0 1 0 1.52 0a0.76 0.76 0 1 0 -1.52 0M123.75 252.19a0.76 0.76 0 1 0 1.52 0a0.76 0.76 0 1 0 -1.52 0M116.86 241.81a0.76 0.76 0 1 0 1.52 0a0.76 0.76 0 1 0 -1.52 0M123.75 241.81a0.76 0.76 0 1 0 1.52 0a0.76 0.76 0 1 0 -1.52 0M116.86 193.33a0.76 0.76 0 1 0 1.52 0a0.76 0.76 0 1 0 -1.52 0M123.75 193.33a0.76 0.76 0 1 0 1.52 0a0.76 0.76 0 1 0 -1.52 0M116.86 199.92a0.76 0.76 0 1 0 1.52 0a0.76 0.76 0 1 0 -1.52 0M123.75 199.92a0.76 0.76 0 1 0 1.52 0a0.76 0.76 0 1 0 -1.52 0M119.16 214.93a0.76 0.76 0 1 0 1.52 0a0.76 0.76 0 1 0 -1.52 0M121.45 214.93a0.76 0.76 0 1 0 1.52 0a0.76 0.76 0 1 0 -1.52 0M119.16 215.89a0.76 0.76 0 1 0 1.52 0a0.76 0.76 0 1 0 -1.52 0M121.45 215.89a0.76 0.76 0 1 0 1.52 0a0.76 0.76 0 1 0 -1.52 0M119.16 217.65a0.76 0.76 0 1 0 1.52 0a0.76 0.76 0 1 0 -1.52 0M121.45 217.65a0.76 0.76 0 1 0 1.52 0a0.76 0.76 0 1 0 -1.52 0M119.16 220.29a0.76 0.76 0 1 0 1.52 0a0.76 0.76 0 1 0 -1.52 0M121.45 220.29a0.76 0.76 0 1 0 1.52 0a0.76 0.76 0 1 0 -1.52 0M119.16 221.29a0.76 0.76 0 1 0 1.52 0a0.76 0.76 0 1 0 -1.52 0M121.45 221.29a0.76 0.76 0 1 0 1.52 0a0.76 0.76 0 1 0 -1.52 0M119.16 248.58a0.76 0.76 0 1 0 1.52 0a0.76 0.76 0 1 0 -1.52 0M121.45 248.58a0.76 0.76 0 1 0 1.52 0a0.76 0.76 0 1 0 -1.52 0M119.16 243.31a0.76 0.76 0 1 0 1.52 0a0.76 0.76 0 1 0 -1.52 0M121.45 243.31a0.76 0.76 0 1 0 1.52 0a0.76 0.76 0 1 0 -1.52 0M119.16 245.52a0.76 0.76 0 1 0 1.52 0a0.76 0.76 0 1 0 -1.52 0M121.45 245.52a0.76 0.76 0 1 0 1.52 0a0.76 0.76 0 1 0 -1.52 0M119.16 249.56a0.76 0.76 0 1 0 1.52 0a0.76 0.76 0 1 0 -1.52 0M121.45 249.56a0.76 0.76 0 1 0 1.52 0a0.76 0.76 0 1 0 -1.52 0M119.16 233.55a0.76 0.76 0 1 0 1.52 0a0.76 0.76 0 1 0 -1.52 0M121.45 233.55a0.76 0.76 0 1 0 1.52 0a0.76 0.76 0 1 0 -1.52 0M119.16 256.68a0.76 0.76 0 1 0 1.52 0a0.76 0.76 0 1 0 -1.52 0M121.45 256.68a0.76 0.76 0 1 0 1.52 0a0.76 0.76 0 1 0 -1.52 0M119.16 213.96a0.76 0.76 0 1 0 1.52 0a0.76 0.76 0 1 0 -1.52 0M121.45 213.96a0.76 0.76 0 1 0 1.52 0a0.76 0.76 0 1 0 -1.52 0M119.16 213.51a0.76 0.76 0 1 0 1.52 0a0.76 0.76 0 1 0 -1.52 0M121.45 213.51a0.76 0.76 0 1 0 1.52 0a0.76 0.76 0 1 0 -1.52 0M119.16 220.60a0.76 0.76 0 1 0 1.52 0a0.76 0.76 0 1 0 -1.52 0M121.45 220.60a0.76 0.76 0 1 0 1.52 0a0.76 0.76 0 1 0 -1.52 0M119.16 223.68a0.76 0.76 0 1 0 1.52 0a0.76 0.76 0 1 0 -1.52 0M121.45 223.68a0.76 0.76 0 1 0 1.52 0a0.76 0.76 0 1 0 -1.52 0M119.16 225.39a0.76 0.76 0 1 0 1.52 0a0.76 0.76 0 1 0 -1.52 0M121.45 225.39a0.76 0.76 0 1 0 1.52 0a0.76 0.76 0 1 0 -1.52 0M119.16 230.67a0.76 0.76 0 1 0 1.52 0a0.76 0.76 0 1 0 -1.52 0M121.45 230.67a0.76 0.76 0 1 0 1.52 0a0.76 0.76 0 1 0 -1.52 0M119.16 226.93a0.76 0.76 0 1 0 1.52 0a0.76 0.76 0 1 0 -1.52 0M121.45 226.93a0.76 0.76 0 1 0 1.52 0a0.76 0.76 0 1 0 -1.52 0M119.16 262.65a0.76 0.76 0 1 0 1.52 0a0.76 0.76 0 1 0 -1.52 0M121.45 262.65a0.76 0.76 0 1 0 1.52 0a0.76 0.76 0 1 0 -1.52 0M119.16 263.18a0.76 0.76 0 1 0 1.52 0a0.76 0.76 0 1 0 -1.52 0M121.45 263.18a0.76 0.76 0 1 0 1.52 0a0.76 0.76 0 1 0 -1.52 0M119.16 268.90a0.76 0.76 0 1 0 1.52 0a0.76 0.76 0 1 0 -1.52 0M121.45 268.90a0.76 0.76 0 1 0 1.52 0a0.76 0.76 0 1 0 -1.52 0M204.07 206.30a0.76 0.76 0 1 0 1.52 0a0.76 0.76 0 1 0 -1.52 0M204.07 270.73a0.76 0.76 0 1 0 1.52 0a0.76 0.76 0 1 0 -1.52 0M206.37 209.02a0.76 0.76 0 1 0 1.52 0a0.76 0.76 0 1 0 -1.52 0M206.37 268.01a0.76 0.76 0 1 0 1.52 0a0.76 0.76 0 1 0 -1.52 0M208.67 230.15a0.76 0.76 0 1 0 1.52 0a0.76 0.76 0 1 0 -1.52 0M208.67 264.77a0.76 0.76 0 1 0 1.52 0a0.76 0.76 0 1 0 -1.52 0M210.96 238.31a0.76 0.76 0 1 0 1.52 0a0.76 0.76 0 1 0 -1.52 0M210.96 261.22a0.76 0.76 0 1 0 1.52 0a0.76 0.76 0 1 0 -1.52 0M213.25 244.58a0.76 0.76 0 1 0 1.52 0a0.76 0.76 0 1 0 -1.52 0M213.25 256.40a0.76 0.76 0 1 0 1.52 0a0.76 0.76 0 1 0 -1.52 0M215.55 250.34a0.76 0.76 0 1 0 1.52 0a0.76 0.76 0 1 0 -1.52 0M215.55 257.14a0.76 0.76 0 1 0 1.52 0a0.76 0.76 0 1 0 -1.52 0M217.85 256.19a0.76 0.76 0 1 0 1.52 0a0.76 0.76 0 1 0 -1.52 0M217.85 265.30a0.76 0.76 0 1 0 1.52 0a0.76 0.76 0 1 0 -1.52 0M220.14 258.50a0.76 0.76 0 1 0 1.52 0a0.76 0.76 0 1 0 -1.52 0M220.14 260.59a0.76 0.76 0 1 0 1.52 0a0.76 0.76 0 1 0 -1.52 0M222.44 261.63a0.76 0.76 0 1 0 1.52 0a0.76 0.76 0 1 0 -1.52 0M222.44 263.73a0.76 0.76 0 1 0 1.52 0a0.76 0.76 0 1 0 -1.52 0M224.73 264.35a0.76 0.76 0 1 0 1.52 0a0.76 0.76 0 1 0 -1.52 0M224.73 265.82a0.76 0.76 0 1 0 1.52 0a0.76 0.76 0 1 0 -1.52 0M227.02 263.20a0.76 0.76 0 1 0 1.52 0a0.76 0.76 0 1 0 -1.52 0M227.02 266.86a0.76 0.76 0 1 0 1.52 0a0.76 0.76 0 1 0 -1.52 0M229.32 263.52a0.76 0.76 0 1 0 1.52 0a0.76 0.76 0 1 0 -1.52 0M229.32 265.82a0.76 0.76 0 1 0 1.52 0a0.76 0.76 0 1 0 -1.52 0M231.62 258.50a0.76 0.76 0 1 0 1.52 0a0.76 0.76 0 1 0 -1.52 0M231.62 254.31a0.76 0.76 0 1 0 1.52 0a0.76 0.76 0 1 0 -1.52 0M206.37 220.21a0.76 0.76 0 1 0 1.52 0a0.76 0.76 0 1 0 -1.52 0M210.96 246.26a0.76 0.76 0 1 0 1.52 0a0.76 0.76 0 1 0 -1.52 0M213.25 257.97a0.76 0.76 0 1 0 1.52 0a0.76 0.76 0 1 0 -1.52 0M215.55 262.68a0.76 0.76 0 1 0 1.52 0a0.76 0.76 0 1 0 -1.52 0M217.85 261.11a0.76 0.76 0 1 0 1.52 0a0.76 0.76 0 1 0 -1.52 0M220.14 263.94a0.76 0.76 0 1 0 1.52 0a0.76 0.76 0 1 0 -1.52 0M222.44 266.86a0.76 0.76 0 1 0 1.52 0a0.76 0.76 0 1 0 -1.52 0M224.73 267.91a0.76 0.76 0 1 0 1.52 0a0.76 0.76 0 1 0 -1.52 0M227.02 270.00a0.76 0.76 0 1 0 1.52 0a0.76 0.76 0 1 0 -1.52 0M229.32 268.96a0.76 0.76 0 1 0 1.52 0a0.76 0.76 0 1 0 -1.52 0M204.07 277.40a0.76 0.76 0 1 0 1.52 0a0.76 0.76 0 1 0 -1.52 0M204.07 280.46a0.76 0.76 0 1 0 1.52 0a0.76 0.76 0 1 0 -1.52 0M204.07 283.39a0.76 0.76 0 1 0 1.52 0a0.76 0.76 0 1 0 -1.52 0M206.37 277.53a0.76 0.76 0 1 0 1.52 0a0.76 0.76 0 1 0 -1.52 0M206.37 280.08a0.76 0.76 0 1 0 1.52 0a0.76 0.76 0 1 0 -1.52 0M206.37 283.39a0.76 0.76 0 1 0 1.52 0a0.76 0.76 0 1 0 -1.52 0M208.67 277.28a0.76 0.76 0 1 0 1.52 0a0.76 0.76 0 1 0 -1.52 0M208.67 279.76a0.76 0.76 0 1 0 1.52 0a0.76 0.76 0 1 0 -1.52 0M208.67 283.39a0.76 0.76 0 1 0 1.52 0a0.76 0.76 0 1 0 -1.52 0M210.96 276.88a0.76 0.76 0 1 0 1.52 0a0.76 0.76 0 1 0 -1.52 0M210.96 279.80a0.76 0.76 0 1 0 1.52 0a0.76 0.76 0 1 0 -1.52 0M210.96 283.39a0.76 0.76 0 1 0 1.52 0a0.76 0.76 0 1 0 -1.52 0M213.25 276.70a0.76 0.76 0 1 0 1.52 0a0.76 0.76 0 1 0 -1.52 0M213.25 280.16a0.76 0.76 0 1 0 1.52 0a0.76 0.76 0 1 0 -1.52 0M213.25 283.39a0.76 0.76 0 1 0 1.52 0a0.76 0.76 0 1 0 -1.52 0M215.55 276.90a0.76 0.76 0 1 0 1.52 0a0.76 0.76 0 1 0 -1.52 0M215.55 280.51a0.76 0.76 0 1 0 1.52 0a0.76 0.76 0 1 0 -1.52 0M215.55 283.39a0.76 0.76 0 1 0 1.52 0a0.76 0.76 0 1 0 -1.52 0M217.85 277.30a0.76 0.76 0 1 0 1.52 0a0.76 0.76 0 1 0 -1.52 0M217.85 280.52a0.76 0.76 0 1 0 1.52 0a0.76 0.76 0 1 0 -1.52 0M217.85 283.39a0.76 0.76 0 1 0 1.52 0a0.76 0.76 0 1 0 -1.52 0M220.14 277.53a0.76 0.76 0 1 0 1.52 0a0.76 0.76 0 1 0 -1.52 0M220.14 280.19a0.76 0.76 0 1 0 1.52 0a0.76 0.76 0 1 0 -1.52 0M220.14 283.39a0.76 0.76 0 1 0 1.52 0a0.76 0.76 0 1 0 -1.52 0M222.44 277.38a0.76 0.76 0 1 0 1.52 0a0.76 0.76 0 1 0 -1.52 0M222.44 279.82a0.76 0.76 0 1 0 1.52 0a0.76 0.76 0 1 0 -1.52 0M222.44 283.39a0.76 0.76 0 1 0 1.52 0a0.76 0.76 0 1 0 -1.52 0M224.73 276.98a0.76 0.76 0 1 0 1.52 0a0.76 0.76 0 1 0 -1.52 0M224.73 279.75a0.76 0.76 0 1 0 1.52 0a0.76 0.76 0 1 0 -1.52 0M224.73 283.39a0.76 0.76 0 1 0 1.52 0a0.76 0.76 0 1 0 -1.52 0M227.02 276.71a0.76 0.76 0 1 0 1.52 0a0.76 0.76 0 1 0 -1.52 0M227.02 280.04a0.76 0.76 0 1 0 1.52 0a0.76 0.76 0 1 0 -1.52 0M227.02 283.39a0.76 0.76 0 1 0 1.52 0a0.76 0.76 0 1 0 -1.52 0M229.32 276.81a0.76 0.76 0 1 0 1.52 0a0.76 0.76 0 1 0 -1.52 0M229.32 280.43a0.76 0.76 0 1 0 1.52 0a0.76 0.76 0 1 0 -1.52 0M229.32 283.39a0.76 0.76 0 1 0 1.52 0a0.76 0.76 0 1 0 -1.52 0M229.32 263.02a0.76 0.76 0 1 0 1.52 0a0.76 0.76 0 1 0 -1.52 0M229.32 265.34a0.76 0.76 0 1 0 1.52 0a0.76 0.76 0 1 0 -1.52 0M229.32 266.89a0.76 0.76 0 1 0 1.52 0a0.76 0.76 0 1 0 -1.52 0M229.32 269.81a0.76 0.76 0 1 0 1.52 0a0.76 0.76 0 1 0 -1.52 0M229.32 271.37a0.76 0.76 0 1 0 1.52 0a0.76 0.76 0 1 0 -1.52 0M229.32 272.04a0.76 0.76 0 1 0 1.52 0a0.76 0.76 0 1 0 -1.52 0M229.32 275.50a0.76 0.76 0 1 0 1.52 0a0.76 0.76 0 1 0 -1.52 0M229.32 277.57a0.76 0.76 0 1 0 1.52 0a0.76 0.76 0 1 0 -1.52 0M229.32 280.54a0.76 0.76 0 1 0 1.52 0a0.76 0.76 0 1 0 -1.52 0M229.32 282.56a0.76 0.76 0 1 0 1.52 0a0.76 0.76 0 1 0 -1.52 0M231.62 262.98a0.76 0.76 0 1 0 1.52 0a0.76 0.76 0 1 0 -1.52 0M231.62 265.92a0.76 0.76 0 1 0 1.52 0a0.76 0.76 0 1 0 -1.52 0M231.62 267.17a0.76 0.76 0 1 0 1.52 0a0.76 0.76 0 1 0 -1.52 0M231.62 269.27a0.76 0.76 0 1 0 1.52 0a0.76 0.76 0 1 0 -1.52 0M231.62 270.51a0.76 0.76 0 1 0 1.52 0a0.76 0.76 0 1 0 -1.52 0M231.62 272.96a0.76 0.76 0 1 0 1.52 0a0.76 0.76 0 1 0 -1.52 0M231.62 276.34a0.76 0.76 0 1 0 1.52 0a0.76 0.76 0 1 0 -1.52 0M231.62 277.53a0.76 0.76 0 1 0 1.52 0a0.76 0.76 0 1 0 -1.52 0M231.62 280.04a0.76 0.76 0 1 0 1.52 0a0.76 0.76 0 1 0 -1.52 0M231.62 282.32a0.76 0.76 0 1 0 1.52 0a0.76 0.76 0 1 0 -1.52 0M233.91 255.19a0.76 0.76 0 1 0 1.52 0a0.76 0.76 0 1 0 -1.52 0M236.20 267.49a0.76 0.76 0 1 0 1.52 0a0.76 0.76 0 1 0 -1.52 0M238.50 271.01a0.76 0.76 0 1 0 1.52 0a0.76 0.76 0 1 0 -1.52 0M240.80 274.81a0.76 0.76 0 1 0 1.52 0a0.76 0.76 0 1 0 -1.52 0M243.09 274.81a0.76 0.76 0 1 0 1.52 0a0.76 0.76 0 1 0 -1.52 0M245.38 271.01a0.76 0.76 0 1 0 1.52 0a0.76 0.76 0 1 0 -1.52 0M247.68 267.49a0.76 0.76 0 1 0 1.52 0a0.76 0.76 0 1 0 -1.52 0M249.98 254.31a0.76 0.76 0 1 0 1.52 0a0.76 0.76 0 1 0 -1.52 0M233.91 264.32a0.76 0.76 0 1 0 1.52 0a0.76 0.76 0 1 0 -1.52 0M236.20 272.67a0.76 0.76 0 1 0 1.52 0a0.76 0.76 0 1 0 -1.52 0M238.50 275.05a0.76 0.76 0 1 0 1.52 0a0.76 0.76 0 1 0 -1.52 0M240.80 277.64a0.76 0.76 0 1 0 1.52 0a0.76 0.76 0 1 0 -1.52 0M243.09 277.64a0.76 0.76 0 1 0 1.52 0a0.76 0.76 0 1 0 -1.52 0M245.38 275.05a0.76 0.76 0 1 0 1.52 0a0.76 0.76 0 1 0 -1.52 0M247.68 272.67a0.76 0.76 0 1 0 1.52 0a0.76 0.76 0 1 0 -1.52 0M249.98 263.73a0.76 0.76 0 1 0 1.52 0a0.76 0.76 0 1 0 -1.52 0M233.91 266.86a0.76 0.76 0 1 0 1.52 0a0.76 0.76 0 1 0 -1.52 0M236.20 274.11a0.76 0.76 0 1 0 1.52 0a0.76 0.76 0 1 0 -1.52 0M238.50 276.18a0.76 0.76 0 1 0 1.52 0a0.76 0.76 0 1 0 -1.52 0M240.80 278.42a0.76 0.76 0 1 0 1.52 0a0.76 0.76 0 1 0 -1.52 0M243.09 278.42a0.76 0.76 0 1 0 1.52 0a0.76 0.76 0 1 0 -1.52 0M245.38 276.18a0.76 0.76 0 1 0 1.52 0a0.76 0.76 0 1 0 -1.52 0M247.68 274.11a0.76 0.76 0 1 0 1.52 0a0.76 0.76 0 1 0 -1.52 0M249.98 266.34a0.76 0.76 0 1 0 1.52 0a0.76 0.76 0 1 0 -1.52 0M233.91 270.41a0.76 0.76 0 1 0 1.52 0a0.76 0.76 0 1 0 -1.52 0M236.20 276.12a0.76 0.76 0 1 0 1.52 0a0.76 0.76 0 1 0 -1.52 0M238.50 277.75a0.76 0.76 0 1 0 1.52 0a0.76 0.76 0 1 0 -1.52 0M240.80 279.52a0.76 0.76 0 1 0 1.52 0a0.76 0.76 0 1 0 -1.52 0M243.09 279.52a0.76 0.76 0 1 0 1.52 0a0.76 0.76 0 1 0 -1.52 0M245.38 277.75a0.76 0.76 0 1 0 1.52 0a0.76 0.76 0 1 0 -1.52 0M247.68 276.12a0.76 0.76 0 1 0 1.52 0a0.76 0.76 0 1 0 -1.52 0M249.98 270.00a0.76 0.76 0 1 0 1.52 0a0.76 0.76 0 1 0 -1.52 0M233.91 279.03a0.76 0.76 0 1 0 1.52 0a0.76 0.76 0 1 0 -1.52 0M236.20 281.01a0.76 0.76 0 1 0 1.52 0a0.76 0.76 0 1 0 -1.52 0M238.50 281.58a0.76 0.76 0 1 0 1.52 0a0.76 0.76 0 1 0 -1.52 0M240.80 282.19a0.76 0.76 0 1 0 1.52 0a0.76 0.76 0 1 0 -1.52 0M243.09 282.19a0.76 0.76 0 1 0 1.52 0a0.76 0.76 0 1 0 -1.52 0M245.38 281.58a0.76 0.76 0 1 0 1.52 0a0.76 0.76 0 1 0 -1.52 0M247.68 281.01a0.76 0.76 0 1 0 1.52 0a0.76 0.76 0 1 0 -1.52 0M249.98 278.89a0.76 0.76 0 1 0 1.52 0a0.76 0.76 0 1 0 -1.52 0M233.91 281.51a0.76 0.76 0 1 0 1.52 0a0.76 0.76 0 1 0 -1.52 0M233.91 282.24a0.76 0.76 0 1 0 1.52 0a0.76 0.76 0 1 0 -1.52 0M233.91 282.24a0.76 0.76 0 1 0 1.52 0a0.76 0.76 0 1 0 -1.52 0M233.91 282.97a0.76 0.76 0 1 0 1.52 0a0.76 0.76 0 1 0 -1.52 0M236.20 281.51a0.76 0.76 0 1 0 1.52 0a0.76 0.76 0 1 0 -1.52 0M236.20 282.24a0.76 0.76 0 1 0 1.52 0a0.76 0.76 0 1 0 -1.52 0M236.20 282.24a0.76 0.76 0 1 0 1.52 0a0.76 0.76 0 1 0 -1.52 0M236.20 282.97a0.76 0.76 0 1 0 1.52 0a0.76 0.76 0 1 0 -1.52 0M238.50 281.51a0.76 0.76 0 1 0 1.52 0a0.76 0.76 0 1 0 -1.52 0M238.50 282.24a0.76 0.76 0 1 0 1.52 0a0.76 0.76 0 1 0 -1.52 0M238.50 282.24a0.76 0.76 0 1 0 1.52 0a0.76 0.76 0 1 0 -1.52 0M238.50 282.97a0.76 0.76 0 1 0 1.52 0a0.76 0.76 0 1 0 -1.52 0M240.80 281.51a0.76 0.76 0 1 0 1.52 0a0.76 0.76 0 1 0 -1.52 0M240.80 282.24a0.76 0.76 0 1 0 1.52 0a0.76 0.76 0 1 0 -1.52 0M240.80 282.24a0.76 0.76 0 1 0 1.52 0a0.76 0.76 0 1 0 -1.52 0M240.80 282.97a0.76 0.76 0 1 0 1.52 0a0.76 0.76 0 1 0 -1.52 0M243.09 281.51a0.76 0.76 0 1 0 1.52 0a0.76 0.76 0 1 0 -1.52 0M243.09 282.24a0.76 0.76 0 1 0 1.52 0a0.76 0.76 0 1 0 -1.52 0M243.09 282.24a0.76 0.76 0 1 0 1.52 0a0.76 0.76 0 1 0 -1.52 0M243.09 282.97a0.76 0.76 0 1 0 1.52 0a0.76 0.76 0 1 0 -1.52 0M245.38 281.51a0.76 0.76 0 1 0 1.52 0a0.76 0.76 0 1 0 -1.52 0M245.38 282.24a0.76 0.76 0 1 0 1.52 0a0.76 0.76 0 1 0 -1.52 0M245.38 282.24a0.76 0.76 0 1 0 1.52 0a0.76 0.76 0 1 0 -1.52 0M245.38 282.97a0.76 0.76 0 1 0 1.52 0a0.76 0.76 0 1 0 -1.52 0M247.68 281.51a0.76 0.76 0 1 0 1.52 0a0.76 0.76 0 1 0 -1.52 0M247.68 282.24a0.76 0.76 0 1 0 1.52 0a0.76 0.76 0 1 0 -1.52 0M247.68 282.24a0.76 0.76 0 1 0 1.52 0a0.76 0.76 0 1 0 -1.52 0M247.68 282.97a0.76 0.76 0 1 0 1.52 0a0.76 0.76 0 1 0 -1.52 0M249.98 281.51a0.76 0.76 0 1 0 1.52 0a0.76 0.76 0 1 0 -1.52 0M249.98 282.24a0.76 0.76 0 1 0 1.52 0a0.76 0.76 0 1 0 -1.52 0M249.98 282.24a0.76 0.76 0 1 0 1.52 0a0.76 0.76 0 1 0 -1.52 0M249.98 282.97a0.76 0.76 0 1 0 1.52 0a0.76 0.76 0 1 0 -1.52 0M188.01 283.50a0.76 0.76 0 1 0 1.52 0a0.76 0.76 0 1 0 -1.52 0M190.31 283.50a0.76 0.76 0 1 0 1.52 0a0.76 0.76 0 1 0 -1.52 0M192.60 283.50a0.76 0.76 0 1 0 1.52 0a0.76 0.76 0 1 0 -1.52 0M194.89 283.50a0.76 0.76 0 1 0 1.52 0a0.76 0.76 0 1 0 -1.52 0M197.19 283.50a0.76 0.76 0 1 0 1.52 0a0.76 0.76 0 1 0 -1.52 0M199.49 283.50a0.76 0.76 0 1 0 1.52 0a0.76 0.76 0 1 0 -1.52 0M201.78 283.50a0.76 0.76 0 1 0 1.52 0a0.76 0.76 0 1 0 -1.52 0" fill="#2222ff" fill-opacity="0.5"/>
<path d="M64.08 179.84a0.76 0.76 0 1 0 1.52 0a0.76 0.76 0 1 0 -1.52 0M176.54 179.84a0.76 0.76 0 1 0 1.52 0a0.76 0.76 0 1 0 -1.52 0M64.08 181.09a0.76 0.76 0 1 0 1.52 0a0.76 0.76 0 1 0 -1.52 0M176.54 181.09a0.76 0.76 0 1 0 1.52 0a0.76 0.76 0 1 0 -1.52 0M64.08 183.92a0.76 0.76 0 1 0 1.52 0a0.76 0.76 0 1 0 -1.52 0M176.54 183.92a0.76 0.76 0 1 0 1.52 0a0.76 0.76 0 1 0 -1.52 0M64.08 185.28a0.76 0.76 0 1 0 1.52 0a0.76 0.76 0 1 0 -1.52 0M176.54 185.28a0.76 0.76 0 1 0 1.52 0a0.76 0.76 0 1 0 -1.52 0M66.37 189.25a0.76 0.76 0 1 0 1.52 0a0.76 0.76 0 1 0 -1.52 0M174.24 189.25a0.76 0.76 0 1 0 1.52 0a0.76 0.76 0 1 0 -1.52 0M68.67 179.52a0.76 0.76 0 1 0 1.52 0a0.76 0.76 0 1 0 -1.52 0M171.94 179.52a0.76 0.76 0 1 0 1.52 0a0.76 0.76 0 1 0 -1.52 0M68.67 181.09a0.76 0.76 0 1 0 1.52 0a0.76 0.76 0 1 0 -1.52 0M171.94 181.09a0.76 0.76 0 1 0 1.52 0a0.76 0.76 0 1 0 -1.52 0M68.67 181.93a0.76 0.76 0 1 0 1.52 0a0.76 0.76 0 1 0 -1.52 0M171.94 181.93a0.76 0.76 0 1 0 1.52 0a0.76 0.76 0 1 0 -1.52 0M70.96 179.52a0.76 0.76 0 1 0 1.52 0a0.76 0.76 0 1 0 -1.52 0M169.65 179.52a0.76 0.76 0 1 0 1.52 0a0.76 0.76 0 1 0 -1.52 0M70.96 181.09a0.76 0.76 0 1 0 1.52 0a0.76 0.76 0 1 0 -1.52 0M169.65 181.09a0.76 0.76 0 1 0 1.52 0a0.76 0.76 0 1 0 -1.52 0M70.96 183.18a0.76 0.76 0 1 0 1.52 0a0.76 0.76 0 1 0 -1.52 0M169.65 183.18a0.76 0.76 0 1 0 1.52 0a0.76 0.76 0 1 0 -1.52 0M70.96 188.41a0.76 0.76 0 1 0 1.52 0a0.76 0.76 0 1 0 -1.52 0M169.65 188.41a0.76 0.76 0 1 0 1.52 0a0.76 0.76 0 1 0 -1.52 0M73.26 180.26a0.76 0.76 0 1 0 1.52 0a0.76 0.76 0 1 0 -1.52 0M167.36 180.26a0.76 0.76 0 1 0 1.52 0a0.76 0.76 0 1 0 -1.52 0M73.26 183.18a0.76 0.76 0 1 0 1.52 0a0.76 0.76 0 1 0 -1.52 0M167.36 183.18a0.76 0.76 0 1 0 1.52 0a0.76 0.76 0 1 0 -1.52 0M73.26 184.23a0.76 0.76 0 1 0 1.52 0a0.76 0.76 0 1 0 -1.52 0M167.36 184.23a0.76 0.76 0 1 0 1.52 0a0.76 0.76 0 1 0 -1.52 0M73.26 188.20a0.76 0.76 0 1 0 1.52 0a0.76 0.76 0 1 0 -1.52 0M167.36 188.20a0.76 0.76 0 1 0 1.52 0a0.76 0.76 0 1 0 -1.52 0M75.55 180.05a0.76 0.76 0 1 0 1.52 0a0.76 0.76 0 1 0 -1.52 0M165.06 180.05a0.76 0.76 0 1 0 1.52 0a0.76 0.76 0 1 0 -1.52 0M75.55 183.18a0.76 0.76 0 1 0 1.52 0a0.76 0.76 0 1 0 -1.52 0M165.06 183.18a0.76 0.76 0 1 0 1.52 0a0.76 0.76 0 1 0 -1.52 0M75.55 188.94a0.76 0.76 0 1 0 1.52 0a0.76 0.76 0 1 0 -1.52 0M165.06 188.94a0.76 0.76 0 1 0 1.52 0a0.76 0.76 0 1 0 -1.52 0M77.85 180.05a0.76 0.76 0 1 0 1.52 0a0.76 0.76 0 1 0 -1.52 0M162.77 180.05a0.76 0.76 0 1 0 1.52 0a0.76 0.76 0 1 0 -1.52 0M77.85 183.92a0.76 0.76 0 1 0 1.52 0a0.76 0.76 0 1 0 -1.52 0M162.77 183.92a0.76 0.76 0 1 0 1.52 0a0.76 0.76 0 1 0 -1.52 0M80.14 180.26a0.76 0.76 0 1 0 1.52 0a0.76 0.76 0 1 0 -1.52 0M160.47 180.26a0.76 0.76 0 1 0 1.52 0a0.76 0.76 0 1 0 -1.52 0M80.14 184.65a0.76 0.76 0 1 0 1.52 0a0.76 0.76 0 1 0 -1.52 0M160.47 184.65a0.76 0.76 0 1 0 1.52 0a0.76 0.76 0 1 0 -1.52 0M82.44 181.93a0.76 0.76 0 1 0 1.52 0a0.76 0.76 0 1 0 -1.52 0M158.18 181.93a0.76 0.76 0 1 0 1.52 0a0.76 0.76 0 1 0 -1.52 0M82.44 186.84a0.76 0.76 0 1 0 1.52 0a0.76 0.76 0 1 0 -1.52 0M158.18 186.84a0.76 0.76 0 1 0 1.52 0a0.76 0.76 0 1 0 -1.52 0M82.44 187.58a0.76 0.76 0 1 0 1.52 0a0.76 0.76 0 1 0 -1.52 0M158.18 187.58a0.76 0.76 0 1 0 1.52 0a0.76 0.76 0 1 0 -1.52 0M84.73 184.23a0.76 0.76 0 1 0 1.52 0a0.76 0.76 0 1 0 -1.52 0M155.88 184.23a0.76 0.76 0 1 0 1.52 0a0.76 0.76 0 1 0 -1.52 0M84.73 186.32a0.76 0.76 0 1 0 1.52 0a0.76 0.76 0 1 0 -1.52 0M155.88 186.32a0.76 0.76 0 1 0 1.52 0a0.76 0.76 0 1 0 -1.52 0M84.73 189.15a0.76 0.76 0 1 0 1.52 0a0.76 0.76 0 1 0 -1.52 0M155.88 189.15a0.76 0.76 0 1 0 1.52 0a0.76 0.76 0 1 0 -1.52 0M87.03 186.32a0.76 0.76 0 1 0 1.52 0a0.76 0.76 0 1 0 -1.52 0M153.59 186.32a0.76 0.76 0 1 0 1.52 0a0.76 0.76 0 1 0 -1.52 0M87.03 187.37a0.76 0.76 0 1 0 1.52 0a0.76 0.76 0 1 0 -1.52 0M153.59 187.37a0.76 0.76 0 1 0 1.52 0a0.76 0.76 0 1 0 -1.52 0M89.33 187.16a0.76 0.76 0 1 0 1.52 0a0.76 0.76 0 1 0 -1.52 0M151.29 187.16a0.76 0.76 0 1 0 1.52 0a0.76 0.76 0 1 0 -1.52 0M91.62 189.25a0.76 0.76 0 1 0 1.52 0a0.76 0.76 0 1 0 -1.52 0M149.00 189.25a0.76 0.76 0 1 0 1.52 0a0.76 0.76 0 1 0 -1.52 0M103.09 179.10a0.76 0.76 0 1 0 1.52 0a0.76 0.76 0 1 0 -1.52 0M137.52 179.10a0.76 0.76 0 1 0 1.52 0a0.76 0.76 0 1 0 -1.52 0M103.09 179.10a0.76 0.76 0 1 0 1.52 0a0.76 0.76 0 1 0 -1.52 0M137.52 179.10a0.76 0.76 0 1 0 1.52 0a0.76 0.76 0 1 0 -1.52 0M103.09 179.10a0.76 0.76 0 1 0 1.52 0a0.76 0.76 0 1 0 -1.52 0M137.52 179.10a0.76 0.76 0 1 0 1.52 0a0.76 0.76 0 1 0 -1.52 0M103.09 183.18a0.76 0.76 0 1 0 1.52 0a0.76 0.76 0 1 0 -1.52 0M137.52 183.18a0.76 0.76 0 1 0 1.52 0a0.76 0.76 0 1 0 -1.52 0M103.09 183.18a0.76 0.76 0 1 0 1.52 0a0.76 0.76 0 1 0 -1.52 0M137.52 183.18a0.76 0.76 0 1 0 1.52 0a0.76 0.76 0 1 0 -1.52 0M116.86 179.10a0.76 0.76 0 1 0 1.52 0a0.76 0.76 0 1 0 -1.52 0M123.75 179.10a0.76 0.76 0 1 0 1.52 0a0.76 0.76 0 1 0 -1.52 0M116.86 179.10a0.76 0.76 0 1 0 1.52 0a0.76 0.76 0 1 0 -1.52 0M123.75 179.10a0.76 0.76 0 1 0 1.52 0a0.76 0.76 0 1 0 -1.52 0M116.86 179.10a0.76 0.76 0 1 0 1.52 0a0.76 0.76 0 1 0 -1.52 0M123.75 179.10a0.76 0.76 0 1 0 1.52 0a0.76 0.76 0 1 0 -1.52 0M116.86 179.10a0.76 0.76 0 1 0 1.52 0a0.76 0.76 0 1 0 -1.52 0M123.75 179.10a0.76 0.76 0 1 0 1.52 0a0.76 0.76 0 1 0 -1.52 0M116.86 179.10a0.76 0.76 0 1 0 1.52 0a0.76 0.76 0 1 0 -1.52 0M123.75 179.10a0.76 0.76 0 1 0 1.52 0a0.76 0.76 0 1 0 -1.52 0M116.86 179.10a0.76 0.76 0 1 0 1.52 0a0.76 0.76 0 1 0 -1.52 0M123.75 179.10a0.76 0.76 0 1 0 1.52 0a0.76 0.76 0 1 0 -1.52 0" fill="#ff3030" fill-opacity="0.5"/>
<g font-family='"Liberation Serif", "Times New Roman", serif' font-size="12.1" fill="#000">
<text x="33.70" y="133.50" text-anchor="middle">0</text>
<text x="72.00" y="133.50" text-anchor="middle">6</text>
<text x="110.30" y="133.50" text-anchor="middle">12</text>
<text x="148.60" y="133.50" text-anchor="middle">18</text>
<text x="186.90" y="133.50" text-anchor="middle">24</text>
<text x="225.20" y="133.50" text-anchor="middle">30</text>
<text x="263.50" y="133.50" text-anchor="middle">36</text>
<text x="30.90" y="123.70" text-anchor="end">0</text>
<text x="30.90" y="112.60" text-anchor="end">0.1</text>
<text x="30.90" y="101.50" text-anchor="end">0.2</text>
<text x="30.90" y="90.40" text-anchor="end">0.3</text>
<text x="30.90" y="79.30" text-anchor="end">0.4</text>
<text x="30.90" y="68.20" text-anchor="end">0.5</text>
<text x="30.90" y="57.10" text-anchor="end">0.6</text>
<text x="30.90" y="46.00" text-anchor="end">0.7</text>
<text x="30.90" y="34.90" text-anchor="end">0.8</text>
<text x="30.90" y="23.80" text-anchor="end">0.9</text>
<text x="30.90" y="12.70" text-anchor="end">1</text>
</g>
<text x="156.30" y="143.50" text-anchor="middle" font-family='"Liberation Serif", "Times New Roman", serif' font-size="13.5" fill="#000">Element number of pier</text>
<text transform="translate(12.30 63.80) rotate(-90)" text-anchor="middle" font-family='"Liberation Serif", "Times New Roman", serif' font-size="13.5" fill="#000"><tspan font-style="italic" font-size="14.8">S</tspan></text>
<g font-family='"Liberation Serif", "Times New Roman", serif' font-size="12.1" fill="#000">
<text x="311.30" y="132.10" text-anchor="middle">0</text>
<text x="349.58" y="132.10" text-anchor="middle">6</text>
<text x="387.87" y="132.10" text-anchor="middle">12</text>
<text x="426.15" y="132.10" text-anchor="middle">18</text>
<text x="464.43" y="132.10" text-anchor="middle">24</text>
<text x="502.72" y="132.10" text-anchor="middle">30</text>
<text x="541.00" y="132.10" text-anchor="middle">36</text>
<text x="308.50" y="121.60" text-anchor="end">0</text>
<text x="308.50" y="95.93" text-anchor="end">5</text>
<text x="308.50" y="70.25" text-anchor="end">10</text>
<text x="308.50" y="44.58" text-anchor="end">15</text>
<text x="308.50" y="18.90" text-anchor="end">20</text>
</g>
<text x="425.75" y="145.20" text-anchor="middle" font-family='"Liberation Serif", "Times New Roman", serif' font-size="13.5" fill="#000">Element number of pier</text>
<text transform="translate(292.20 66.55) rotate(-90)" text-anchor="middle" font-family='"Liberation Serif", "Times New Roman", serif' font-size="13.5" fill="#000">Number (<tspan font-style="italic">S</tspan>&gt;=0.9)</text>
<g font-family='"Liberation Serif", "Times New Roman", serif' font-size="12.1" fill="#000">
<text x="37.30" y="297.80" text-anchor="middle">0</text>
<text x="64.84" y="297.80" text-anchor="middle">12</text>
<text x="106.15" y="297.80" text-anchor="middle">30</text>
<text x="119.92" y="297.80" text-anchor="middle">36</text>
<text x="133.69" y="297.80" text-anchor="middle">42</text>
<text x="172.70" y="297.80" text-anchor="middle">59</text>
<text x="202.54" y="297.80" text-anchor="middle">72</text>
<text x="232.38" y="297.80" text-anchor="middle">85</text>
<text x="250.74" y="297.80" text-anchor="middle">93</text>
<text x="34.50" y="287.50" text-anchor="end">0</text>
<text x="34.50" y="277.04" text-anchor="end">0.1</text>
<text x="34.50" y="266.58" text-anchor="end">0.2</text>
<text x="34.50" y="256.12" text-anchor="end">0.3</text>
<text x="34.50" y="245.66" text-anchor="end">0.4</text>
<text x="34.50" y="235.20" text-anchor="end">0.5</text>
<text x="34.50" y="224.74" text-anchor="end">0.6</text>
<text x="34.50" y="214.28" text-anchor="end">0.7</text>
<text x="34.50" y="203.82" text-anchor="end">0.8</text>
<text x="34.50" y="193.36" text-anchor="end">0.9</text>
<text x="34.50" y="182.90" text-anchor="end">1</text>
</g>
<text x="151.25" y="310.60" text-anchor="middle" font-family='"Liberation Serif", "Times New Roman", serif' font-size="13.5" fill="#000">Element number of bridge tower</text>
<text transform="translate(16.10 231.30) rotate(-90)" text-anchor="middle" font-family='"Liberation Serif", "Times New Roman", serif' font-size="13.5" fill="#000"><tspan font-style="italic" font-size="14.8">S</tspan></text>
<g font-family='"Liberation Serif", "Times New Roman", serif' font-size="12.1" fill="#000">
<text x="308.50" y="296.30" text-anchor="middle">0</text>
<text x="338.14" y="296.30" text-anchor="middle">12</text>
<text x="382.60" y="296.30" text-anchor="middle">30</text>
<text x="397.42" y="296.30" text-anchor="middle">36</text>
<text x="412.24" y="296.30" text-anchor="middle">42</text>
<text x="454.22" y="296.30" text-anchor="middle">59</text>
<text x="486.33" y="296.30" text-anchor="middle">72</text>
<text x="518.44" y="296.30" text-anchor="middle">85</text>
<text x="538.20" y="296.30" text-anchor="middle">93</text>
<text x="305.70" y="286.60" text-anchor="end">0</text>
<text x="305.70" y="252.13" text-anchor="end">4</text>
<text x="305.70" y="217.67" text-anchor="end">8</text>
<text x="305.70" y="183.20" text-anchor="end">12</text>
</g>
<text x="422.75" y="311.30" text-anchor="middle" font-family='"Liberation Serif", "Times New Roman", serif' font-size="13.5" fill="#000">Element number of bridge tower</text>
<text transform="translate(288.70 231.00) rotate(-90)" text-anchor="middle" font-family='"Liberation Serif", "Times New Roman", serif' font-size="13.5" fill="#000">Number (<tspan font-style="italic">S</tspan>&gt;=0.9)</text>
<text x="275.6" y="164.6" font-family='"Liberation Serif", "Times New Roman", serif' font-size="12.2" font-weight="bold" fill="#000">(c)</text>
<text x="274.7" y="328.8" font-family='"Liberation Serif", "Times New Roman", serif' font-size="12.2" font-weight="bold" fill="#000">(d)</text>
</svg>
</body></html>
